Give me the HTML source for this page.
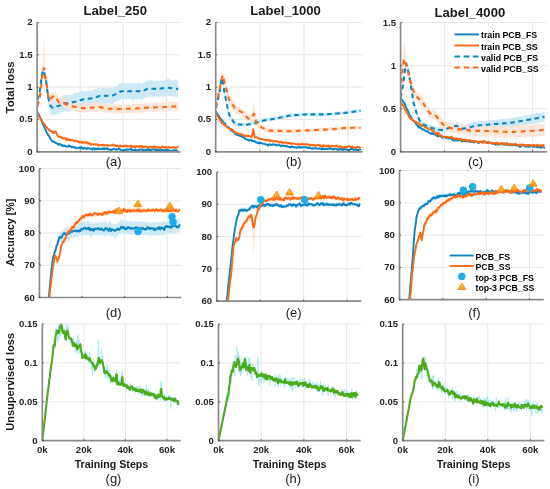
<!DOCTYPE html><html><head><meta charset="utf-8"><style>html,body{margin:0;padding:0;background:#fff;}svg{display:block;filter:blur(0.35px);}</style></head><body>
<svg width="550" height="489" viewBox="0 0 550 489">
<rect width="550" height="489" fill="#fff"/>
<defs>
<clipPath id="clipa"><rect x="37.20" y="21.90" width="143.30" height="129.90"/></clipPath>
<clipPath id="clipb"><rect x="215.70" y="21.90" width="147.00" height="129.90"/></clipPath>
<clipPath id="clipc"><rect x="400.60" y="22.10" width="146.50" height="129.70"/></clipPath>
<clipPath id="clipd"><rect x="39.40" y="168.10" width="142.00" height="129.40"/></clipPath>
<clipPath id="clipe"><rect x="216.80" y="171.50" width="144.60" height="129.60"/></clipPath>
<clipPath id="clipf"><rect x="399.50" y="170.10" width="144.30" height="129.60"/></clipPath>
<clipPath id="clipg"><rect x="42.30" y="323.40" width="138.40" height="117.30"/></clipPath>
<clipPath id="cliph"><rect x="218.50" y="323.60" width="142.20" height="117.10"/></clipPath>
<clipPath id="clipi"><rect x="402.70" y="323.60" width="141.70" height="117.10"/></clipPath>
<linearGradient id="tg" x1="0" y1="0" x2="0" y2="1"><stop offset="0" stop-color="#ffcc33"/><stop offset="1" stop-color="#ff9a10"/></linearGradient>
</defs>
<g stroke="#e6e6e6" stroke-width="1" fill="none"><line x1="37.20" y1="119.45" x2="180.50" y2="119.45"/><line x1="37.20" y1="87.10" x2="180.50" y2="87.10"/><line x1="37.20" y1="54.75" x2="180.50" y2="54.75"/><line x1="37.20" y1="22.40" x2="180.50" y2="22.40"/><line x1="80.23" y1="22.40" x2="80.23" y2="151.80"/><line x1="123.27" y1="22.40" x2="123.27" y2="151.80"/><line x1="166.30" y1="22.40" x2="166.30" y2="151.80"/></g>
<path d="M37.20,96.03 L37.70,95.00 L38.20,92.95 L38.70,91.82 L39.20,89.07 L39.70,87.74 L40.20,84.74 L40.70,80.27 L41.20,75.56 L41.70,70.38 L42.20,69.72 L42.70,67.97 L43.20,65.12 L43.70,65.22 L44.20,67.59 L44.70,69.70 L45.20,69.33 L45.70,71.99 L46.20,76.43 L46.70,79.42 L47.20,83.57 L47.70,87.43 L48.20,90.80 L48.70,93.09 L49.20,95.15 L49.70,96.46 L50.20,97.36 L50.70,97.99 L51.20,98.32 L51.70,99.48 L52.20,98.79 L52.70,99.47 L53.20,98.45 L53.70,98.93 L54.20,98.54 L54.70,99.01 L55.20,97.11 L55.70,97.89 L56.20,97.58 L56.70,98.74 L57.20,98.45 L57.70,98.31 L58.20,98.38 L58.70,98.01 L59.20,97.94 L59.70,97.49 L60.20,97.89 L60.70,97.16 L61.20,96.32 L61.70,96.85 L62.20,96.10 L62.70,96.06 L63.20,95.15 L63.70,95.72 L64.20,94.66 L64.70,95.19 L65.20,94.45 L65.70,94.54 L66.20,95.01 L66.70,95.86 L67.20,95.50 L67.70,95.43 L68.20,94.37 L68.70,95.23 L69.20,94.95 L69.70,94.78 L70.20,94.80 L70.70,94.82 L71.20,94.80 L71.70,95.04 L72.20,94.17 L72.70,94.09 L73.20,94.80 L73.70,93.59 L74.20,93.19 L74.70,92.86 L75.20,92.84 L75.70,92.86 L76.20,93.22 L76.70,92.88 L77.20,91.83 L77.70,92.80 L78.20,93.61 L78.70,91.93 L79.20,92.22 L79.70,91.76 L80.20,91.50 L80.70,92.87 L81.20,90.81 L81.70,90.03 L82.20,90.77 L82.70,90.70 L83.20,91.09 L83.70,91.96 L84.20,91.85 L84.70,91.71 L85.20,90.86 L85.70,90.66 L86.20,91.04 L86.70,90.22 L87.20,91.38 L87.70,90.83 L88.20,90.23 L88.70,90.96 L89.20,90.44 L89.70,90.10 L90.20,90.79 L90.70,91.32 L91.20,90.07 L91.70,91.16 L92.20,91.05 L92.70,90.44 L93.20,90.63 L93.70,88.90 L94.20,90.12 L94.70,88.83 L95.20,88.53 L95.70,89.82 L96.20,89.87 L96.70,89.78 L97.20,87.72 L97.70,87.90 L98.20,88.36 L98.70,87.44 L99.20,88.14 L99.70,86.96 L100.20,88.26 L100.70,88.91 L101.20,88.34 L101.70,87.43 L102.20,87.49 L102.70,87.79 L103.20,88.07 L103.70,87.80 L104.20,87.70 L104.70,87.70 L105.20,88.58 L105.70,88.37 L106.20,88.33 L106.70,88.40 L107.20,88.60 L107.70,88.61 L108.20,88.27 L108.70,87.71 L109.20,88.43 L109.70,88.48 L110.20,87.41 L110.70,87.93 L111.20,86.99 L111.70,87.71 L112.20,88.38 L112.70,87.50 L113.20,87.89 L113.70,87.97 L114.20,86.14 L114.70,86.36 L115.20,87.20 L115.70,85.18 L116.20,86.79 L116.70,86.40 L117.20,85.10 L117.70,85.47 L118.20,84.15 L118.70,83.70 L119.20,83.24 L119.70,83.28 L120.20,83.79 L120.70,83.15 L121.20,83.35 L121.70,82.44 L122.20,83.60 L122.70,82.13 L123.20,82.22 L123.70,83.95 L124.20,82.96 L124.70,83.92 L125.20,82.79 L125.70,84.02 L126.20,83.53 L126.70,83.71 L127.20,83.33 L127.70,83.09 L128.20,82.56 L128.70,82.64 L129.20,84.01 L129.70,83.50 L130.20,82.11 L130.70,82.98 L131.20,83.53 L131.70,83.66 L132.20,83.74 L132.70,82.84 L133.20,81.93 L133.70,83.34 L134.20,83.39 L134.70,83.00 L135.20,82.37 L135.70,82.85 L136.20,83.90 L136.70,83.87 L137.20,83.82 L137.70,82.99 L138.20,82.02 L138.70,81.60 L139.20,82.51 L139.70,83.16 L140.20,83.05 L140.70,83.19 L141.20,83.29 L141.70,83.01 L142.20,82.33 L142.70,83.53 L143.20,82.19 L143.70,83.11 L144.20,82.41 L144.70,82.25 L145.20,81.98 L145.70,81.18 L146.20,80.79 L146.70,80.99 L147.20,81.55 L147.70,80.85 L148.20,80.30 L148.70,80.34 L149.20,81.17 L149.70,80.52 L150.20,80.04 L150.70,80.75 L151.20,80.53 L151.70,78.99 L152.20,79.88 L152.70,80.97 L153.20,80.56 L153.70,81.12 L154.20,81.45 L154.70,80.69 L155.20,81.33 L155.70,80.77 L156.20,80.49 L156.70,80.82 L157.20,80.28 L157.70,80.93 L158.20,81.01 L158.70,81.07 L159.20,81.01 L159.70,81.26 L160.20,81.06 L160.70,80.07 L161.20,79.93 L161.70,80.43 L162.20,80.17 L162.70,80.35 L163.20,80.65 L163.70,80.57 L164.20,80.27 L164.70,80.25 L165.20,80.44 L165.70,80.21 L166.20,79.82 L166.70,79.31 L167.20,78.86 L167.70,78.61 L168.20,80.03 L168.70,78.33 L169.20,78.99 L169.70,79.14 L170.20,79.24 L170.70,79.90 L171.20,80.19 L171.70,80.37 L172.20,80.68 L172.70,80.40 L173.20,80.53 L173.70,80.44 L174.20,81.00 L174.70,80.15 L175.20,79.57 L175.70,79.37 L176.20,79.05 L176.70,80.85 L177.20,81.33 L177.70,81.23 L178.20,80.42 L178.20,98.52 L177.70,98.56 L177.20,97.36 L176.70,98.21 L176.20,96.27 L175.70,96.68 L175.20,96.98 L174.70,96.31 L174.20,97.63 L173.70,96.84 L173.20,96.18 L172.70,95.97 L172.20,96.03 L171.70,95.98 L171.20,96.21 L170.70,96.48 L170.20,96.63 L169.70,95.96 L169.20,95.34 L168.70,96.10 L168.20,95.89 L167.70,96.00 L167.20,95.34 L166.70,96.01 L166.20,95.42 L165.70,95.97 L165.20,96.89 L164.70,96.67 L164.20,96.87 L163.70,96.63 L163.20,96.65 L162.70,96.58 L162.20,97.15 L161.70,96.88 L161.20,95.94 L160.70,96.54 L160.20,96.80 L159.70,97.44 L159.20,96.52 L158.70,97.16 L158.20,96.51 L157.70,96.55 L157.20,98.14 L156.70,96.46 L156.20,96.56 L155.70,96.30 L155.20,96.75 L154.70,96.80 L154.20,96.36 L153.70,97.12 L153.20,97.70 L152.70,97.30 L152.20,96.47 L151.70,96.70 L151.20,97.40 L150.70,96.19 L150.20,96.22 L149.70,96.38 L149.20,96.96 L148.70,97.39 L148.20,97.11 L147.70,96.66 L147.20,96.45 L146.70,97.07 L146.20,98.33 L145.70,97.37 L145.20,98.27 L144.70,97.82 L144.20,98.23 L143.70,98.76 L143.20,98.33 L142.70,99.27 L142.20,99.13 L141.70,99.20 L141.20,99.72 L140.70,99.32 L140.20,100.11 L139.70,99.16 L139.20,98.92 L138.70,99.23 L138.20,99.28 L137.70,98.61 L137.20,99.26 L136.70,99.50 L136.20,100.26 L135.70,98.54 L135.20,98.66 L134.70,99.00 L134.20,100.09 L133.70,100.23 L133.20,100.10 L132.70,100.17 L132.20,100.36 L131.70,99.07 L131.20,98.71 L130.70,99.62 L130.20,98.50 L129.70,98.52 L129.20,98.77 L128.70,98.75 L128.20,99.19 L127.70,98.63 L127.20,98.82 L126.70,99.20 L126.20,100.30 L125.70,99.09 L125.20,98.73 L124.70,98.78 L124.20,98.82 L123.70,98.93 L123.20,99.04 L122.70,98.77 L122.20,98.58 L121.70,98.74 L121.20,100.12 L120.70,100.18 L120.20,99.25 L119.70,99.52 L119.20,100.57 L118.70,101.24 L118.20,100.37 L117.70,100.47 L117.20,101.22 L116.70,101.62 L116.20,101.77 L115.70,102.02 L115.20,101.72 L114.70,101.88 L114.20,102.04 L113.70,102.79 L113.20,103.60 L112.70,104.42 L112.20,103.65 L111.70,104.27 L111.20,103.17 L110.70,103.41 L110.20,104.56 L109.70,103.19 L109.20,103.07 L108.70,103.22 L108.20,102.78 L107.70,103.97 L107.20,103.15 L106.70,102.81 L106.20,102.93 L105.70,103.81 L105.20,103.81 L104.70,103.87 L104.20,104.61 L103.70,103.67 L103.20,104.06 L102.70,105.32 L102.20,106.40 L101.70,104.10 L101.20,103.94 L100.70,104.09 L100.20,103.65 L99.70,103.53 L99.20,104.90 L98.70,103.76 L98.20,104.02 L97.70,103.75 L97.20,104.54 L96.70,104.17 L96.20,104.79 L95.70,104.29 L95.20,105.52 L94.70,104.65 L94.20,104.97 L93.70,105.18 L93.20,105.08 L92.70,105.83 L92.20,105.50 L91.70,105.55 L91.20,106.60 L90.70,106.52 L90.20,107.22 L89.70,107.24 L89.20,107.22 L88.70,106.96 L88.20,106.10 L87.70,106.92 L87.20,106.53 L86.70,106.14 L86.20,106.73 L85.70,106.33 L85.20,106.19 L84.70,106.53 L84.20,106.72 L83.70,107.37 L83.20,107.56 L82.70,106.73 L82.20,107.38 L81.70,108.09 L81.20,107.84 L80.70,108.77 L80.20,108.77 L79.70,108.78 L79.20,108.72 L78.70,108.00 L78.20,108.37 L77.70,109.49 L77.20,109.36 L76.70,109.79 L76.20,109.40 L75.70,109.49 L75.20,109.80 L74.70,109.83 L74.20,109.42 L73.70,110.34 L73.20,109.60 L72.70,110.15 L72.20,110.15 L71.70,110.43 L71.20,110.75 L70.70,111.09 L70.20,110.39 L69.70,110.41 L69.20,111.38 L68.70,112.44 L68.20,112.22 L67.70,110.84 L67.20,111.46 L66.70,111.78 L66.20,110.86 L65.70,111.23 L65.20,111.14 L64.70,110.56 L64.20,110.87 L63.70,110.84 L63.20,112.37 L62.70,111.59 L62.20,112.67 L61.70,112.12 L61.20,112.30 L60.70,112.84 L60.20,112.89 L59.70,113.30 L59.20,113.95 L58.70,113.51 L58.20,114.00 L57.70,114.35 L57.20,114.40 L56.70,114.45 L56.20,114.55 L55.70,115.15 L55.20,114.83 L54.70,114.58 L54.20,115.05 L53.70,115.03 L53.20,115.49 L52.70,115.97 L52.20,115.78 L51.70,115.05 L51.20,114.48 L50.70,113.66 L50.20,112.24 L49.70,111.31 L49.20,109.00 L48.70,107.00 L48.20,103.94 L47.70,99.78 L47.20,96.66 L46.70,93.84 L46.20,87.80 L45.70,83.67 L45.20,82.86 L44.70,80.59 L44.20,78.48 L43.70,75.36 L43.20,74.86 L42.70,76.13 L42.20,77.44 L41.70,79.54 L41.20,83.66 L40.70,88.98 L40.20,91.98 L39.70,96.91 L39.20,98.41 L38.70,99.04 L38.20,100.67 L37.70,101.72 L37.20,103.52 Z" fill="#cde9f6" fill-opacity="1.00" clip-path="url(#clipa)"/>
<path d="M37.20,102.24 L37.70,101.47 L38.20,100.27 L38.70,98.48 L39.20,96.32 L39.70,93.99 L40.20,91.74 L40.70,87.07 L41.20,83.58 L41.70,79.08 L42.20,73.96 L42.70,67.64 L43.20,56.39 L43.70,44.28 L44.20,34.40 L44.70,46.86 L45.20,59.66 L45.70,72.37 L46.20,77.07 L46.70,80.31 L47.20,84.37 L47.70,87.80 L48.20,91.73 L48.70,93.93 L49.20,94.39 L49.70,95.01 L50.20,94.99 L50.70,94.53 L51.20,92.70 L51.70,92.92 L52.20,92.40 L52.70,91.99 L53.20,91.63 L53.70,91.22 L54.20,91.38 L54.70,91.87 L55.20,92.52 L55.70,93.09 L56.20,93.67 L56.70,93.79 L57.20,95.49 L57.70,96.09 L58.20,97.13 L58.70,97.72 L59.20,97.72 L59.70,97.86 L60.20,97.62 L60.70,96.27 L61.20,97.56 L61.70,97.41 L62.20,97.44 L62.70,98.09 L63.20,98.36 L63.70,98.06 L64.20,99.04 L64.70,99.50 L65.20,99.62 L65.70,99.92 L66.20,99.97 L66.70,100.18 L67.20,99.92 L67.70,100.22 L68.20,100.81 L68.70,101.02 L69.20,101.14 L69.70,100.83 L70.20,101.36 L70.70,101.41 L71.20,101.20 L71.70,101.28 L72.20,101.43 L72.70,101.21 L73.20,101.39 L73.70,101.84 L74.20,102.66 L74.70,102.14 L75.20,101.92 L75.70,102.19 L76.20,102.47 L76.70,102.37 L77.20,102.36 L77.70,102.99 L78.20,101.90 L78.70,102.75 L79.20,103.44 L79.70,102.55 L80.20,103.32 L80.70,103.34 L81.20,103.65 L81.70,103.07 L82.20,103.97 L82.70,104.15 L83.20,104.31 L83.70,103.92 L84.20,104.06 L84.70,104.19 L85.20,103.58 L85.70,103.61 L86.20,101.89 L86.70,102.93 L87.20,103.45 L87.70,103.63 L88.20,103.72 L88.70,103.16 L89.20,103.02 L89.70,103.59 L90.20,103.69 L90.70,103.04 L91.20,103.25 L91.70,103.45 L92.20,103.35 L92.70,102.30 L93.20,102.48 L93.70,103.00 L94.20,103.29 L94.70,102.28 L95.20,102.87 L95.70,101.72 L96.20,103.08 L96.70,103.08 L97.20,102.94 L97.70,102.59 L98.20,102.63 L98.70,102.74 L99.20,102.73 L99.70,102.18 L100.20,102.94 L100.70,102.33 L101.20,103.16 L101.70,103.17 L102.20,102.45 L102.70,103.60 L103.20,103.07 L103.70,103.21 L104.20,103.30 L104.70,103.96 L105.20,104.18 L105.70,103.78 L106.20,103.17 L106.70,103.21 L107.20,103.95 L107.70,103.56 L108.20,103.71 L108.70,104.51 L109.20,104.53 L109.70,103.92 L110.20,104.34 L110.70,104.41 L111.20,103.77 L111.70,104.71 L112.20,103.81 L112.70,104.66 L113.20,103.81 L113.70,104.02 L114.20,104.17 L114.70,104.62 L115.20,104.44 L115.70,104.75 L116.20,104.08 L116.70,104.74 L117.20,104.30 L117.70,104.37 L118.20,104.82 L118.70,104.42 L119.20,104.82 L119.70,104.58 L120.20,104.76 L120.70,104.58 L121.20,104.84 L121.70,104.30 L122.20,104.39 L122.70,104.41 L123.20,104.88 L123.70,104.13 L124.20,104.37 L124.70,104.37 L125.20,104.65 L125.70,104.71 L126.20,104.25 L126.70,104.34 L127.20,104.71 L127.70,104.66 L128.20,104.54 L128.70,104.18 L129.20,104.41 L129.70,104.38 L130.20,104.42 L130.70,104.52 L131.20,104.43 L131.70,104.40 L132.20,104.30 L132.70,103.86 L133.20,103.91 L133.70,102.99 L134.20,104.41 L134.70,104.45 L135.20,104.14 L135.70,103.74 L136.20,104.05 L136.70,103.53 L137.20,103.84 L137.70,104.04 L138.20,103.51 L138.70,103.93 L139.20,104.12 L139.70,103.60 L140.20,103.76 L140.70,103.83 L141.20,103.55 L141.70,103.04 L142.20,103.97 L142.70,103.90 L143.20,103.70 L143.70,103.32 L144.20,103.48 L144.70,103.14 L145.20,102.89 L145.70,103.23 L146.20,103.32 L146.70,103.71 L147.20,103.58 L147.70,102.94 L148.20,103.19 L148.70,103.17 L149.20,103.16 L149.70,103.35 L150.20,102.94 L150.70,103.42 L151.20,102.67 L151.70,103.23 L152.20,102.93 L152.70,103.39 L153.20,102.85 L153.70,102.51 L154.20,102.44 L154.70,103.29 L155.20,103.24 L155.70,102.83 L156.20,102.70 L156.70,102.64 L157.20,102.45 L157.70,103.04 L158.20,102.71 L158.70,103.17 L159.20,103.06 L159.70,102.96 L160.20,103.14 L160.70,102.77 L161.20,102.27 L161.70,102.71 L162.20,101.91 L162.70,102.04 L163.20,101.75 L163.70,102.96 L164.20,102.54 L164.70,102.64 L165.20,102.86 L165.70,102.61 L166.20,102.06 L166.70,102.67 L167.20,102.74 L167.70,101.71 L168.20,101.68 L168.70,102.04 L169.20,101.98 L169.70,102.23 L170.20,101.96 L170.70,101.51 L171.20,102.04 L171.70,101.92 L172.20,101.98 L172.70,101.77 L173.20,101.58 L173.70,102.47 L174.20,101.81 L174.70,101.56 L175.20,102.36 L175.70,102.21 L176.20,101.49 L176.70,101.67 L177.20,102.09 L177.70,101.54 L178.20,101.40 L178.20,110.52 L177.70,110.59 L177.20,110.49 L176.70,110.54 L176.20,110.90 L175.70,110.45 L175.20,110.79 L174.70,111.54 L174.20,110.56 L173.70,110.58 L173.20,110.55 L172.70,111.35 L172.20,111.02 L171.70,111.36 L171.20,110.91 L170.70,111.41 L170.20,111.37 L169.70,111.03 L169.20,110.84 L168.70,111.00 L168.20,110.87 L167.70,111.17 L167.20,111.55 L166.70,110.93 L166.20,111.71 L165.70,111.52 L165.20,111.08 L164.70,111.04 L164.20,111.36 L163.70,111.05 L163.20,111.60 L162.70,111.56 L162.20,112.51 L161.70,112.99 L161.20,111.70 L160.70,111.66 L160.20,111.31 L159.70,111.33 L159.20,111.61 L158.70,111.34 L158.20,111.85 L157.70,111.71 L157.20,111.45 L156.70,111.75 L156.20,112.17 L155.70,111.83 L155.20,112.23 L154.70,112.12 L154.20,112.66 L153.70,111.91 L153.20,112.30 L152.70,112.34 L152.20,111.74 L151.70,111.54 L151.20,111.99 L150.70,111.49 L150.20,111.62 L149.70,113.17 L149.20,112.76 L148.70,112.12 L148.20,111.78 L147.70,112.14 L147.20,111.93 L146.70,111.85 L146.20,111.91 L145.70,112.13 L145.20,111.91 L144.70,111.88 L144.20,112.12 L143.70,112.66 L143.20,113.10 L142.70,113.23 L142.20,113.60 L141.70,113.09 L141.20,113.03 L140.70,113.46 L140.20,112.87 L139.70,112.37 L139.20,112.36 L138.70,113.37 L138.20,114.31 L137.70,113.83 L137.20,112.93 L136.70,112.45 L136.20,112.62 L135.70,112.67 L135.20,113.01 L134.70,112.69 L134.20,113.32 L133.70,113.52 L133.20,113.14 L132.70,113.17 L132.20,112.63 L131.70,112.71 L131.20,113.91 L130.70,113.85 L130.20,112.92 L129.70,112.94 L129.20,112.82 L128.70,112.78 L128.20,113.62 L127.70,113.49 L127.20,113.42 L126.70,113.10 L126.20,113.13 L125.70,113.00 L125.20,112.93 L124.70,113.25 L124.20,113.19 L123.70,113.42 L123.20,113.72 L122.70,113.79 L122.20,112.94 L121.70,113.76 L121.20,113.05 L120.70,113.25 L120.20,113.06 L119.70,113.32 L119.20,113.41 L118.70,113.73 L118.20,112.99 L117.70,113.36 L117.20,114.02 L116.70,113.53 L116.20,113.48 L115.70,113.17 L115.20,114.09 L114.70,113.75 L114.20,113.14 L113.70,112.85 L113.20,113.05 L112.70,113.07 L112.20,112.83 L111.70,112.79 L111.20,112.91 L110.70,113.06 L110.20,113.00 L109.70,112.99 L109.20,112.70 L108.70,113.00 L108.20,112.79 L107.70,113.85 L107.20,112.87 L106.70,113.17 L106.20,112.74 L105.70,112.98 L105.20,113.20 L104.70,112.90 L104.20,113.10 L103.70,112.66 L103.20,112.39 L102.70,111.80 L102.20,111.90 L101.70,112.07 L101.20,112.42 L100.70,111.57 L100.20,111.33 L99.70,111.51 L99.20,110.99 L98.70,111.35 L98.20,111.08 L97.70,111.08 L97.20,111.90 L96.70,111.96 L96.20,111.73 L95.70,111.21 L95.20,112.05 L94.70,112.05 L94.20,112.54 L93.70,111.73 L93.20,112.35 L92.70,112.18 L92.20,112.24 L91.70,112.86 L91.20,112.45 L90.70,111.87 L90.20,112.05 L89.70,111.97 L89.20,111.96 L88.70,111.91 L88.20,112.19 L87.70,112.17 L87.20,112.55 L86.70,112.32 L86.20,112.36 L85.70,112.85 L85.20,112.66 L84.70,112.39 L84.20,113.05 L83.70,112.84 L83.20,112.86 L82.70,112.33 L82.20,112.39 L81.70,112.45 L81.20,112.27 L80.70,112.39 L80.20,111.86 L79.70,112.30 L79.20,112.32 L78.70,112.31 L78.20,112.00 L77.70,111.96 L77.20,111.28 L76.70,111.63 L76.20,112.23 L75.70,112.08 L75.20,111.61 L74.70,111.10 L74.20,111.24 L73.70,111.94 L73.20,111.34 L72.70,110.98 L72.20,110.40 L71.70,110.79 L71.20,110.15 L70.70,110.59 L70.20,110.53 L69.70,110.19 L69.20,109.72 L68.70,109.87 L68.20,109.59 L67.70,109.90 L67.20,108.71 L66.70,109.21 L66.20,109.04 L65.70,108.37 L65.20,108.35 L64.70,108.42 L64.20,107.34 L63.70,107.00 L63.20,107.07 L62.70,106.29 L62.20,106.83 L61.70,105.94 L61.20,105.77 L60.70,106.24 L60.20,105.96 L59.70,106.06 L59.20,107.51 L58.70,107.20 L58.20,105.40 L57.70,104.83 L57.20,104.22 L56.70,103.54 L56.20,102.43 L55.70,101.51 L55.20,100.92 L54.70,100.34 L54.20,100.95 L53.70,100.22 L53.20,100.48 L52.70,100.92 L52.20,101.40 L51.70,101.83 L51.20,103.30 L50.70,103.22 L50.20,104.48 L49.70,104.89 L49.20,103.68 L48.70,102.24 L48.20,99.85 L47.70,95.98 L47.20,92.00 L46.70,88.58 L46.20,85.87 L45.70,82.67 L45.20,80.07 L44.70,75.88 L44.20,71.28 L43.70,71.67 L43.20,73.93 L42.70,76.93 L42.20,81.38 L41.70,85.97 L41.20,90.03 L40.70,94.20 L40.20,98.35 L39.70,100.43 L39.20,102.83 L38.70,105.95 L38.20,107.38 L37.70,108.42 L37.20,109.45 Z" fill="#fde2d0" fill-opacity="0.85" clip-path="url(#clipa)"/>
<path d="M37.20,111.81 L37.70,113.13 L38.20,113.42 L38.70,114.09 L39.20,115.44 L39.70,117.10 L40.20,117.92 L40.70,118.41 L41.20,119.48 L41.70,120.91 L42.20,122.59 L42.70,123.59 L43.20,124.53 L43.70,125.65 L44.20,126.94 L44.70,127.79 L45.20,129.11 L45.70,130.23 L46.20,131.77 L46.70,132.30 L47.20,133.48 L47.70,133.74 L48.20,135.09 L48.70,135.79 L49.20,136.28 L49.70,137.15 L50.20,138.34 L50.70,138.81 L51.20,140.00 L51.70,140.89 L52.20,141.43 L52.70,141.86 L53.20,141.13 L53.70,141.68 L54.20,141.72 L54.70,142.58 L55.20,142.76 L55.70,143.02 L56.20,143.36 L56.70,143.24 L57.20,143.61 L57.70,143.59 L58.20,144.82 L58.70,144.47 L59.20,144.62 L59.70,144.03 L60.20,143.98 L60.70,144.28 L61.20,145.11 L61.70,145.51 L62.20,145.55 L62.70,145.28 L63.20,146.22 L63.70,145.55 L64.20,145.42 L64.70,145.96 L65.20,145.68 L65.70,146.13 L66.20,146.66 L66.70,146.54 L67.20,146.69 L67.70,146.64 L68.20,146.38 L68.70,145.34 L69.20,145.72 L69.70,146.38 L70.20,146.04 L70.70,146.37 L71.20,146.83 L71.70,147.49 L72.20,146.74 L72.70,146.80 L73.20,147.16 L73.70,147.45 L74.20,146.86 L74.70,147.93 L75.20,147.34 L75.70,147.89 L76.20,147.64 L76.70,147.82 L77.20,148.41 L77.70,148.31 L78.20,148.08 L78.70,147.59 L79.20,147.56 L79.70,147.28 L80.20,148.54 L80.70,147.65 L81.20,146.91 L81.70,148.28 L82.20,148.70 L82.70,148.25 L83.20,148.55 L83.70,148.03 L84.20,147.94 L84.70,148.34 L85.20,148.47 L85.70,148.20 L86.20,148.93 L86.70,148.88 L87.20,148.65 L87.70,148.05 L88.20,148.34 L88.70,148.30 L89.20,148.39 L89.70,148.78 L90.20,148.42 L90.70,148.62 L91.20,148.92 L91.70,148.88 L92.20,149.64 L92.70,148.38 L93.20,148.54 L93.70,148.19 L94.20,148.50 L94.70,149.65 L95.20,148.49 L95.70,148.58 L96.20,149.00 L96.70,148.96 L97.20,149.28 L97.70,148.45 L98.20,149.13 L98.70,148.66 L99.20,148.38 L99.70,148.99 L100.20,149.21 L100.70,148.82 L101.20,148.64 L101.70,148.82 L102.20,148.98 L102.70,148.98 L103.20,148.66 L103.70,148.03 L104.20,149.21 L104.70,149.24 L105.20,148.71 L105.70,148.37 L106.20,148.59 L106.70,148.79 L107.20,148.21 L107.70,149.37 L108.20,149.46 L108.70,149.21 L109.20,149.38 L109.70,149.41 L110.20,149.76 L110.70,149.55 L111.20,149.91 L111.70,150.17 L112.20,149.55 L112.70,149.26 L113.20,148.98 L113.70,149.13 L114.20,149.01 L114.70,149.25 L115.20,149.48 L115.70,149.67 L116.20,149.08 L116.70,149.74 L117.20,149.46 L117.70,149.43 L118.20,149.27 L118.70,148.63 L119.20,149.27 L119.70,148.74 L120.20,149.66 L120.70,149.62 L121.20,150.21 L121.70,150.10 L122.20,150.08 L122.70,150.36 L123.20,149.91 L123.70,150.36 L124.20,149.89 L124.70,149.86 L125.20,149.49 L125.70,149.83 L126.20,150.03 L126.70,149.65 L127.20,149.20 L127.70,149.52 L128.20,149.84 L128.70,149.74 L129.20,149.39 L129.70,149.36 L130.20,149.53 L130.70,148.67 L131.20,149.13 L131.70,150.12 L132.20,149.45 L132.70,149.60 L133.20,150.42 L133.70,150.36 L134.20,150.42 L134.70,150.03 L135.20,149.42 L135.70,150.83 L136.20,150.38 L136.70,150.18 L137.20,150.66 L137.70,150.53 L138.20,150.18 L138.70,149.59 L139.20,149.73 L139.70,149.79 L140.20,149.61 L140.70,149.47 L141.20,149.36 L141.70,149.67 L142.20,149.61 L142.70,149.99 L143.20,150.38 L143.70,150.26 L144.20,150.10 L144.70,150.65 L145.20,150.52 L145.70,149.63 L146.20,149.57 L146.70,149.92 L147.20,149.63 L147.70,150.17 L148.20,149.40 L148.70,149.03 L149.20,150.03 L149.70,150.27 L150.20,149.51 L150.70,149.87 L151.20,150.52 L151.70,149.81 L152.20,149.51 L152.70,149.38 L153.20,149.42 L153.70,149.14 L154.20,149.53 L154.70,149.31 L155.20,149.82 L155.70,150.88 L156.20,150.02 L156.70,150.45 L157.20,150.73 L157.70,149.47 L158.20,149.92 L158.70,150.06 L159.20,149.99 L159.70,150.42 L160.20,150.10 L160.70,150.29 L161.20,150.08 L161.70,150.10 L162.20,149.85 L162.70,150.96 L163.20,150.49 L163.70,149.89 L164.20,150.86 L164.70,151.11 L165.20,150.51 L165.70,150.09 L166.20,149.90 L166.70,150.60 L167.20,150.27 L167.70,149.99 L168.20,150.50 L168.70,150.26 L169.20,150.26 L169.70,151.05 L170.20,150.94 L170.70,151.05 L171.20,150.77 L171.70,151.01 L172.20,150.53 L172.70,150.79 L173.20,150.93 L173.70,150.42 L174.20,149.87 L174.70,150.38 L175.20,150.32 L175.70,150.59 L176.20,150.23 L176.70,150.53 L177.20,150.82 L177.70,151.50 L178.20,151.55" stroke="#0b84c3" stroke-width="1.90" fill="none" stroke-linejoin="round" clip-path="url(#clipa)"/>
<path d="M37.20,111.71 L37.70,112.69 L38.20,115.25 L38.70,115.77 L39.20,116.54 L39.70,117.65 L40.20,118.29 L40.70,118.93 L41.20,120.25 L41.70,120.91 L42.20,122.24 L42.70,122.78 L43.20,122.68 L43.70,123.22 L44.20,124.01 L44.70,124.25 L45.20,125.53 L45.70,126.23 L46.20,127.34 L46.70,127.35 L47.20,127.95 L47.70,128.84 L48.20,129.52 L48.70,129.24 L49.20,130.40 L49.70,130.20 L50.20,131.09 L50.70,131.05 L51.20,131.21 L51.70,131.04 L52.20,131.53 L52.70,132.88 L53.20,132.28 L53.70,133.06 L54.20,133.05 L54.70,131.73 L55.20,131.43 L55.70,131.82 L56.20,132.56 L56.70,133.56 L57.20,135.14 L57.70,135.62 L58.20,136.89 L58.70,137.04 L59.20,136.62 L59.70,136.89 L60.20,136.62 L60.70,137.41 L61.20,137.79 L61.70,137.57 L62.20,137.37 L62.70,138.13 L63.20,137.99 L63.70,138.69 L64.20,138.14 L64.70,138.30 L65.20,138.35 L65.70,138.25 L66.20,139.86 L66.70,140.16 L67.20,139.38 L67.70,139.73 L68.20,138.86 L68.70,139.85 L69.20,140.25 L69.70,139.89 L70.20,139.81 L70.70,140.09 L71.20,140.37 L71.70,140.20 L72.20,140.01 L72.70,140.24 L73.20,140.34 L73.70,140.95 L74.20,140.97 L74.70,141.12 L75.20,140.45 L75.70,140.79 L76.20,140.99 L76.70,141.09 L77.20,141.37 L77.70,141.47 L78.20,141.07 L78.70,142.01 L79.20,142.45 L79.70,142.09 L80.20,142.48 L80.70,142.02 L81.20,141.74 L81.70,142.11 L82.20,143.03 L82.70,142.75 L83.20,142.09 L83.70,142.60 L84.20,142.51 L84.70,142.46 L85.20,142.92 L85.70,142.28 L86.20,142.05 L86.70,142.13 L87.20,143.27 L87.70,143.36 L88.20,143.14 L88.70,143.06 L89.20,143.63 L89.70,144.15 L90.20,143.58 L90.70,143.80 L91.20,144.81 L91.70,144.52 L92.20,144.06 L92.70,144.20 L93.20,144.20 L93.70,144.48 L94.20,144.50 L94.70,144.20 L95.20,144.27 L95.70,144.55 L96.20,144.26 L96.70,144.51 L97.20,144.24 L97.70,145.06 L98.20,145.57 L98.70,144.81 L99.20,145.26 L99.70,145.20 L100.20,145.17 L100.70,145.01 L101.20,145.18 L101.70,145.57 L102.20,144.82 L102.70,145.46 L103.20,145.20 L103.70,144.77 L104.20,145.05 L104.70,145.46 L105.20,145.33 L105.70,145.46 L106.20,145.26 L106.70,145.12 L107.20,145.71 L107.70,145.16 L108.20,145.76 L108.70,145.74 L109.20,145.49 L109.70,145.43 L110.20,145.39 L110.70,145.49 L111.20,145.55 L111.70,145.54 L112.20,144.82 L112.70,144.47 L113.20,145.36 L113.70,145.33 L114.20,145.35 L114.70,145.55 L115.20,145.25 L115.70,146.24 L116.20,146.02 L116.70,145.87 L117.20,145.46 L117.70,146.11 L118.20,146.32 L118.70,146.74 L119.20,146.67 L119.70,145.96 L120.20,145.50 L120.70,146.42 L121.20,145.96 L121.70,146.02 L122.20,146.04 L122.70,146.34 L123.20,146.49 L123.70,145.92 L124.20,145.86 L124.70,145.41 L125.20,146.18 L125.70,146.21 L126.20,145.61 L126.70,146.51 L127.20,146.46 L127.70,146.03 L128.20,146.12 L128.70,146.10 L129.20,146.39 L129.70,146.57 L130.20,146.33 L130.70,146.64 L131.20,145.54 L131.70,146.03 L132.20,146.64 L132.70,147.01 L133.20,147.10 L133.70,146.39 L134.20,145.85 L134.70,146.19 L135.20,147.41 L135.70,147.08 L136.20,146.54 L136.70,145.95 L137.20,146.46 L137.70,146.43 L138.20,146.82 L138.70,146.85 L139.20,145.84 L139.70,146.34 L140.20,146.92 L140.70,146.60 L141.20,146.23 L141.70,146.10 L142.20,145.99 L142.70,147.39 L143.20,147.64 L143.70,146.92 L144.20,147.44 L144.70,146.67 L145.20,146.58 L145.70,146.46 L146.20,146.65 L146.70,147.08 L147.20,147.82 L147.70,147.59 L148.20,147.16 L148.70,147.11 L149.20,146.93 L149.70,147.12 L150.20,146.69 L150.70,146.98 L151.20,147.19 L151.70,147.48 L152.20,146.88 L152.70,147.15 L153.20,147.21 L153.70,146.80 L154.20,146.17 L154.70,146.50 L155.20,147.22 L155.70,147.04 L156.20,148.02 L156.70,147.72 L157.20,147.09 L157.70,147.09 L158.20,147.33 L158.70,147.44 L159.20,147.20 L159.70,147.39 L160.20,148.49 L160.70,148.10 L161.20,147.65 L161.70,147.22 L162.20,146.52 L162.70,147.05 L163.20,147.02 L163.70,147.17 L164.20,147.03 L164.70,147.52 L165.20,147.84 L165.70,147.26 L166.20,146.76 L166.70,147.25 L167.20,147.89 L167.70,147.75 L168.20,147.74 L168.70,146.97 L169.20,147.02 L169.70,147.50 L170.20,147.62 L170.70,147.52 L171.20,147.72 L171.70,147.92 L172.20,147.69 L172.70,147.29 L173.20,146.85 L173.70,147.34 L174.20,147.39 L174.70,147.41 L175.20,147.94 L175.70,147.45 L176.20,147.42 L176.70,147.78 L177.20,147.32 L177.70,146.63 L178.20,147.00" stroke="#ff6813" stroke-width="1.90" fill="none" stroke-linejoin="round" clip-path="url(#clipa)"/>
<path d="M37.20,100.00 L37.70,98.36 L38.20,96.72 L38.70,95.08 L39.20,93.44 L39.70,91.80 L40.20,88.22 L40.70,84.63 L41.20,79.60 L41.70,75.34 L42.20,73.68 L42.70,72.02 L43.20,70.36 L43.70,70.78 L44.20,72.57 L44.70,74.36 L45.20,76.15 L45.70,77.94 L46.20,81.57 L46.70,85.65 L47.20,89.62 L47.70,93.43 L48.20,97.24 L48.70,99.62 L49.20,101.65 L49.70,103.68 L50.20,105.40 L50.70,105.90 L51.20,106.40 L51.70,106.90 L52.20,107.40 L52.70,107.76 L53.20,107.58 L53.70,107.40 L54.20,107.22 L54.70,107.04 L55.20,106.86 L55.70,106.68 L56.20,106.50 L56.70,106.36 L57.20,106.22 L57.70,106.08 L58.20,105.94 L58.70,105.80 L59.20,105.66 L59.70,105.52 L60.20,105.38 L60.70,105.17 L61.20,104.85 L61.70,104.52 L62.20,104.20 L62.70,103.87 L63.20,103.55 L63.70,103.22 L64.20,102.90 L64.70,102.98 L65.20,103.06 L65.70,103.14 L66.20,103.22 L66.70,103.31 L67.20,103.39 L67.70,103.47 L68.20,103.42 L68.70,103.29 L69.20,103.16 L69.70,103.02 L70.20,102.89 L70.70,102.76 L71.20,102.62 L71.70,102.49 L72.20,102.36 L72.70,102.23 L73.20,102.12 L73.70,102.03 L74.20,101.94 L74.70,101.84 L75.20,101.75 L75.70,101.66 L76.20,101.54 L76.70,101.38 L77.20,101.22 L77.70,101.06 L78.20,100.91 L78.70,100.75 L79.20,100.59 L79.70,100.43 L80.20,100.27 L80.70,100.12 L81.20,99.96 L81.70,99.80 L82.20,99.64 L82.70,99.48 L83.20,99.33 L83.70,99.19 L84.20,99.14 L84.70,99.09 L85.20,99.03 L85.70,98.98 L86.20,98.93 L86.70,98.88 L87.20,98.83 L87.70,98.77 L88.20,98.72 L88.70,98.67 L89.20,98.62 L89.70,98.57 L90.20,98.51 L90.70,98.46 L91.20,98.41 L91.70,98.29 L92.20,98.15 L92.70,98.01 L93.20,97.88 L93.70,97.74 L94.20,97.60 L94.70,97.46 L95.20,97.32 L95.70,97.19 L96.20,97.05 L96.70,96.91 L97.20,96.77 L97.70,96.63 L98.20,96.50 L98.70,96.36 L99.20,96.22 L99.70,96.08 L100.20,95.99 L100.70,95.97 L101.20,95.95 L101.70,95.93 L102.20,95.92 L102.70,95.90 L103.20,95.88 L103.70,95.86 L104.20,95.84 L104.70,95.82 L105.20,95.80 L105.70,95.78 L106.20,95.76 L106.70,95.74 L107.20,95.72 L107.70,95.70 L108.20,95.68 L108.70,95.67 L109.20,95.65 L109.70,95.63 L110.20,95.61 L110.70,95.59 L111.20,95.57 L111.70,95.55 L112.20,95.53 L112.70,95.51 L113.20,95.40 L113.70,95.15 L114.20,94.90 L114.70,94.65 L115.20,94.40 L115.70,94.15 L116.20,93.90 L116.70,93.65 L117.20,93.40 L117.70,93.15 L118.20,92.89 L118.70,92.60 L119.20,92.32 L119.70,92.04 L120.20,91.75 L120.70,91.47 L121.20,91.30 L121.70,91.30 L122.20,91.30 L122.70,91.30 L123.20,91.30 L123.70,91.30 L124.20,91.30 L124.70,91.30 L125.20,91.30 L125.70,91.30 L126.20,91.30 L126.70,91.30 L127.20,91.30 L127.70,91.30 L128.20,91.30 L128.70,91.30 L129.20,91.30 L129.70,91.30 L130.20,91.30 L130.70,91.30 L131.20,91.30 L131.70,91.30 L132.20,91.30 L132.70,91.30 L133.20,91.30 L133.70,91.30 L134.20,91.30 L134.70,91.30 L135.20,91.30 L135.70,91.30 L136.20,91.29 L136.70,91.27 L137.20,91.25 L137.70,91.23 L138.20,91.21 L138.70,91.18 L139.20,91.16 L139.70,91.14 L140.20,91.12 L140.70,91.10 L141.20,91.08 L141.70,91.06 L142.20,91.03 L142.70,91.01 L143.20,90.90 L143.70,90.65 L144.20,90.40 L144.70,90.15 L145.20,89.90 L145.70,89.65 L146.20,89.40 L146.70,89.15 L147.20,88.90 L147.70,88.65 L148.20,88.51 L148.70,88.53 L149.20,88.56 L149.70,88.58 L150.20,88.61 L150.70,88.64 L151.20,88.66 L151.70,88.69 L152.20,88.71 L152.70,88.73 L153.20,88.76 L153.70,88.78 L154.20,88.81 L154.70,88.83 L155.20,88.86 L155.70,88.89 L156.20,88.91 L156.70,88.94 L157.20,88.96 L157.70,88.98 L158.20,88.97 L158.70,88.89 L159.20,88.81 L159.70,88.74 L160.20,88.66 L160.70,88.58 L161.20,88.50 L161.70,88.42 L162.20,88.35 L162.70,88.27 L163.20,88.19 L163.70,88.11 L164.20,88.04 L164.70,87.96 L165.20,87.88 L165.70,87.80 L166.20,87.72 L166.70,87.65 L167.20,87.62 L167.70,87.69 L168.20,87.75 L168.70,87.81 L169.20,87.87 L169.70,87.93 L170.20,87.99 L170.70,88.05 L171.20,88.11 L171.70,88.17 L172.20,88.23 L172.70,88.29 L173.20,88.35 L173.70,88.42 L174.20,88.48 L174.70,88.54 L175.20,88.60 L175.70,88.66 L176.20,88.72 L176.70,88.78 L177.20,88.84 L177.70,88.90 L178.20,88.96" stroke="#0b84c3" stroke-width="2.10" fill="none" stroke-linejoin="round" clip-path="url(#clipa)" stroke-dasharray="4.6 3.6"/>
<path d="M37.20,106.00 L37.70,104.81 L38.20,103.62 L38.70,101.94 L39.20,99.56 L39.70,97.17 L40.20,94.78 L40.70,91.00 L41.20,86.87 L41.70,82.57 L42.20,77.98 L42.70,73.40 L43.20,70.82 L43.70,68.25 L44.20,68.23 L44.70,72.07 L45.20,75.90 L45.70,78.96 L46.20,82.01 L46.70,85.07 L47.20,88.41 L47.70,92.18 L48.20,95.95 L48.70,97.93 L49.20,99.48 L49.70,100.13 L50.20,99.47 L50.70,98.80 L51.20,98.13 L51.70,97.68 L52.20,97.27 L52.70,96.87 L53.20,96.47 L53.70,96.06 L54.20,95.66 L54.70,95.92 L55.20,96.61 L55.70,97.31 L56.20,98.00 L56.70,98.84 L57.20,99.68 L57.70,100.52 L58.20,101.36 L58.70,102.20 L59.20,102.10 L59.70,102.01 L60.20,101.91 L60.70,101.81 L61.20,101.72 L61.70,101.62 L62.20,101.88 L62.70,102.22 L63.20,102.57 L63.70,102.92 L64.20,103.27 L64.70,103.61 L65.20,103.96 L65.70,104.20 L66.20,104.36 L66.70,104.52 L67.20,104.68 L67.70,104.85 L68.20,105.01 L68.70,105.17 L69.20,105.33 L69.70,105.49 L70.20,105.66 L70.70,105.82 L71.20,105.98 L71.70,106.14 L72.20,106.31 L72.70,106.47 L73.20,106.56 L73.70,106.64 L74.20,106.72 L74.70,106.80 L75.20,106.88 L75.70,106.95 L76.20,107.04 L76.70,107.13 L77.20,107.22 L77.70,107.31 L78.20,107.41 L78.70,107.50 L79.20,107.59 L79.70,107.68 L80.20,107.77 L80.70,107.87 L81.20,107.96 L81.70,108.05 L82.20,108.14 L82.70,108.23 L83.20,108.33 L83.70,108.39 L84.20,108.34 L84.70,108.29 L85.20,108.23 L85.70,108.18 L86.20,108.13 L86.70,108.08 L87.20,108.03 L87.70,107.97 L88.20,107.92 L88.70,107.87 L89.20,107.82 L89.70,107.77 L90.20,107.71 L90.70,107.66 L91.20,107.61 L91.70,107.56 L92.20,107.52 L92.70,107.47 L93.20,107.43 L93.70,107.38 L94.20,107.34 L94.70,107.29 L95.20,107.25 L95.70,107.20 L96.20,107.15 L96.70,107.11 L97.20,107.06 L97.70,107.02 L98.20,106.97 L98.70,106.93 L99.20,106.94 L99.70,107.05 L100.20,107.16 L100.70,107.28 L101.20,107.39 L101.70,107.50 L102.20,107.61 L102.70,107.72 L103.20,107.83 L103.70,107.94 L104.20,108.05 L104.70,108.16 L105.20,108.27 L105.70,108.38 L106.20,108.49 L106.70,108.60 L107.20,108.62 L107.70,108.63 L108.20,108.65 L108.70,108.66 L109.20,108.68 L109.70,108.69 L110.20,108.71 L110.70,108.72 L111.20,108.74 L111.70,108.75 L112.20,108.77 L112.70,108.78 L113.20,108.80 L113.70,108.81 L114.20,108.83 L114.70,108.84 L115.20,108.86 L115.70,108.87 L116.20,108.89 L116.70,108.90 L117.20,108.92 L117.70,108.93 L118.20,108.95 L118.70,108.96 L119.20,108.98 L119.70,108.99 L120.20,108.99 L120.70,108.98 L121.20,108.96 L121.70,108.94 L122.20,108.93 L122.70,108.91 L123.20,108.89 L123.70,108.88 L124.20,108.86 L124.70,108.84 L125.20,108.83 L125.70,108.81 L126.20,108.79 L126.70,108.78 L127.20,108.76 L127.70,108.74 L128.20,108.73 L128.70,108.71 L129.20,108.69 L129.70,108.68 L130.20,108.66 L130.70,108.64 L131.20,108.63 L131.70,108.61 L132.20,108.59 L132.70,108.58 L133.20,108.56 L133.70,108.54 L134.20,108.53 L134.70,108.51 L135.20,108.49 L135.70,108.45 L136.20,108.42 L136.70,108.39 L137.20,108.35 L137.70,108.32 L138.20,108.29 L138.70,108.25 L139.20,108.22 L139.70,108.19 L140.20,108.15 L140.70,108.12 L141.20,108.09 L141.70,108.05 L142.20,108.02 L142.70,107.99 L143.20,107.95 L143.70,107.92 L144.20,107.89 L144.70,107.85 L145.20,107.82 L145.70,107.79 L146.20,107.75 L146.70,107.72 L147.20,107.69 L147.70,107.65 L148.20,107.62 L148.70,107.59 L149.20,107.55 L149.70,107.52 L150.20,107.49 L150.70,107.48 L151.20,107.46 L151.70,107.44 L152.20,107.43 L152.70,107.41 L153.20,107.39 L153.70,107.38 L154.20,107.36 L154.70,107.34 L155.20,107.33 L155.70,107.31 L156.20,107.29 L156.70,107.28 L157.20,107.26 L157.70,107.24 L158.20,107.23 L158.70,107.21 L159.20,107.19 L159.70,107.18 L160.20,107.16 L160.70,107.14 L161.20,107.13 L161.70,107.11 L162.20,107.09 L162.70,107.08 L163.20,107.06 L163.70,107.04 L164.20,107.03 L164.70,107.01 L165.20,106.99 L165.70,106.96 L166.20,106.93 L166.70,106.90 L167.20,106.87 L167.70,106.84 L168.20,106.81 L168.70,106.78 L169.20,106.75 L169.70,106.72 L170.20,106.69 L170.70,106.66 L171.20,106.63 L171.70,106.60 L172.20,106.57 L172.70,106.54 L173.20,106.51 L173.70,106.48 L174.20,106.45 L174.70,106.43 L175.20,106.40 L175.70,106.37 L176.20,106.34 L176.70,106.31 L177.20,106.28 L177.70,106.25 L178.20,106.22" stroke="#ff6813" stroke-width="2.10" fill="none" stroke-linejoin="round" clip-path="url(#clipa)" stroke-dasharray="4.8 4.3"/>
<path d="M37.20,22.40 L37.20,151.80 L180.50,151.80" stroke="#8a8a8a" stroke-width="1.7" fill="none"/>
<path d="M37.20,151.80 h1.5 M37.20,119.45 h1.5 M37.20,87.10 h1.5 M37.20,54.75 h1.5 M37.20,22.40 h1.5 M37.20,151.80 v-1.5 M80.23,151.80 v-1.5 M123.27,151.80 v-1.5 M166.30,151.80 v-1.5" stroke="#555" stroke-width="1" fill="none"/>
<g font-family='"Liberation Sans", sans-serif' font-weight="bold" font-size="9.6" fill="#262626"><text x="32.60" y="154.80" text-anchor="end">0</text><text x="32.60" y="122.45" text-anchor="end">0.5</text><text x="32.60" y="90.10" text-anchor="end">1</text><text x="32.60" y="57.75" text-anchor="end">1.5</text><text x="32.60" y="25.40" text-anchor="end">2</text></g>
<g stroke="#e6e6e6" stroke-width="1" fill="none"><line x1="215.70" y1="119.45" x2="362.70" y2="119.45"/><line x1="215.70" y1="87.10" x2="362.70" y2="87.10"/><line x1="215.70" y1="54.75" x2="362.70" y2="54.75"/><line x1="215.70" y1="22.40" x2="362.70" y2="22.40"/><line x1="259.84" y1="22.40" x2="259.84" y2="151.80"/><line x1="303.99" y1="22.40" x2="303.99" y2="151.80"/><line x1="348.13" y1="22.40" x2="348.13" y2="151.80"/></g>
<path d="M215.70,105.85 L216.20,103.85 L216.70,101.60 L217.20,99.74 L217.70,97.64 L218.20,95.54 L218.70,93.52 L219.20,90.60 L219.70,87.44 L220.20,84.19 L220.70,81.49 L221.20,78.68 L221.70,75.40 L222.20,74.79 L222.70,77.08 L223.20,81.10 L223.70,84.24 L224.20,87.28 L224.70,90.08 L225.20,93.15 L225.70,95.55 L226.20,97.81 L226.70,100.31 L227.20,102.68 L227.70,105.25 L228.20,107.62 L228.70,110.36 L229.20,112.02 L229.70,112.71 L230.20,113.88 L230.70,114.71 L231.20,115.52 L231.70,115.93 L232.20,116.85 L232.70,117.94 L233.20,118.77 L233.70,119.39 L234.20,120.60 L234.70,121.44 L235.20,121.47 L235.70,121.81 L236.20,122.22 L236.70,122.17 L237.20,122.15 L237.70,122.37 L238.20,122.44 L238.70,122.60 L239.20,122.53 L239.70,122.63 L240.20,122.32 L240.70,122.51 L241.20,122.95 L241.70,122.49 L242.20,122.80 L242.70,123.05 L243.20,122.97 L243.70,123.16 L244.20,122.99 L244.70,123.11 L245.20,123.09 L245.70,123.20 L246.20,122.48 L246.70,123.04 L247.20,122.72 L247.70,122.78 L248.20,122.54 L248.70,122.16 L249.20,122.51 L249.70,122.24 L250.20,122.25 L250.70,121.84 L251.20,122.07 L251.70,121.51 L252.20,121.83 L252.70,121.65 L253.20,121.59 L253.70,121.10 L254.20,120.73 L254.70,120.83 L255.20,120.84 L255.70,121.14 L256.20,120.60 L256.70,120.42 L257.20,120.73 L257.70,120.06 L258.20,120.13 L258.70,120.04 L259.20,119.98 L259.70,119.73 L260.20,119.38 L260.70,119.55 L261.20,119.47 L261.70,119.05 L262.20,118.66 L262.70,119.10 L263.20,118.31 L263.70,118.56 L264.20,118.42 L264.70,118.62 L265.20,117.73 L265.70,118.03 L266.20,118.24 L266.70,118.12 L267.20,118.37 L267.70,118.34 L268.20,118.18 L268.70,117.70 L269.20,117.38 L269.70,117.19 L270.20,117.31 L270.70,117.43 L271.20,117.33 L271.70,117.33 L272.20,117.63 L272.70,117.42 L273.20,117.08 L273.70,117.29 L274.20,117.03 L274.70,117.21 L275.20,116.92 L275.70,116.42 L276.20,116.49 L276.70,116.09 L277.20,116.39 L277.70,116.26 L278.20,116.33 L278.70,116.13 L279.20,115.76 L279.70,115.89 L280.20,115.54 L280.70,115.50 L281.20,115.21 L281.70,115.68 L282.20,115.21 L282.70,115.05 L283.20,114.93 L283.70,114.84 L284.20,114.71 L284.70,114.93 L285.20,114.61 L285.70,114.77 L286.20,114.55 L286.70,114.58 L287.20,114.16 L287.70,114.29 L288.20,113.96 L288.70,114.15 L289.20,114.02 L289.70,113.79 L290.20,113.98 L290.70,113.79 L291.20,113.29 L291.70,113.72 L292.20,113.52 L292.70,113.50 L293.20,113.72 L293.70,113.74 L294.20,113.51 L294.70,113.55 L295.20,113.35 L295.70,113.45 L296.20,113.30 L296.70,113.16 L297.20,113.19 L297.70,113.42 L298.20,113.16 L298.70,112.52 L299.20,112.84 L299.70,112.98 L300.20,113.28 L300.70,112.93 L301.20,112.96 L301.70,113.13 L302.20,112.79 L302.70,112.90 L303.20,112.95 L303.70,112.76 L304.20,112.84 L304.70,112.88 L305.20,112.38 L305.70,112.89 L306.20,112.86 L306.70,112.94 L307.20,112.73 L307.70,112.36 L308.20,112.24 L308.70,112.27 L309.20,112.48 L309.70,112.94 L310.20,112.72 L310.70,112.71 L311.20,112.54 L311.70,112.53 L312.20,112.52 L312.70,112.53 L313.20,112.38 L313.70,112.79 L314.20,112.66 L314.70,112.44 L315.20,112.96 L315.70,112.77 L316.20,112.78 L316.70,112.38 L317.20,112.93 L317.70,112.98 L318.20,112.52 L318.70,111.98 L319.20,112.16 L319.70,112.60 L320.20,112.99 L320.70,112.46 L321.20,112.74 L321.70,112.63 L322.20,112.69 L322.70,112.10 L323.20,112.52 L323.70,112.78 L324.20,112.94 L324.70,112.94 L325.20,112.95 L325.70,112.66 L326.20,112.89 L326.70,112.75 L327.20,112.83 L327.70,112.28 L328.20,112.38 L328.70,112.66 L329.20,112.63 L329.70,112.25 L330.20,112.45 L330.70,112.24 L331.20,112.44 L331.70,112.41 L332.20,112.14 L332.70,112.31 L333.20,112.38 L333.70,112.29 L334.20,112.31 L334.70,111.68 L335.20,111.61 L335.70,111.70 L336.20,112.15 L336.70,111.49 L337.20,112.09 L337.70,111.83 L338.20,111.36 L338.70,111.95 L339.20,111.82 L339.70,111.74 L340.20,111.88 L340.70,111.68 L341.20,111.49 L341.70,111.58 L342.20,111.63 L342.70,111.53 L343.20,111.63 L343.70,111.11 L344.20,111.11 L344.70,111.11 L345.20,111.30 L345.70,110.79 L346.20,110.67 L346.70,111.01 L347.20,110.95 L347.70,110.85 L348.20,111.07 L348.70,110.60 L349.20,110.61 L349.70,110.92 L350.20,110.73 L350.70,110.76 L351.20,110.38 L351.70,110.59 L352.20,110.38 L352.70,110.48 L353.20,110.27 L353.70,110.32 L354.20,109.61 L354.70,109.58 L355.20,109.33 L355.70,109.18 L356.20,109.15 L356.70,109.49 L357.20,109.09 L357.70,109.46 L358.20,109.50 L358.70,109.08 L359.20,108.96 L359.70,109.51 L360.20,109.46 L360.70,109.13 L360.70,112.52 L360.20,112.23 L359.70,112.86 L359.20,112.30 L358.70,112.81 L358.20,112.78 L357.70,112.68 L357.20,113.14 L356.70,113.00 L356.20,113.21 L355.70,113.31 L355.20,113.06 L354.70,113.12 L354.20,113.08 L353.70,113.87 L353.20,113.27 L352.70,113.51 L352.20,113.39 L351.70,113.48 L351.20,113.73 L350.70,113.53 L350.20,113.76 L349.70,114.42 L349.20,114.04 L348.70,114.16 L348.20,113.91 L347.70,114.28 L347.20,114.26 L346.70,114.24 L346.20,114.18 L345.70,114.34 L345.20,114.62 L344.70,114.61 L344.20,114.48 L343.70,114.41 L343.20,114.47 L342.70,114.48 L342.20,114.69 L341.70,114.98 L341.20,114.74 L340.70,114.66 L340.20,114.91 L339.70,115.40 L339.20,115.82 L338.70,115.56 L338.20,115.11 L337.70,114.95 L337.20,115.14 L336.70,114.95 L336.20,115.15 L335.70,115.35 L335.20,115.04 L334.70,115.11 L334.20,115.70 L333.70,115.36 L333.20,115.42 L332.70,115.22 L332.20,115.68 L331.70,115.71 L331.20,115.74 L330.70,115.65 L330.20,115.60 L329.70,115.58 L329.20,115.68 L328.70,115.85 L328.20,116.01 L327.70,116.18 L327.20,116.14 L326.70,116.34 L326.20,116.20 L325.70,115.75 L325.20,116.08 L324.70,115.87 L324.20,116.10 L323.70,116.33 L323.20,116.45 L322.70,116.58 L322.20,115.98 L321.70,116.30 L321.20,115.90 L320.70,116.29 L320.20,116.49 L319.70,116.00 L319.20,115.82 L318.70,115.97 L318.20,116.10 L317.70,116.39 L317.20,116.51 L316.70,115.95 L316.20,116.68 L315.70,115.82 L315.20,115.92 L314.70,116.28 L314.20,116.59 L313.70,116.41 L313.20,116.20 L312.70,115.83 L312.20,116.21 L311.70,116.26 L311.20,116.18 L310.70,116.08 L310.20,116.15 L309.70,116.20 L309.20,116.00 L308.70,116.02 L308.20,116.03 L307.70,115.90 L307.20,115.83 L306.70,115.94 L306.20,116.16 L305.70,116.35 L305.20,115.89 L304.70,115.97 L304.20,116.24 L303.70,116.32 L303.20,116.10 L302.70,116.09 L302.20,116.12 L301.70,116.20 L301.20,116.14 L300.70,116.37 L300.20,116.24 L299.70,116.57 L299.20,116.80 L298.70,116.51 L298.20,116.55 L297.70,117.00 L297.20,116.65 L296.70,116.49 L296.20,116.71 L295.70,116.76 L295.20,116.74 L294.70,116.87 L294.20,116.74 L293.70,117.30 L293.20,117.08 L292.70,117.08 L292.20,116.97 L291.70,117.36 L291.20,117.47 L290.70,117.14 L290.20,117.07 L289.70,117.19 L289.20,117.45 L288.70,118.28 L288.20,117.88 L287.70,117.82 L287.20,117.86 L286.70,117.74 L286.20,117.97 L285.70,117.91 L285.20,118.07 L284.70,118.42 L284.20,118.59 L283.70,119.33 L283.20,118.80 L282.70,118.60 L282.20,118.80 L281.70,119.38 L281.20,119.62 L280.70,119.40 L280.20,119.22 L279.70,119.50 L279.20,119.41 L278.70,119.90 L278.20,120.01 L277.70,119.83 L277.20,120.25 L276.70,120.15 L276.20,120.25 L275.70,120.07 L275.20,120.33 L274.70,121.08 L274.20,121.12 L273.70,120.46 L273.20,120.83 L272.70,120.75 L272.20,121.11 L271.70,120.83 L271.20,121.34 L270.70,121.37 L270.20,121.15 L269.70,121.29 L269.20,121.23 L268.70,121.60 L268.20,121.43 L267.70,121.56 L267.20,121.76 L266.70,121.59 L266.20,122.07 L265.70,121.78 L265.20,122.09 L264.70,122.50 L264.20,122.34 L263.70,122.19 L263.20,122.67 L262.70,122.51 L262.20,122.72 L261.70,122.46 L261.20,122.91 L260.70,123.48 L260.20,123.08 L259.70,123.14 L259.20,123.75 L258.70,123.92 L258.20,123.72 L257.70,124.34 L257.20,123.89 L256.70,124.06 L256.20,124.51 L255.70,124.52 L255.20,125.41 L254.70,125.63 L254.20,125.31 L253.70,124.94 L253.20,125.07 L252.70,125.08 L252.20,125.24 L251.70,125.71 L251.20,125.93 L250.70,125.94 L250.20,125.59 L249.70,125.82 L249.20,125.89 L248.70,126.14 L248.20,126.20 L247.70,126.08 L247.20,126.48 L246.70,126.62 L246.20,126.64 L245.70,126.57 L245.20,126.55 L244.70,126.67 L244.20,126.64 L243.70,126.96 L243.20,126.76 L242.70,126.76 L242.20,126.35 L241.70,126.77 L241.20,126.80 L240.70,126.75 L240.20,126.28 L239.70,126.14 L239.20,126.24 L238.70,126.15 L238.20,126.19 L237.70,126.37 L237.20,126.58 L236.70,126.17 L236.20,126.19 L235.70,126.08 L235.20,126.57 L234.70,125.65 L234.20,124.92 L233.70,124.11 L233.20,123.49 L232.70,122.62 L232.20,122.04 L231.70,121.18 L231.20,120.35 L230.70,119.88 L230.20,119.20 L229.70,117.98 L229.20,117.37 L228.70,115.65 L228.20,113.22 L227.70,110.74 L227.20,108.62 L226.70,106.45 L226.20,103.63 L225.70,101.74 L225.20,99.41 L224.70,96.58 L224.20,93.75 L223.70,90.40 L223.20,87.29 L222.70,84.53 L222.20,81.68 L221.70,82.06 L221.20,84.57 L220.70,88.04 L220.20,90.69 L219.70,93.63 L219.20,96.49 L218.70,98.94 L218.20,100.62 L217.70,102.70 L217.20,104.49 L216.70,106.30 L216.20,108.23 L215.70,110.38 Z" fill="#cde9f6" fill-opacity="1.00" clip-path="url(#clipb)"/>
<path d="M215.70,104.08 L216.20,101.62 L216.70,99.42 L217.20,96.17 L217.70,94.48 L218.20,92.19 L218.70,89.47 L219.20,86.80 L219.70,84.13 L220.20,82.21 L220.70,78.78 L221.20,76.97 L221.70,74.51 L222.20,72.05 L222.70,70.57 L223.20,72.37 L223.70,73.89 L224.20,76.10 L224.70,77.73 L225.20,80.21 L225.70,82.39 L226.20,84.47 L226.70,86.20 L227.20,88.08 L227.70,89.86 L228.20,91.99 L228.70,93.95 L229.20,95.39 L229.70,96.10 L230.20,96.93 L230.70,97.82 L231.20,98.45 L231.70,99.11 L232.20,99.25 L232.70,99.92 L233.20,100.26 L233.70,101.66 L234.20,103.07 L234.70,103.11 L235.20,103.83 L235.70,104.46 L236.20,104.90 L236.70,105.28 L237.20,106.16 L237.70,105.19 L238.20,106.61 L238.70,106.93 L239.20,107.27 L239.70,106.65 L240.20,107.44 L240.70,107.12 L241.20,108.09 L241.70,108.67 L242.20,109.07 L242.70,109.65 L243.20,110.06 L243.70,110.50 L244.20,110.98 L244.70,111.60 L245.20,112.11 L245.70,111.46 L246.20,112.53 L246.70,113.94 L247.20,113.39 L247.70,113.08 L248.20,114.50 L248.70,115.48 L249.20,114.95 L249.70,114.54 L250.20,114.79 L250.70,115.09 L251.20,114.67 L251.70,112.74 L252.20,110.02 L252.70,106.82 L253.20,103.38 L253.70,102.77 L254.20,104.78 L254.70,109.37 L255.20,113.77 L255.70,117.54 L256.20,119.98 L256.70,120.58 L257.20,121.16 L257.70,121.79 L258.20,121.63 L258.70,122.52 L259.20,122.66 L259.70,123.13 L260.20,123.99 L260.70,124.38 L261.20,124.82 L261.70,125.02 L262.20,125.26 L262.70,125.73 L263.20,125.88 L263.70,126.06 L264.20,125.01 L264.70,126.15 L265.20,126.70 L265.70,127.19 L266.20,127.26 L266.70,127.84 L267.20,128.09 L267.70,128.46 L268.20,128.38 L268.70,128.34 L269.20,128.54 L269.70,127.50 L270.20,127.96 L270.70,128.42 L271.20,128.12 L271.70,128.44 L272.20,128.09 L272.70,128.75 L273.20,128.59 L273.70,127.30 L274.20,128.39 L274.70,128.56 L275.20,128.18 L275.70,128.40 L276.20,129.02 L276.70,128.09 L277.20,128.48 L277.70,128.77 L278.20,128.28 L278.70,128.51 L279.20,128.66 L279.70,128.45 L280.20,129.22 L280.70,128.24 L281.20,128.89 L281.70,129.10 L282.20,129.37 L282.70,128.03 L283.20,127.75 L283.70,128.28 L284.20,128.80 L284.70,129.39 L285.20,128.05 L285.70,128.31 L286.20,128.93 L286.70,129.60 L287.20,128.91 L287.70,129.60 L288.20,129.71 L288.70,129.04 L289.20,129.46 L289.70,129.72 L290.20,129.71 L290.70,129.09 L291.20,129.32 L291.70,129.60 L292.20,129.71 L292.70,129.61 L293.20,128.47 L293.70,128.52 L294.20,129.39 L294.70,129.06 L295.20,128.79 L295.70,129.39 L296.20,129.40 L296.70,129.35 L297.20,129.07 L297.70,128.78 L298.20,128.76 L298.70,128.83 L299.20,128.04 L299.70,129.16 L300.20,128.01 L300.70,128.37 L301.20,129.12 L301.70,128.79 L302.20,128.40 L302.70,129.12 L303.20,129.18 L303.70,128.70 L304.20,128.42 L304.70,128.66 L305.20,128.83 L305.70,128.88 L306.20,128.00 L306.70,128.90 L307.20,127.28 L307.70,127.97 L308.20,128.40 L308.70,128.90 L309.20,128.80 L309.70,128.71 L310.20,128.49 L310.70,128.01 L311.20,127.67 L311.70,127.90 L312.20,128.69 L312.70,128.53 L313.20,128.53 L313.70,128.45 L314.20,128.60 L314.70,128.18 L315.20,128.28 L315.70,128.32 L316.20,128.45 L316.70,128.25 L317.20,128.44 L317.70,127.66 L318.20,128.46 L318.70,127.94 L319.20,128.23 L319.70,128.26 L320.20,128.35 L320.70,128.14 L321.20,127.95 L321.70,127.95 L322.20,127.56 L322.70,127.80 L323.20,127.26 L323.70,127.05 L324.20,127.07 L324.70,127.46 L325.20,127.73 L325.70,127.51 L326.20,127.66 L326.70,127.88 L327.20,127.67 L327.70,127.62 L328.20,128.09 L328.70,127.73 L329.20,127.21 L329.70,127.10 L330.20,126.48 L330.70,126.98 L331.20,127.13 L331.70,127.04 L332.20,127.00 L332.70,126.60 L333.20,127.42 L333.70,127.54 L334.20,126.89 L334.70,126.95 L335.20,127.24 L335.70,126.82 L336.20,127.19 L336.70,126.50 L337.20,127.32 L337.70,127.04 L338.20,126.94 L338.70,126.28 L339.20,126.61 L339.70,126.64 L340.20,126.53 L340.70,126.69 L341.20,126.92 L341.70,126.55 L342.20,126.66 L342.70,126.54 L343.20,126.17 L343.70,125.18 L344.20,125.30 L344.70,126.53 L345.20,125.94 L345.70,126.24 L346.20,126.35 L346.70,126.05 L347.20,125.65 L347.70,125.71 L348.20,126.43 L348.70,126.03 L349.20,125.72 L349.70,126.27 L350.20,126.23 L350.70,126.13 L351.20,126.41 L351.70,126.33 L352.20,126.10 L352.70,126.24 L353.20,126.37 L353.70,126.36 L354.20,125.85 L354.70,126.00 L355.20,125.80 L355.70,126.09 L356.20,126.29 L356.70,126.14 L357.20,126.18 L357.70,125.46 L358.20,125.76 L358.70,125.70 L359.20,126.09 L359.70,126.19 L360.20,126.20 L360.70,126.33 L360.70,129.28 L360.20,129.95 L359.70,129.99 L359.20,129.18 L358.70,129.05 L358.20,130.10 L357.70,129.90 L357.20,129.71 L356.70,129.27 L356.20,129.77 L355.70,129.75 L355.20,129.12 L354.70,130.35 L354.20,129.28 L353.70,129.14 L353.20,129.59 L352.70,129.65 L352.20,129.63 L351.70,129.85 L351.20,130.04 L350.70,129.49 L350.20,129.28 L349.70,129.96 L349.20,129.61 L348.70,129.21 L348.20,129.79 L347.70,130.00 L347.20,129.38 L346.70,129.20 L346.20,129.74 L345.70,129.80 L345.20,130.13 L344.70,129.93 L344.20,130.03 L343.70,129.96 L343.20,130.17 L342.70,129.79 L342.20,129.93 L341.70,130.54 L341.20,130.85 L340.70,129.76 L340.20,130.14 L339.70,130.64 L339.20,129.87 L338.70,130.13 L338.20,130.16 L337.70,130.09 L337.20,130.33 L336.70,130.43 L336.20,130.71 L335.70,131.01 L335.20,131.14 L334.70,131.22 L334.20,130.67 L333.70,130.40 L333.20,130.59 L332.70,131.58 L332.20,130.93 L331.70,130.68 L331.20,131.20 L330.70,130.70 L330.20,130.88 L329.70,131.55 L329.20,130.79 L328.70,130.80 L328.20,130.87 L327.70,132.21 L327.20,131.75 L326.70,132.93 L326.20,131.73 L325.70,132.45 L325.20,132.39 L324.70,131.67 L324.20,131.50 L323.70,131.15 L323.20,131.36 L322.70,131.27 L322.20,132.29 L321.70,131.22 L321.20,131.45 L320.70,131.77 L320.20,131.99 L319.70,131.64 L319.20,131.48 L318.70,131.82 L318.20,131.68 L317.70,131.86 L317.20,131.40 L316.70,131.52 L316.20,131.42 L315.70,131.55 L315.20,132.34 L314.70,131.80 L314.20,131.48 L313.70,131.97 L313.20,131.81 L312.70,131.93 L312.20,131.89 L311.70,132.32 L311.20,131.71 L310.70,132.02 L310.20,132.73 L309.70,132.45 L309.20,132.60 L308.70,132.95 L308.20,131.88 L307.70,132.25 L307.20,132.18 L306.70,132.35 L306.20,133.00 L305.70,132.87 L305.20,132.18 L304.70,132.34 L304.20,132.18 L303.70,132.02 L303.20,133.62 L302.70,133.59 L302.20,132.34 L301.70,132.19 L301.20,132.62 L300.70,132.86 L300.20,132.40 L299.70,132.94 L299.20,132.23 L298.70,132.31 L298.20,132.37 L297.70,132.32 L297.20,132.72 L296.70,132.84 L296.20,132.37 L295.70,132.82 L295.20,133.12 L294.70,132.50 L294.20,133.12 L293.70,132.53 L293.20,132.73 L292.70,132.91 L292.20,133.00 L291.70,133.06 L291.20,132.96 L290.70,132.67 L290.20,133.37 L289.70,133.09 L289.20,133.28 L288.70,132.92 L288.20,133.62 L287.70,132.81 L287.20,133.33 L286.70,132.69 L286.20,132.91 L285.70,133.16 L285.20,132.68 L284.70,133.00 L284.20,133.13 L283.70,133.84 L283.20,133.19 L282.70,132.80 L282.20,132.88 L281.70,133.45 L281.20,132.67 L280.70,134.14 L280.20,133.41 L279.70,133.41 L279.20,133.21 L278.70,133.57 L278.20,132.69 L277.70,133.54 L277.20,132.77 L276.70,132.59 L276.20,132.63 L275.70,133.20 L275.20,133.00 L274.70,133.07 L274.20,132.98 L273.70,132.76 L273.20,133.26 L272.70,133.34 L272.20,133.30 L271.70,132.75 L271.20,133.70 L270.70,133.29 L270.20,133.32 L269.70,132.82 L269.20,132.71 L268.70,132.99 L268.20,132.64 L267.70,132.54 L267.20,132.35 L266.70,132.35 L266.20,132.10 L265.70,131.73 L265.20,131.91 L264.70,131.53 L264.20,130.97 L263.70,130.99 L263.20,130.87 L262.70,131.08 L262.20,130.97 L261.70,130.10 L261.20,130.34 L260.70,129.72 L260.20,129.34 L259.70,128.61 L259.20,128.35 L258.70,127.96 L258.20,127.79 L257.70,127.68 L257.20,126.91 L256.70,126.82 L256.20,125.90 L255.70,123.20 L255.20,121.32 L254.70,119.54 L254.20,117.23 L253.70,116.65 L253.20,118.44 L252.70,120.04 L252.20,121.45 L251.70,121.85 L251.20,122.55 L250.70,121.83 L250.20,121.27 L249.70,122.06 L249.20,122.10 L248.70,122.80 L248.20,122.27 L247.70,121.71 L247.20,120.80 L246.70,120.48 L246.20,120.06 L245.70,119.65 L245.20,119.22 L244.70,119.24 L244.20,118.13 L243.70,117.48 L243.20,117.51 L242.70,116.97 L242.20,116.03 L241.70,115.53 L241.20,115.66 L240.70,115.13 L240.20,115.40 L239.70,114.99 L239.20,115.06 L238.70,114.21 L238.20,114.14 L237.70,114.08 L237.20,113.55 L236.70,113.92 L236.20,113.53 L235.70,113.39 L235.20,112.97 L234.70,112.23 L234.20,111.62 L233.70,110.76 L233.20,110.21 L232.70,109.46 L232.20,109.17 L231.70,107.89 L231.20,107.29 L230.70,106.24 L230.20,105.48 L229.70,104.89 L229.20,104.51 L228.70,103.06 L228.20,101.45 L227.70,99.73 L227.20,96.88 L226.70,95.18 L226.20,93.37 L225.70,91.46 L225.20,89.45 L224.70,87.59 L224.20,85.98 L223.70,83.70 L223.20,81.54 L222.70,79.87 L222.20,82.15 L221.70,83.77 L221.20,86.69 L220.70,88.18 L220.20,91.33 L219.70,92.48 L219.20,95.29 L218.70,97.32 L218.20,100.14 L217.70,101.74 L217.20,103.82 L216.70,105.21 L216.20,107.78 L215.70,109.53 Z" fill="#fde2d0" fill-opacity="0.85" clip-path="url(#clipb)"/>
<path d="M215.70,111.02 L216.20,112.09 L216.70,113.20 L217.20,114.39 L217.70,114.26 L218.20,114.90 L218.70,115.56 L219.20,116.51 L219.70,117.42 L220.20,117.89 L220.70,118.94 L221.20,119.11 L221.70,120.18 L222.20,120.47 L222.70,121.34 L223.20,122.08 L223.70,122.53 L224.20,122.90 L224.70,123.33 L225.20,123.73 L225.70,125.15 L226.20,125.74 L226.70,126.76 L227.20,126.91 L227.70,127.20 L228.20,127.26 L228.70,127.66 L229.20,127.63 L229.70,128.76 L230.20,129.47 L230.70,130.19 L231.20,130.73 L231.70,130.35 L232.20,129.95 L232.70,131.18 L233.20,131.76 L233.70,131.83 L234.20,132.14 L234.70,133.12 L235.20,134.11 L235.70,134.23 L236.20,133.99 L236.70,134.57 L237.20,135.04 L237.70,134.58 L238.20,135.22 L238.70,135.03 L239.20,135.44 L239.70,135.92 L240.20,136.11 L240.70,135.79 L241.20,136.47 L241.70,136.26 L242.20,137.06 L242.70,136.62 L243.20,137.09 L243.70,137.43 L244.20,137.64 L244.70,138.19 L245.20,138.57 L245.70,139.42 L246.20,139.43 L246.70,139.71 L247.20,139.14 L247.70,139.77 L248.20,140.05 L248.70,140.42 L249.20,140.68 L249.70,140.08 L250.20,139.78 L250.70,139.94 L251.20,140.15 L251.70,141.03 L252.20,140.30 L252.70,140.80 L253.20,141.43 L253.70,141.37 L254.20,140.99 L254.70,141.13 L255.20,141.77 L255.70,142.19 L256.20,142.13 L256.70,142.38 L257.20,142.90 L257.70,142.56 L258.20,143.29 L258.70,142.60 L259.20,143.40 L259.70,142.61 L260.20,143.32 L260.70,143.20 L261.20,142.67 L261.70,143.10 L262.20,143.47 L262.70,143.70 L263.20,143.68 L263.70,143.63 L264.20,143.63 L264.70,143.82 L265.20,144.35 L265.70,144.36 L266.20,144.50 L266.70,144.44 L267.20,144.90 L267.70,145.48 L268.20,145.66 L268.70,144.57 L269.20,144.28 L269.70,144.13 L270.20,144.34 L270.70,145.26 L271.20,144.85 L271.70,144.88 L272.20,144.81 L272.70,144.22 L273.20,144.26 L273.70,144.47 L274.20,144.53 L274.70,144.77 L275.20,144.85 L275.70,145.00 L276.20,144.59 L276.70,145.39 L277.20,145.55 L277.70,145.22 L278.20,145.20 L278.70,145.08 L279.20,144.70 L279.70,145.49 L280.20,145.44 L280.70,145.98 L281.20,146.38 L281.70,145.57 L282.20,145.35 L282.70,145.87 L283.20,145.73 L283.70,145.66 L284.20,145.76 L284.70,146.12 L285.20,145.66 L285.70,146.02 L286.20,146.55 L286.70,146.21 L287.20,146.16 L287.70,146.46 L288.20,146.80 L288.70,146.97 L289.20,146.89 L289.70,147.29 L290.20,146.68 L290.70,147.25 L291.20,147.13 L291.70,146.79 L292.20,146.28 L292.70,147.15 L293.20,147.06 L293.70,147.15 L294.20,147.57 L294.70,147.06 L295.20,147.30 L295.70,147.44 L296.20,147.80 L296.70,147.49 L297.20,147.93 L297.70,147.28 L298.20,147.22 L298.70,147.00 L299.20,146.82 L299.70,147.72 L300.20,147.59 L300.70,147.45 L301.20,147.50 L301.70,147.52 L302.20,146.96 L302.70,147.13 L303.20,147.52 L303.70,147.13 L304.20,147.35 L304.70,147.39 L305.20,147.21 L305.70,147.04 L306.20,147.25 L306.70,147.65 L307.20,147.95 L307.70,147.35 L308.20,147.73 L308.70,148.06 L309.20,147.39 L309.70,147.28 L310.20,147.93 L310.70,148.27 L311.20,148.38 L311.70,148.81 L312.20,148.68 L312.70,148.89 L313.20,148.50 L313.70,148.38 L314.20,148.02 L314.70,148.26 L315.20,148.20 L315.70,148.12 L316.20,148.55 L316.70,148.65 L317.20,148.42 L317.70,148.58 L318.20,148.71 L318.70,148.82 L319.20,148.49 L319.70,148.85 L320.20,148.61 L320.70,148.79 L321.20,148.58 L321.70,149.41 L322.20,148.51 L322.70,149.04 L323.20,148.54 L323.70,149.28 L324.20,148.56 L324.70,148.98 L325.20,148.84 L325.70,149.19 L326.20,148.54 L326.70,148.63 L327.20,148.96 L327.70,149.23 L328.20,148.83 L328.70,148.22 L329.20,148.53 L329.70,148.54 L330.20,148.83 L330.70,148.77 L331.20,148.54 L331.70,148.76 L332.20,149.43 L332.70,149.40 L333.20,149.06 L333.70,149.28 L334.20,148.66 L334.70,148.71 L335.20,148.92 L335.70,148.91 L336.20,148.82 L336.70,149.02 L337.20,149.76 L337.70,149.39 L338.20,149.42 L338.70,149.90 L339.20,148.61 L339.70,148.87 L340.20,149.42 L340.70,148.79 L341.20,148.93 L341.70,149.62 L342.20,149.47 L342.70,149.46 L343.20,150.14 L343.70,148.98 L344.20,149.61 L344.70,149.01 L345.20,149.38 L345.70,149.61 L346.20,149.54 L346.70,149.38 L347.20,149.72 L347.70,149.72 L348.20,149.87 L348.70,150.00 L349.20,149.92 L349.70,150.30 L350.20,149.68 L350.70,148.92 L351.20,148.65 L351.70,149.13 L352.20,148.93 L352.70,149.19 L353.20,149.47 L353.70,150.11 L354.20,149.38 L354.70,149.71 L355.20,149.20 L355.70,149.80 L356.20,148.96 L356.70,149.96 L357.20,149.71 L357.70,150.51 L358.20,150.13 L358.70,149.57 L359.20,149.53 L359.70,149.44 L360.20,149.76 L360.70,150.23" stroke="#0b84c3" stroke-width="1.90" fill="none" stroke-linejoin="round" clip-path="url(#clipb)"/>
<path d="M215.70,113.25 L216.20,113.99 L216.70,114.77 L217.20,115.81 L217.70,116.42 L218.20,116.67 L218.70,117.84 L219.20,118.57 L219.70,119.34 L220.20,120.22 L220.70,121.07 L221.20,122.18 L221.70,122.92 L222.20,123.34 L222.70,123.36 L223.20,123.51 L223.70,124.21 L224.20,125.07 L224.70,125.22 L225.20,125.46 L225.70,125.99 L226.20,125.78 L226.70,126.29 L227.20,126.99 L227.70,127.63 L228.20,127.74 L228.70,128.22 L229.20,128.57 L229.70,129.08 L230.20,128.85 L230.70,129.52 L231.20,129.29 L231.70,129.04 L232.20,129.80 L232.70,130.20 L233.20,131.15 L233.70,131.66 L234.20,131.44 L234.70,132.23 L235.20,132.13 L235.70,132.52 L236.20,132.66 L236.70,132.94 L237.20,133.37 L237.70,133.57 L238.20,133.65 L238.70,133.87 L239.20,133.99 L239.70,133.76 L240.20,133.73 L240.70,133.89 L241.20,134.36 L241.70,134.40 L242.20,135.35 L242.70,134.78 L243.20,134.55 L243.70,135.17 L244.20,135.72 L244.70,135.72 L245.20,135.93 L245.70,136.29 L246.20,136.03 L246.70,135.48 L247.20,135.59 L247.70,136.16 L248.20,135.64 L248.70,135.95 L249.20,136.19 L249.70,136.13 L250.20,136.48 L250.70,136.62 L251.20,137.28 L251.70,137.02 L252.20,135.37 L252.70,132.28 L253.20,129.23 L253.70,131.64 L254.20,134.42 L254.70,136.97 L255.20,137.48 L255.70,137.33 L256.20,137.54 L256.70,137.24 L257.20,137.44 L257.70,137.73 L258.20,138.23 L258.70,138.75 L259.20,138.62 L259.70,138.72 L260.20,138.79 L260.70,139.18 L261.20,139.34 L261.70,139.26 L262.20,138.87 L262.70,139.40 L263.20,139.50 L263.70,139.89 L264.20,139.69 L264.70,140.32 L265.20,139.88 L265.70,140.40 L266.20,140.19 L266.70,139.95 L267.20,139.72 L267.70,140.01 L268.20,140.67 L268.70,140.78 L269.20,140.82 L269.70,139.87 L270.20,140.54 L270.70,140.81 L271.20,140.59 L271.70,140.52 L272.20,140.74 L272.70,141.43 L273.20,140.84 L273.70,140.85 L274.20,141.48 L274.70,141.18 L275.20,141.13 L275.70,141.31 L276.20,140.97 L276.70,141.37 L277.20,141.09 L277.70,141.72 L278.20,141.71 L278.70,142.51 L279.20,142.21 L279.70,142.49 L280.20,141.76 L280.70,141.90 L281.20,142.14 L281.70,142.75 L282.20,141.91 L282.70,142.49 L283.20,142.63 L283.70,143.04 L284.20,142.98 L284.70,142.78 L285.20,142.55 L285.70,142.26 L286.20,142.66 L286.70,142.73 L287.20,143.54 L287.70,143.03 L288.20,143.18 L288.70,142.65 L289.20,142.87 L289.70,143.22 L290.20,143.57 L290.70,143.93 L291.20,143.61 L291.70,143.14 L292.20,143.50 L292.70,143.68 L293.20,143.77 L293.70,143.43 L294.20,143.93 L294.70,143.80 L295.20,143.97 L295.70,144.26 L296.20,144.17 L296.70,144.05 L297.20,144.64 L297.70,144.27 L298.20,143.97 L298.70,144.00 L299.20,144.49 L299.70,144.26 L300.20,144.32 L300.70,144.59 L301.20,144.15 L301.70,143.60 L302.20,144.07 L302.70,144.26 L303.20,144.08 L303.70,144.52 L304.20,144.63 L304.70,144.16 L305.20,144.50 L305.70,144.42 L306.20,143.99 L306.70,144.47 L307.20,144.53 L307.70,144.34 L308.20,144.70 L308.70,144.86 L309.20,144.59 L309.70,144.83 L310.20,145.15 L310.70,144.73 L311.20,144.95 L311.70,144.93 L312.20,145.69 L312.70,144.66 L313.20,145.11 L313.70,144.98 L314.20,145.02 L314.70,145.72 L315.20,145.39 L315.70,146.02 L316.20,145.41 L316.70,145.45 L317.20,145.21 L317.70,145.07 L318.20,145.28 L318.70,145.28 L319.20,145.46 L319.70,144.79 L320.20,145.90 L320.70,145.63 L321.20,146.18 L321.70,145.50 L322.20,145.67 L322.70,146.71 L323.20,145.80 L323.70,145.25 L324.20,145.36 L324.70,145.75 L325.20,146.00 L325.70,146.31 L326.20,145.94 L326.70,145.36 L327.20,145.53 L327.70,146.17 L328.20,146.18 L328.70,145.41 L329.20,145.74 L329.70,146.37 L330.20,146.87 L330.70,146.57 L331.20,146.39 L331.70,145.81 L332.20,145.73 L332.70,146.01 L333.20,146.29 L333.70,146.44 L334.20,146.16 L334.70,145.85 L335.20,145.86 L335.70,145.75 L336.20,146.32 L336.70,145.59 L337.20,145.96 L337.70,146.39 L338.20,146.93 L338.70,146.68 L339.20,146.90 L339.70,146.54 L340.20,146.30 L340.70,146.25 L341.20,146.96 L341.70,147.09 L342.20,146.99 L342.70,147.90 L343.20,147.17 L343.70,147.11 L344.20,147.00 L344.70,146.80 L345.20,147.57 L345.70,147.62 L346.20,146.70 L346.70,146.68 L347.20,146.96 L347.70,147.20 L348.20,146.61 L348.70,146.09 L349.20,146.02 L349.70,146.61 L350.20,146.85 L350.70,147.11 L351.20,146.86 L351.70,146.62 L352.20,146.28 L352.70,146.94 L353.20,147.23 L353.70,147.56 L354.20,147.65 L354.70,147.37 L355.20,147.79 L355.70,147.48 L356.20,147.20 L356.70,147.14 L357.20,147.12 L357.70,146.60 L358.20,147.18 L358.70,147.45 L359.20,147.38 L359.70,147.25 L360.20,147.57 L360.70,148.15" stroke="#ff6813" stroke-width="1.90" fill="none" stroke-linejoin="round" clip-path="url(#clipb)"/>
<path d="M215.70,108.00 L216.20,106.03 L216.70,104.06 L217.20,102.09 L217.70,100.12 L218.20,98.15 L218.70,96.18 L219.20,93.79 L219.70,90.75 L220.20,87.72 L220.70,84.69 L221.20,81.65 L221.70,78.62 L222.20,78.01 L222.70,81.05 L223.20,84.08 L223.70,87.11 L224.20,90.15 L224.70,93.18 L225.20,95.97 L225.70,98.39 L226.20,100.82 L226.70,103.24 L227.20,105.67 L227.70,108.09 L228.20,110.52 L228.70,112.94 L229.20,114.72 L229.70,115.52 L230.20,116.32 L230.70,117.12 L231.20,117.92 L231.70,118.72 L232.20,119.52 L232.70,120.32 L233.20,121.12 L233.70,121.92 L234.20,122.72 L234.70,123.52 L235.20,124.02 L235.70,124.07 L236.20,124.12 L236.70,124.17 L237.20,124.22 L237.70,124.27 L238.20,124.32 L238.70,124.37 L239.20,124.42 L239.70,124.47 L240.20,124.52 L240.70,124.57 L241.20,124.62 L241.70,124.67 L242.20,124.72 L242.70,124.77 L243.20,124.82 L243.70,124.87 L244.20,124.92 L244.70,124.97 L245.20,124.96 L245.70,124.86 L246.20,124.76 L246.70,124.66 L247.20,124.56 L247.70,124.46 L248.20,124.36 L248.70,124.26 L249.20,124.16 L249.70,124.06 L250.20,123.96 L250.70,123.86 L251.20,123.76 L251.70,123.66 L252.20,123.56 L252.70,123.46 L253.20,123.36 L253.70,123.26 L254.20,123.16 L254.70,123.06 L255.20,122.94 L255.70,122.78 L256.20,122.62 L256.70,122.47 L257.20,122.31 L257.70,122.15 L258.20,121.99 L258.70,121.84 L259.20,121.68 L259.70,121.52 L260.20,121.37 L260.70,121.21 L261.20,121.05 L261.70,120.89 L262.20,120.77 L262.70,120.69 L263.20,120.61 L263.70,120.53 L264.20,120.44 L264.70,120.36 L265.20,120.28 L265.70,120.20 L266.20,120.12 L266.70,120.04 L267.20,119.96 L267.70,119.88 L268.20,119.80 L268.70,119.72 L269.20,119.64 L269.70,119.56 L270.20,119.48 L270.70,119.39 L271.20,119.31 L271.70,119.23 L272.20,119.15 L272.70,119.07 L273.20,118.99 L273.70,118.91 L274.20,118.83 L274.70,118.75 L275.20,118.66 L275.70,118.55 L276.20,118.44 L276.70,118.34 L277.20,118.23 L277.70,118.12 L278.20,118.02 L278.70,117.91 L279.20,117.80 L279.70,117.70 L280.20,117.59 L280.70,117.48 L281.20,117.38 L281.70,117.27 L282.20,117.16 L282.70,117.06 L283.20,116.95 L283.70,116.84 L284.20,116.74 L284.70,116.63 L285.20,116.52 L285.70,116.42 L286.20,116.31 L286.70,116.20 L287.20,116.10 L287.70,115.99 L288.20,115.88 L288.70,115.78 L289.20,115.67 L289.70,115.56 L290.20,115.49 L290.70,115.45 L291.20,115.41 L291.70,115.38 L292.20,115.34 L292.70,115.30 L293.20,115.27 L293.70,115.23 L294.20,115.19 L294.70,115.16 L295.20,115.12 L295.70,115.08 L296.20,115.05 L296.70,115.01 L297.20,114.97 L297.70,114.94 L298.20,114.90 L298.70,114.86 L299.20,114.83 L299.70,114.79 L300.20,114.75 L300.70,114.72 L301.20,114.68 L301.70,114.64 L302.20,114.61 L302.70,114.57 L303.20,114.53 L303.70,114.50 L304.20,114.46 L304.70,114.42 L305.20,114.40 L305.70,114.40 L306.20,114.40 L306.70,114.40 L307.20,114.40 L307.70,114.40 L308.20,114.40 L308.70,114.40 L309.20,114.40 L309.70,114.40 L310.20,114.40 L310.70,114.40 L311.20,114.40 L311.70,114.40 L312.20,114.40 L312.70,114.40 L313.20,114.40 L313.70,114.40 L314.20,114.40 L314.70,114.40 L315.20,114.40 L315.70,114.40 L316.20,114.40 L316.70,114.40 L317.20,114.40 L317.70,114.40 L318.20,114.40 L318.70,114.40 L319.20,114.40 L319.70,114.40 L320.20,114.40 L320.70,114.40 L321.20,114.40 L321.70,114.40 L322.20,114.40 L322.70,114.40 L323.20,114.40 L323.70,114.40 L324.20,114.40 L324.70,114.40 L325.20,114.39 L325.70,114.35 L326.20,114.31 L326.70,114.27 L327.20,114.24 L327.70,114.20 L328.20,114.16 L328.70,114.12 L329.20,114.09 L329.70,114.05 L330.20,114.01 L330.70,113.97 L331.20,113.94 L331.70,113.90 L332.20,113.86 L332.70,113.82 L333.20,113.79 L333.70,113.75 L334.20,113.71 L334.70,113.67 L335.20,113.64 L335.70,113.60 L336.20,113.56 L336.70,113.52 L337.20,113.49 L337.70,113.45 L338.20,113.41 L338.70,113.37 L339.20,113.34 L339.70,113.30 L340.20,113.26 L340.70,113.22 L341.20,113.19 L341.70,113.15 L342.20,113.11 L342.70,113.07 L343.20,113.04 L343.70,113.00 L344.20,112.96 L344.70,112.92 L345.20,112.87 L345.70,112.80 L346.20,112.74 L346.70,112.67 L347.20,112.60 L347.70,112.53 L348.20,112.46 L348.70,112.39 L349.20,112.32 L349.70,112.25 L350.20,112.19 L350.70,112.12 L351.20,112.05 L351.70,111.98 L352.20,111.91 L352.70,111.84 L353.20,111.77 L353.70,111.70 L354.20,111.64 L354.70,111.57 L355.20,111.50 L355.70,111.43 L356.20,111.36 L356.70,111.29 L357.20,111.22 L357.70,111.15 L358.20,111.09 L358.70,111.02 L359.20,110.95 L359.70,110.88 L360.20,110.81 L360.70,110.74" stroke="#0b84c3" stroke-width="2.10" fill="none" stroke-linejoin="round" clip-path="url(#clipb)" stroke-dasharray="4.6 3.6"/>
<path d="M215.70,106.90 L216.20,104.64 L216.70,102.38 L217.20,100.13 L217.70,97.87 L218.20,95.61 L218.70,93.35 L219.20,91.04 L219.70,88.64 L220.20,86.23 L220.70,83.83 L221.20,81.43 L221.70,79.03 L222.20,76.62 L222.70,75.09 L223.20,77.05 L223.70,79.00 L224.20,80.96 L224.70,82.91 L225.20,84.87 L225.70,86.83 L226.20,88.76 L226.70,90.66 L227.20,92.56 L227.70,94.46 L228.20,96.36 L228.70,98.26 L229.20,99.70 L229.70,100.43 L230.20,101.17 L230.70,101.91 L231.20,102.65 L231.70,103.39 L232.20,104.13 L232.70,104.86 L233.20,105.60 L233.70,106.34 L234.20,107.08 L234.70,107.82 L235.20,108.56 L235.70,109.10 L236.20,109.35 L236.70,109.60 L237.20,109.85 L237.70,110.10 L238.20,110.35 L238.70,110.60 L239.20,110.85 L239.70,111.10 L240.20,111.35 L240.70,111.60 L241.20,111.85 L241.70,112.10 L242.20,112.50 L242.70,113.01 L243.20,113.52 L243.70,114.03 L244.20,114.54 L244.70,115.04 L245.20,115.55 L245.70,116.06 L246.20,116.57 L246.70,117.07 L247.20,117.58 L247.70,118.09 L248.20,118.60 L248.70,118.62 L249.20,118.53 L249.70,118.44 L250.20,118.34 L250.70,118.25 L251.20,118.15 L251.70,118.06 L252.20,117.50 L252.70,116.25 L253.20,115.00 L253.70,113.75 L254.20,113.88 L254.70,116.08 L255.20,118.28 L255.70,120.48 L256.20,122.68 L256.70,124.13 L257.20,124.45 L257.70,124.76 L258.20,125.08 L258.70,125.40 L259.20,125.72 L259.70,126.04 L260.20,126.35 L260.70,126.67 L261.20,126.99 L261.70,127.31 L262.20,127.61 L262.70,127.87 L263.20,128.14 L263.70,128.41 L264.20,128.68 L264.70,128.95 L265.20,129.21 L265.70,129.48 L266.20,129.75 L266.70,130.02 L267.20,130.29 L267.70,130.50 L268.20,130.52 L268.70,130.54 L269.20,130.56 L269.70,130.57 L270.20,130.59 L270.70,130.61 L271.20,130.63 L271.70,130.65 L272.20,130.66 L272.70,130.68 L273.20,130.70 L273.70,130.72 L274.20,130.74 L274.70,130.75 L275.20,130.77 L275.70,130.79 L276.20,130.81 L276.70,130.83 L277.20,130.84 L277.70,130.86 L278.20,130.88 L278.70,130.90 L279.20,130.91 L279.70,130.93 L280.20,130.95 L280.70,130.97 L281.20,130.99 L281.70,131.00 L282.20,131.02 L282.70,131.04 L283.20,131.06 L283.70,131.08 L284.20,131.09 L284.70,131.11 L285.20,131.13 L285.70,131.15 L286.20,131.16 L286.70,131.18 L287.20,131.20 L287.70,131.22 L288.20,131.24 L288.70,131.25 L289.20,131.27 L289.70,131.29 L290.20,131.29 L290.70,131.26 L291.20,131.24 L291.70,131.21 L292.20,131.18 L292.70,131.16 L293.20,131.13 L293.70,131.10 L294.20,131.08 L294.70,131.05 L295.20,131.02 L295.70,131.00 L296.20,130.97 L296.70,130.94 L297.20,130.92 L297.70,130.89 L298.20,130.86 L298.70,130.84 L299.20,130.81 L299.70,130.78 L300.20,130.76 L300.70,130.73 L301.20,130.70 L301.70,130.68 L302.20,130.65 L302.70,130.62 L303.20,130.60 L303.70,130.57 L304.20,130.54 L304.70,130.52 L305.20,130.49 L305.70,130.47 L306.20,130.45 L306.70,130.43 L307.20,130.40 L307.70,130.38 L308.20,130.36 L308.70,130.34 L309.20,130.32 L309.70,130.29 L310.20,130.27 L310.70,130.25 L311.20,130.23 L311.70,130.21 L312.20,130.18 L312.70,130.16 L313.20,130.14 L313.70,130.12 L314.20,130.10 L314.70,130.07 L315.20,130.05 L315.70,130.03 L316.20,130.01 L316.70,129.99 L317.20,129.96 L317.70,129.94 L318.20,129.92 L318.70,129.90 L319.20,129.88 L319.70,129.85 L320.20,129.83 L320.70,129.81 L321.20,129.79 L321.70,129.77 L322.20,129.74 L322.70,129.72 L323.20,129.70 L323.70,129.68 L324.20,129.66 L324.70,129.63 L325.20,129.61 L325.70,129.59 L326.20,129.57 L326.70,129.55 L327.20,129.52 L327.70,129.50 L328.20,129.48 L328.70,129.46 L329.20,129.44 L329.70,129.41 L330.20,129.38 L330.70,129.33 L331.20,129.28 L331.70,129.23 L332.20,129.18 L332.70,129.13 L333.20,129.08 L333.70,129.03 L334.20,128.98 L334.70,128.93 L335.20,128.88 L335.70,128.83 L336.20,128.78 L336.70,128.73 L337.20,128.68 L337.70,128.63 L338.20,128.58 L338.70,128.53 L339.20,128.48 L339.70,128.43 L340.20,128.38 L340.70,128.33 L341.20,128.28 L341.70,128.23 L342.20,128.18 L342.70,128.13 L343.20,128.08 L343.70,128.03 L344.20,127.98 L344.70,127.93 L345.20,127.90 L345.70,127.89 L346.20,127.89 L346.70,127.88 L347.20,127.87 L347.70,127.87 L348.20,127.86 L348.70,127.85 L349.20,127.85 L349.70,127.84 L350.20,127.84 L350.70,127.83 L351.20,127.82 L351.70,127.82 L352.20,127.81 L352.70,127.80 L353.20,127.80 L353.70,127.79 L354.20,127.79 L354.70,127.78 L355.20,127.77 L355.70,127.77 L356.20,127.76 L356.70,127.75 L357.20,127.75 L357.70,127.74 L358.20,127.73 L358.70,127.73 L359.20,127.72 L359.70,127.72 L360.20,127.71 L360.70,127.70" stroke="#ff6813" stroke-width="2.10" fill="none" stroke-linejoin="round" clip-path="url(#clipb)" stroke-dasharray="4.8 4.3"/>
<path d="M215.70,22.40 L215.70,151.80 L362.70,151.80" stroke="#8a8a8a" stroke-width="1.7" fill="none"/>
<path d="M215.70,151.80 h1.5 M215.70,119.45 h1.5 M215.70,87.10 h1.5 M215.70,54.75 h1.5 M215.70,22.40 h1.5 M215.70,151.80 v-1.5 M259.84,151.80 v-1.5 M303.99,151.80 v-1.5 M348.13,151.80 v-1.5" stroke="#555" stroke-width="1" fill="none"/>
<g font-family='"Liberation Sans", sans-serif' font-weight="bold" font-size="9.6" fill="#262626"><text x="211.10" y="154.80" text-anchor="end">0</text><text x="211.10" y="122.45" text-anchor="end">0.5</text><text x="211.10" y="90.10" text-anchor="end">1</text><text x="211.10" y="57.75" text-anchor="end">1.5</text><text x="211.10" y="25.40" text-anchor="end">2</text></g>
<g stroke="#e6e6e6" stroke-width="1" fill="none"><line x1="400.60" y1="108.73" x2="547.10" y2="108.73"/><line x1="400.60" y1="65.67" x2="547.10" y2="65.67"/><line x1="400.60" y1="22.60" x2="547.10" y2="22.60"/><line x1="444.59" y1="22.60" x2="444.59" y2="151.80"/><line x1="488.59" y1="22.60" x2="488.59" y2="151.80"/><line x1="532.58" y1="22.60" x2="532.58" y2="151.80"/></g>
<path d="M400.60,95.17 L401.10,91.83 L401.60,88.85 L402.10,85.65 L402.60,83.39 L403.10,80.13 L403.60,76.25 L404.10,73.08 L404.60,68.55 L405.10,65.29 L405.60,61.50 L406.10,58.72 L406.60,60.39 L407.10,62.32 L407.60,64.79 L408.10,66.76 L408.60,67.86 L409.10,71.26 L409.60,73.94 L410.10,77.03 L410.60,79.74 L411.10,83.44 L411.60,86.93 L412.10,89.75 L412.60,93.53 L413.10,96.26 L413.60,98.83 L414.10,101.49 L414.60,103.09 L415.10,104.24 L415.60,106.91 L416.10,108.73 L416.60,109.68 L417.10,111.65 L417.60,112.63 L418.10,114.38 L418.60,115.43 L419.10,116.99 L419.60,117.79 L420.10,118.39 L420.60,119.10 L421.10,119.76 L421.60,119.73 L422.10,120.41 L422.60,121.29 L423.10,121.67 L423.60,121.97 L424.10,122.40 L424.60,122.14 L425.10,123.01 L425.60,123.03 L426.10,122.90 L426.60,123.61 L427.10,123.80 L427.60,124.03 L428.10,123.73 L428.60,124.06 L429.10,124.64 L429.60,124.51 L430.10,123.77 L430.60,125.17 L431.10,125.06 L431.60,124.74 L432.10,125.07 L432.60,125.83 L433.10,124.96 L433.60,126.02 L434.10,125.34 L434.60,126.41 L435.10,126.53 L435.60,126.10 L436.10,126.13 L436.60,126.86 L437.10,126.66 L437.60,127.13 L438.10,126.91 L438.60,127.00 L439.10,126.49 L439.60,127.24 L440.10,126.17 L440.60,126.20 L441.10,126.51 L441.60,127.33 L442.10,127.11 L442.60,126.68 L443.10,126.88 L443.60,126.54 L444.10,126.93 L444.60,126.53 L445.10,126.59 L445.60,126.08 L446.10,125.62 L446.60,125.74 L447.10,125.43 L447.60,124.10 L448.10,124.82 L448.60,124.88 L449.10,124.77 L449.60,124.64 L450.10,123.75 L450.60,123.31 L451.10,123.37 L451.60,124.00 L452.10,123.80 L452.60,123.51 L453.10,122.75 L453.60,122.91 L454.10,122.43 L454.60,122.97 L455.10,122.86 L455.60,123.00 L456.10,121.95 L456.60,121.34 L457.10,122.23 L457.60,122.89 L458.10,123.12 L458.60,123.60 L459.10,123.73 L459.60,123.64 L460.10,123.76 L460.60,124.00 L461.10,123.88 L461.60,123.79 L462.10,125.03 L462.60,124.89 L463.10,125.00 L463.60,124.78 L464.10,124.88 L464.60,124.67 L465.10,125.00 L465.60,124.78 L466.10,124.86 L466.60,124.74 L467.10,124.26 L467.60,124.49 L468.10,124.32 L468.60,123.43 L469.10,124.00 L469.60,122.59 L470.10,122.96 L470.60,122.60 L471.10,122.60 L471.60,122.99 L472.10,122.77 L472.60,122.65 L473.10,121.87 L473.60,122.23 L474.10,121.40 L474.60,121.05 L475.10,121.75 L475.60,121.10 L476.10,121.47 L476.60,121.67 L477.10,121.91 L477.60,121.84 L478.10,121.73 L478.60,121.05 L479.10,121.00 L479.60,121.57 L480.10,121.47 L480.60,120.83 L481.10,120.50 L481.60,121.44 L482.10,120.65 L482.60,121.27 L483.10,120.91 L483.60,121.23 L484.10,120.68 L484.60,121.16 L485.10,120.93 L485.60,120.02 L486.10,120.77 L486.60,120.96 L487.10,120.91 L487.60,120.61 L488.10,120.69 L488.60,120.19 L489.10,120.34 L489.60,120.43 L490.10,120.16 L490.60,119.80 L491.10,119.68 L491.60,120.03 L492.10,120.31 L492.60,119.91 L493.10,119.92 L493.60,119.47 L494.10,119.96 L494.60,119.87 L495.10,119.87 L495.60,119.60 L496.10,119.84 L496.60,119.78 L497.10,119.84 L497.60,119.91 L498.10,119.64 L498.60,119.61 L499.10,119.77 L499.60,118.81 L500.10,119.32 L500.60,119.38 L501.10,119.45 L501.60,118.74 L502.10,118.94 L502.60,119.21 L503.10,119.08 L503.60,118.75 L504.10,118.83 L504.60,118.92 L505.10,119.29 L505.60,119.01 L506.10,118.51 L506.60,118.71 L507.10,119.06 L507.60,118.99 L508.10,118.29 L508.60,118.06 L509.10,118.20 L509.60,118.73 L510.10,118.62 L510.60,118.22 L511.10,118.57 L511.60,118.22 L512.10,118.15 L512.60,117.59 L513.10,117.74 L513.60,117.27 L514.10,117.31 L514.60,117.98 L515.10,117.72 L515.60,117.28 L516.10,116.31 L516.60,117.03 L517.10,117.16 L517.60,116.92 L518.10,116.63 L518.60,115.73 L519.10,116.35 L519.60,117.02 L520.10,116.28 L520.60,116.83 L521.10,116.69 L521.60,116.50 L522.10,116.49 L522.60,115.67 L523.10,115.94 L523.60,116.07 L524.10,115.21 L524.60,115.54 L525.10,115.26 L525.60,115.03 L526.10,114.93 L526.60,115.24 L527.10,115.12 L527.60,115.63 L528.10,114.79 L528.60,115.07 L529.10,115.22 L529.60,115.25 L530.10,114.28 L530.60,114.19 L531.10,113.98 L531.60,114.65 L532.10,114.78 L532.60,114.59 L533.10,113.45 L533.60,113.89 L534.10,114.16 L534.60,113.43 L535.10,113.72 L535.60,113.56 L536.10,112.49 L536.60,112.79 L537.10,113.52 L537.60,113.12 L538.10,113.32 L538.60,113.16 L539.10,112.68 L539.60,113.17 L540.10,112.88 L540.60,112.85 L541.10,112.55 L541.60,112.29 L542.10,112.39 L542.60,112.42 L543.10,112.15 L543.60,112.26 L544.10,111.58 L544.60,112.34 L544.60,121.71 L544.10,121.49 L543.60,121.87 L543.10,122.09 L542.60,122.22 L542.10,122.04 L541.60,122.27 L541.10,122.06 L540.60,122.75 L540.10,122.33 L539.60,122.25 L539.10,122.47 L538.60,123.00 L538.10,122.64 L537.60,123.11 L537.10,122.66 L536.60,122.94 L536.10,124.99 L535.60,123.86 L535.10,123.45 L534.60,123.57 L534.10,123.47 L533.60,123.35 L533.10,123.75 L532.60,123.88 L532.10,124.06 L531.60,123.92 L531.10,123.85 L530.60,123.84 L530.10,124.16 L529.60,124.47 L529.10,124.00 L528.60,124.48 L528.10,124.96 L527.60,124.48 L527.10,124.55 L526.60,124.67 L526.10,124.65 L525.60,125.11 L525.10,124.99 L524.60,124.77 L524.10,125.98 L523.60,125.64 L523.10,124.96 L522.60,125.24 L522.10,125.25 L521.60,125.25 L521.10,125.38 L520.60,125.50 L520.10,125.99 L519.60,125.68 L519.10,125.68 L518.60,126.28 L518.10,125.93 L517.60,126.02 L517.10,126.38 L516.60,126.47 L516.10,126.33 L515.60,127.23 L515.10,126.53 L514.60,126.51 L514.10,126.65 L513.60,126.71 L513.10,127.24 L512.60,127.45 L512.10,127.30 L511.60,127.18 L511.10,126.83 L510.60,127.64 L510.10,127.57 L509.60,127.81 L509.10,127.93 L508.60,128.01 L508.10,127.23 L507.60,127.22 L507.10,127.11 L506.60,127.52 L506.10,127.20 L505.60,128.07 L505.10,127.92 L504.60,127.52 L504.10,127.91 L503.60,128.23 L503.10,127.60 L502.60,127.45 L502.10,128.21 L501.60,128.18 L501.10,127.98 L500.60,127.65 L500.10,127.87 L499.60,127.84 L499.10,127.78 L498.60,128.12 L498.10,128.00 L497.60,128.48 L497.10,128.04 L496.60,128.41 L496.10,128.36 L495.60,128.39 L495.10,128.48 L494.60,129.24 L494.10,129.18 L493.60,128.88 L493.10,128.22 L492.60,129.01 L492.10,129.23 L491.60,129.13 L491.10,129.10 L490.60,128.60 L490.10,128.58 L489.60,128.97 L489.10,129.17 L488.60,129.01 L488.10,128.92 L487.60,128.50 L487.10,128.55 L486.60,128.79 L486.10,128.65 L485.60,128.63 L485.10,128.62 L484.60,128.69 L484.10,128.76 L483.60,128.83 L483.10,128.83 L482.60,128.98 L482.10,129.72 L481.60,129.04 L481.10,129.33 L480.60,129.74 L480.10,129.23 L479.60,129.00 L479.10,129.71 L478.60,129.11 L478.10,129.79 L477.60,130.29 L477.10,129.44 L476.60,129.75 L476.10,130.95 L475.60,130.78 L475.10,129.79 L474.60,129.78 L474.10,129.95 L473.60,130.39 L473.10,130.12 L472.60,130.94 L472.10,131.07 L471.60,131.13 L471.10,130.75 L470.60,131.00 L470.10,131.10 L469.60,131.03 L469.10,131.28 L468.60,131.33 L468.10,131.47 L467.60,132.32 L467.10,133.21 L466.60,131.89 L466.10,132.23 L465.60,132.03 L465.10,132.03 L464.60,132.14 L464.10,131.82 L463.60,131.84 L463.10,132.38 L462.60,132.13 L462.10,132.03 L461.60,132.45 L461.10,132.21 L460.60,131.05 L460.10,130.90 L459.60,130.66 L459.10,130.43 L458.60,130.52 L458.10,130.61 L457.60,129.65 L457.10,129.21 L456.60,129.26 L456.10,129.16 L455.60,129.51 L455.10,130.40 L454.60,129.42 L454.10,129.52 L453.60,129.59 L453.10,129.71 L452.60,129.85 L452.10,130.27 L451.60,130.59 L451.10,130.21 L450.60,130.36 L450.10,131.22 L449.60,131.21 L449.10,131.69 L448.60,131.94 L448.10,131.21 L447.60,131.41 L447.10,131.95 L446.60,131.77 L446.10,132.31 L445.60,132.44 L445.10,132.53 L444.60,132.68 L444.10,132.47 L443.60,132.70 L443.10,132.33 L442.60,132.63 L442.10,132.94 L441.60,133.28 L441.10,133.61 L440.60,132.60 L440.10,132.88 L439.60,133.50 L439.10,133.83 L438.60,133.06 L438.10,132.46 L437.60,132.58 L437.10,132.25 L436.60,131.88 L436.10,132.30 L435.60,132.17 L435.10,131.75 L434.60,131.75 L434.10,131.76 L433.60,131.05 L433.10,130.75 L432.60,131.01 L432.10,130.38 L431.60,130.98 L431.10,130.30 L430.60,130.27 L430.10,129.82 L429.60,129.74 L429.10,129.68 L428.60,129.45 L428.10,129.85 L427.60,129.56 L427.10,128.52 L426.60,128.76 L426.10,129.19 L425.60,129.20 L425.10,127.51 L424.60,127.13 L424.10,127.00 L423.60,126.82 L423.10,126.36 L422.60,125.71 L422.10,125.41 L421.60,124.97 L421.10,124.81 L420.60,124.23 L420.10,123.78 L419.60,122.69 L419.10,121.80 L418.60,120.99 L418.10,119.49 L417.60,118.29 L417.10,117.18 L416.60,116.16 L416.10,114.41 L415.60,112.69 L415.10,111.09 L414.60,109.70 L414.10,107.57 L413.60,105.83 L413.10,103.55 L412.60,100.52 L412.10,96.95 L411.60,93.54 L411.10,90.63 L410.60,87.40 L410.10,84.76 L409.60,82.32 L409.10,79.18 L408.60,76.48 L408.10,75.18 L407.60,72.66 L407.10,70.83 L406.60,70.24 L406.10,67.86 L405.60,70.59 L405.10,73.47 L404.60,77.07 L404.10,80.34 L403.60,83.84 L403.10,88.35 L402.60,90.85 L402.10,92.86 L401.60,94.87 L401.10,97.44 L400.60,99.54 Z" fill="#cde9f6" fill-opacity="1.00" clip-path="url(#clipc)"/>
<path d="M400.60,88.50 L401.10,82.49 L401.60,75.75 L402.10,65.93 L402.60,58.86 L403.10,51.23 L403.60,43.48 L404.10,38.56 L404.60,42.95 L405.10,48.18 L405.60,53.05 L406.10,57.68 L406.60,62.39 L407.10,64.30 L407.60,66.39 L408.10,68.35 L408.60,70.03 L409.10,72.02 L409.60,74.11 L410.10,75.66 L410.60,77.41 L411.10,79.19 L411.60,80.48 L412.10,82.06 L412.60,83.51 L413.10,85.46 L413.60,86.42 L414.10,87.17 L414.60,88.91 L415.10,89.17 L415.60,90.35 L416.10,90.56 L416.60,91.95 L417.10,92.65 L417.60,93.16 L418.10,93.68 L418.60,94.35 L419.10,93.76 L419.60,94.28 L420.10,94.57 L420.60,95.52 L421.10,96.20 L421.60,96.35 L422.10,96.40 L422.60,97.19 L423.10,98.50 L423.60,99.80 L424.10,100.37 L424.60,100.73 L425.10,101.25 L425.60,102.76 L426.10,103.00 L426.60,104.60 L427.10,105.16 L427.60,105.97 L428.10,105.75 L428.60,107.11 L429.10,106.65 L429.60,107.22 L430.10,109.43 L430.60,108.69 L431.10,110.06 L431.60,110.55 L432.10,110.30 L432.60,110.16 L433.10,109.49 L433.60,110.28 L434.10,109.46 L434.60,109.44 L435.10,110.22 L435.60,111.72 L436.10,111.75 L436.60,111.91 L437.10,112.06 L437.60,112.69 L438.10,114.13 L438.60,114.73 L439.10,115.41 L439.60,116.18 L440.10,116.80 L440.60,117.39 L441.10,117.20 L441.60,117.24 L442.10,118.43 L442.60,119.78 L443.10,120.03 L443.60,120.07 L444.10,120.50 L444.60,120.98 L445.10,121.80 L445.60,121.32 L446.10,120.03 L446.60,120.98 L447.10,122.22 L447.60,122.66 L448.10,122.27 L448.60,121.85 L449.10,122.07 L449.60,122.84 L450.10,122.25 L450.60,122.08 L451.10,123.71 L451.60,123.69 L452.10,123.28 L452.60,124.32 L453.10,123.34 L453.60,124.06 L454.10,124.02 L454.60,124.59 L455.10,124.59 L455.60,124.60 L456.10,123.85 L456.60,124.55 L457.10,124.47 L457.60,124.35 L458.10,124.93 L458.60,124.85 L459.10,124.74 L459.60,124.19 L460.10,124.36 L460.60,123.73 L461.10,123.80 L461.60,124.24 L462.10,124.21 L462.60,124.23 L463.10,124.04 L463.60,124.80 L464.10,124.83 L464.60,123.45 L465.10,124.63 L465.60,124.79 L466.10,124.71 L466.60,124.42 L467.10,125.48 L467.60,124.66 L468.10,124.83 L468.60,125.41 L469.10,125.00 L469.60,125.32 L470.10,126.26 L470.60,126.37 L471.10,126.11 L471.60,126.38 L472.10,126.15 L472.60,126.16 L473.10,125.15 L473.60,126.34 L474.10,126.12 L474.60,125.93 L475.10,125.56 L475.60,125.79 L476.10,125.89 L476.60,126.26 L477.10,125.59 L477.60,125.36 L478.10,125.72 L478.60,125.62 L479.10,125.93 L479.60,125.24 L480.10,125.50 L480.60,126.20 L481.10,125.98 L481.60,126.10 L482.10,125.15 L482.60,125.52 L483.10,125.87 L483.60,125.27 L484.10,124.92 L484.60,125.71 L485.10,125.70 L485.60,125.33 L486.10,125.80 L486.60,125.34 L487.10,125.33 L487.60,125.76 L488.10,125.73 L488.60,125.82 L489.10,125.90 L489.60,124.63 L490.10,125.41 L490.60,124.39 L491.10,125.18 L491.60,125.70 L492.10,125.67 L492.60,125.69 L493.10,125.64 L493.60,125.95 L494.10,126.11 L494.60,126.00 L495.10,125.67 L495.60,125.56 L496.10,125.63 L496.60,124.57 L497.10,124.94 L497.60,125.72 L498.10,125.13 L498.60,125.51 L499.10,126.08 L499.60,125.60 L500.10,125.96 L500.60,126.01 L501.10,125.71 L501.60,126.14 L502.10,126.41 L502.60,126.01 L503.10,126.53 L503.60,126.15 L504.10,126.56 L504.60,125.78 L505.10,126.50 L505.60,125.99 L506.10,126.63 L506.60,126.15 L507.10,126.28 L507.60,126.18 L508.10,125.56 L508.60,126.22 L509.10,126.43 L509.60,126.57 L510.10,126.20 L510.60,126.37 L511.10,126.78 L511.60,126.12 L512.10,125.26 L512.60,126.32 L513.10,125.12 L513.60,125.46 L514.10,125.90 L514.60,126.02 L515.10,125.64 L515.60,126.52 L516.10,126.42 L516.60,125.12 L517.10,125.97 L517.60,125.09 L518.10,124.85 L518.60,126.21 L519.10,125.15 L519.60,125.34 L520.10,125.54 L520.60,125.62 L521.10,125.76 L521.60,124.23 L522.10,126.05 L522.60,125.32 L523.10,125.98 L523.60,125.07 L524.10,125.72 L524.60,125.61 L525.10,125.68 L525.60,124.98 L526.10,124.57 L526.60,125.39 L527.10,125.66 L527.60,124.59 L528.10,125.54 L528.60,125.45 L529.10,125.39 L529.60,125.08 L530.10,124.50 L530.60,124.07 L531.10,124.40 L531.60,125.37 L532.10,125.33 L532.60,125.25 L533.10,125.19 L533.60,124.75 L534.10,124.84 L534.60,124.36 L535.10,124.80 L535.60,124.86 L536.10,125.01 L536.60,124.25 L537.10,124.07 L537.60,123.63 L538.10,124.52 L538.60,124.56 L539.10,124.16 L539.60,124.19 L540.10,124.50 L540.60,123.91 L541.10,124.03 L541.60,124.40 L542.10,123.95 L542.60,123.79 L543.10,124.09 L543.60,124.29 L544.10,124.30 L544.60,123.91 L544.60,135.48 L544.10,136.11 L543.60,135.60 L543.10,136.17 L542.60,136.15 L542.10,135.92 L541.60,135.82 L541.10,135.76 L540.60,135.97 L540.10,135.75 L539.60,135.97 L539.10,136.44 L538.60,136.20 L538.10,136.23 L537.60,135.86 L537.10,136.56 L536.60,137.00 L536.10,136.86 L535.60,136.81 L535.10,136.58 L534.60,137.25 L534.10,136.72 L533.60,136.96 L533.10,136.54 L532.60,136.99 L532.10,137.02 L531.60,136.31 L531.10,137.41 L530.60,136.83 L530.10,137.10 L529.60,137.15 L529.10,136.84 L528.60,137.08 L528.10,136.63 L527.60,137.07 L527.10,137.16 L526.60,137.08 L526.10,138.66 L525.60,137.14 L525.10,137.01 L524.60,136.92 L524.10,136.67 L523.60,137.08 L523.10,136.74 L522.60,136.88 L522.10,137.77 L521.60,137.83 L521.10,137.19 L520.60,136.80 L520.10,136.96 L519.60,137.72 L519.10,137.13 L518.60,137.20 L518.10,137.79 L517.60,137.13 L517.10,138.75 L516.60,138.51 L516.10,137.70 L515.60,137.96 L515.10,137.08 L514.60,137.14 L514.10,137.34 L513.60,137.94 L513.10,137.79 L512.60,137.34 L512.10,137.77 L511.60,137.75 L511.10,137.63 L510.60,137.40 L510.10,138.61 L509.60,137.63 L509.10,137.62 L508.60,137.38 L508.10,137.48 L507.60,137.63 L507.10,137.73 L506.60,137.38 L506.10,137.46 L505.60,137.11 L505.10,137.61 L504.60,137.18 L504.10,136.94 L503.60,137.59 L503.10,136.91 L502.60,137.15 L502.10,137.54 L501.60,137.54 L501.10,136.81 L500.60,137.66 L500.10,136.98 L499.60,137.68 L499.10,137.81 L498.60,137.32 L498.10,137.33 L497.60,136.96 L497.10,137.14 L496.60,136.82 L496.10,136.41 L495.60,136.38 L495.10,138.00 L494.60,137.78 L494.10,137.78 L493.60,137.33 L493.10,136.54 L492.60,136.22 L492.10,136.26 L491.60,137.16 L491.10,137.29 L490.60,136.05 L490.10,136.29 L489.60,136.07 L489.10,136.99 L488.60,136.34 L488.10,136.04 L487.60,136.03 L487.10,136.34 L486.60,136.92 L486.10,137.72 L485.60,136.85 L485.10,136.93 L484.60,135.88 L484.10,135.91 L483.60,136.24 L483.10,136.11 L482.60,136.41 L482.10,136.56 L481.60,136.97 L481.10,136.47 L480.60,135.89 L480.10,136.49 L479.60,136.55 L479.10,136.30 L478.60,136.09 L478.10,136.04 L477.60,136.36 L477.10,135.46 L476.60,135.62 L476.10,136.57 L475.60,135.91 L475.10,136.76 L474.60,136.66 L474.10,136.83 L473.60,135.56 L473.10,135.26 L472.60,135.53 L472.10,135.55 L471.60,135.58 L471.10,135.32 L470.60,135.85 L470.10,135.48 L469.60,135.78 L469.10,135.49 L468.60,134.68 L468.10,134.85 L467.60,135.07 L467.10,134.23 L466.60,134.92 L466.10,134.81 L465.60,134.61 L465.10,134.43 L464.60,134.00 L464.10,133.98 L463.60,133.95 L463.10,133.66 L462.60,133.72 L462.10,134.29 L461.60,134.41 L461.10,134.02 L460.60,133.48 L460.10,134.33 L459.60,135.11 L459.10,134.81 L458.60,133.94 L458.10,134.10 L457.60,133.46 L457.10,133.12 L456.60,133.39 L456.10,133.19 L455.60,133.71 L455.10,133.11 L454.60,133.16 L454.10,133.04 L453.60,132.71 L453.10,132.63 L452.60,132.82 L452.10,132.72 L451.60,132.19 L451.10,132.07 L450.60,132.05 L450.10,132.98 L449.60,132.44 L449.10,131.53 L448.60,132.40 L448.10,131.73 L447.60,131.52 L447.10,131.35 L446.60,131.32 L446.10,130.57 L445.60,130.15 L445.10,130.31 L444.60,129.81 L444.10,130.09 L443.60,129.28 L443.10,128.99 L442.60,128.74 L442.10,127.75 L441.60,128.12 L441.10,127.57 L440.60,125.68 L440.10,125.55 L439.60,125.37 L439.10,125.63 L438.60,123.87 L438.10,123.87 L437.60,122.97 L437.10,121.44 L436.60,121.19 L436.10,120.72 L435.60,120.00 L435.10,119.69 L434.60,119.97 L434.10,120.70 L433.60,119.56 L433.10,119.64 L432.60,119.27 L432.10,119.32 L431.60,119.77 L431.10,119.40 L430.60,118.82 L430.10,117.80 L429.60,117.32 L429.10,117.33 L428.60,117.28 L428.10,115.46 L427.60,115.02 L427.10,113.92 L426.60,112.91 L426.10,112.31 L425.60,112.54 L425.10,110.82 L424.60,110.07 L424.10,109.17 L423.60,108.40 L423.10,107.27 L422.60,106.97 L422.10,106.39 L421.60,106.04 L421.10,105.30 L420.60,105.88 L420.10,104.71 L419.60,103.49 L419.10,103.97 L418.60,104.23 L418.10,103.70 L417.60,102.05 L417.10,101.29 L416.60,101.42 L416.10,99.53 L415.60,98.81 L415.10,97.79 L414.60,97.01 L414.10,97.02 L413.60,96.25 L413.10,94.65 L412.60,92.97 L412.10,90.74 L411.60,89.29 L411.10,88.26 L410.60,87.06 L410.10,85.17 L409.60,82.60 L409.10,80.68 L408.60,78.45 L408.10,76.52 L407.60,74.77 L407.10,72.80 L406.60,71.53 L406.10,70.47 L405.60,68.06 L405.10,66.99 L404.60,64.58 L404.10,63.51 L403.60,66.29 L403.10,69.81 L402.60,74.11 L402.10,78.47 L401.60,83.73 L401.10,89.43 L400.60,94.80 Z" fill="#fde2d0" fill-opacity="0.85" clip-path="url(#clipc)"/>
<path d="M400.60,98.01 L401.10,99.03 L401.60,99.96 L402.10,100.19 L402.60,100.74 L403.10,102.30 L403.60,102.24 L404.10,103.07 L404.60,103.41 L405.10,104.62 L405.60,106.07 L406.10,107.59 L406.60,108.90 L407.10,109.13 L407.60,110.09 L408.10,111.14 L408.60,112.34 L409.10,113.87 L409.60,114.82 L410.10,115.31 L410.60,116.04 L411.10,118.43 L411.60,117.93 L412.10,120.00 L412.60,119.66 L413.10,120.07 L413.60,121.06 L414.10,121.61 L414.60,122.26 L415.10,122.56 L415.60,123.12 L416.10,123.98 L416.60,124.91 L417.10,125.32 L417.60,126.08 L418.10,126.27 L418.60,127.59 L419.10,126.09 L419.60,126.82 L420.10,127.56 L420.60,127.83 L421.10,128.36 L421.60,128.74 L422.10,129.57 L422.60,129.36 L423.10,129.47 L423.60,129.28 L424.10,129.91 L424.60,130.10 L425.10,130.71 L425.60,130.81 L426.10,131.33 L426.60,131.31 L427.10,131.04 L427.60,131.34 L428.10,131.57 L428.60,132.55 L429.10,132.52 L429.60,132.88 L430.10,133.44 L430.60,133.59 L431.10,133.41 L431.60,133.69 L432.10,132.74 L432.60,133.88 L433.10,133.74 L433.60,133.33 L434.10,134.40 L434.60,134.43 L435.10,133.92 L435.60,134.89 L436.10,135.66 L436.60,135.46 L437.10,135.15 L437.60,135.69 L438.10,136.61 L438.60,135.78 L439.10,135.77 L439.60,135.70 L440.10,136.14 L440.60,136.37 L441.10,136.77 L441.60,136.59 L442.10,136.96 L442.60,137.97 L443.10,136.84 L443.60,137.01 L444.10,137.20 L444.60,137.23 L445.10,137.39 L445.60,137.51 L446.10,137.97 L446.60,137.87 L447.10,138.09 L447.60,138.19 L448.10,138.69 L448.60,137.59 L449.10,138.49 L449.60,137.99 L450.10,138.19 L450.60,138.64 L451.10,138.42 L451.60,139.11 L452.10,139.38 L452.60,139.87 L453.10,140.18 L453.60,139.39 L454.10,140.62 L454.60,140.36 L455.10,140.49 L455.60,139.89 L456.10,139.58 L456.60,140.37 L457.10,140.45 L457.60,139.55 L458.10,140.31 L458.60,140.52 L459.10,139.53 L459.60,139.01 L460.10,139.65 L460.60,139.79 L461.10,140.31 L461.60,141.03 L462.10,141.45 L462.60,140.59 L463.10,140.13 L463.60,141.13 L464.10,140.81 L464.60,140.54 L465.10,141.37 L465.60,141.33 L466.10,140.95 L466.60,141.40 L467.10,140.99 L467.60,141.43 L468.10,141.57 L468.60,141.40 L469.10,140.72 L469.60,140.91 L470.10,141.89 L470.60,142.07 L471.10,142.03 L471.60,141.21 L472.10,141.81 L472.60,141.21 L473.10,141.35 L473.60,141.69 L474.10,142.43 L474.60,141.56 L475.10,141.71 L475.60,141.04 L476.10,141.02 L476.60,141.92 L477.10,142.14 L477.60,142.44 L478.10,142.78 L478.60,143.14 L479.10,142.72 L479.60,141.81 L480.10,141.79 L480.60,141.66 L481.10,141.91 L481.60,141.85 L482.10,142.21 L482.60,141.92 L483.10,142.70 L483.60,142.24 L484.10,142.14 L484.60,141.78 L485.10,141.73 L485.60,142.29 L486.10,142.50 L486.60,142.36 L487.10,142.62 L487.60,143.01 L488.10,142.38 L488.60,142.12 L489.10,142.87 L489.60,142.65 L490.10,142.89 L490.60,143.17 L491.10,143.09 L491.60,143.55 L492.10,143.47 L492.60,143.66 L493.10,143.83 L493.60,143.24 L494.10,143.07 L494.60,143.74 L495.10,143.56 L495.60,144.79 L496.10,143.63 L496.60,142.88 L497.10,143.15 L497.60,144.50 L498.10,144.60 L498.60,143.79 L499.10,144.03 L499.60,144.42 L500.10,143.97 L500.60,144.12 L501.10,144.17 L501.60,144.24 L502.10,143.93 L502.60,143.97 L503.10,144.00 L503.60,144.66 L504.10,143.34 L504.60,143.40 L505.10,144.61 L505.60,144.78 L506.10,144.40 L506.60,142.86 L507.10,144.15 L507.60,144.98 L508.10,144.60 L508.60,144.55 L509.10,144.62 L509.60,145.23 L510.10,143.98 L510.60,144.18 L511.10,144.45 L511.60,145.18 L512.10,145.50 L512.60,144.97 L513.10,144.41 L513.60,144.86 L514.10,144.89 L514.60,145.24 L515.10,145.20 L515.60,145.14 L516.10,145.33 L516.60,145.31 L517.10,145.62 L517.60,145.67 L518.10,144.98 L518.60,145.41 L519.10,145.96 L519.60,146.45 L520.10,147.04 L520.60,146.44 L521.10,146.13 L521.60,144.96 L522.10,144.96 L522.60,145.28 L523.10,145.36 L523.60,145.04 L524.10,145.04 L524.60,146.14 L525.10,145.73 L525.60,145.86 L526.10,146.81 L526.60,146.03 L527.10,145.13 L527.60,145.98 L528.10,146.91 L528.60,146.15 L529.10,146.23 L529.60,146.24 L530.10,146.48 L530.60,146.60 L531.10,146.31 L531.60,146.13 L532.10,146.06 L532.60,146.31 L533.10,146.87 L533.60,146.78 L534.10,146.53 L534.60,146.28 L535.10,146.78 L535.60,146.09 L536.10,146.55 L536.60,147.13 L537.10,146.45 L537.60,147.27 L538.10,146.29 L538.60,146.72 L539.10,146.78 L539.60,147.44 L540.10,147.43 L540.60,147.37 L541.10,147.64 L541.60,146.80 L542.10,146.94 L542.60,147.20 L543.10,146.46 L543.60,147.10 L544.10,147.84 L544.60,147.08" stroke="#0b84c3" stroke-width="1.90" fill="none" stroke-linejoin="round" clip-path="url(#clipc)"/>
<path d="M400.60,103.06 L401.10,103.44 L401.60,104.44 L402.10,104.85 L402.60,104.50 L403.10,105.94 L403.60,106.35 L404.10,107.69 L404.60,108.80 L405.10,110.09 L405.60,110.60 L406.10,111.09 L406.60,112.29 L407.10,113.36 L407.60,113.23 L408.10,114.48 L408.60,115.33 L409.10,117.13 L409.60,117.75 L410.10,118.26 L410.60,118.96 L411.10,119.25 L411.60,118.75 L412.10,119.15 L412.60,120.17 L413.10,120.31 L413.60,120.49 L414.10,121.36 L414.60,121.80 L415.10,121.63 L415.60,121.72 L416.10,122.51 L416.60,122.36 L417.10,122.25 L417.60,123.05 L418.10,123.84 L418.60,123.10 L419.10,123.23 L419.60,124.08 L420.10,124.29 L420.60,124.87 L421.10,125.20 L421.60,126.39 L422.10,125.12 L422.60,125.82 L423.10,125.67 L423.60,125.25 L424.10,125.76 L424.60,126.29 L425.10,127.32 L425.60,127.43 L426.10,127.34 L426.60,127.45 L427.10,128.13 L427.60,128.72 L428.10,128.36 L428.60,128.93 L429.10,129.29 L429.60,129.39 L430.10,129.54 L430.60,129.77 L431.10,129.88 L431.60,129.94 L432.10,130.45 L432.60,130.74 L433.10,130.94 L433.60,130.81 L434.10,131.84 L434.60,131.95 L435.10,133.65 L435.60,134.27 L436.10,133.39 L436.60,134.26 L437.10,133.29 L437.60,132.72 L438.10,133.06 L438.60,133.58 L439.10,134.18 L439.60,135.40 L440.10,134.64 L440.60,134.93 L441.10,135.67 L441.60,135.74 L442.10,136.57 L442.60,136.74 L443.10,137.29 L443.60,137.37 L444.10,137.05 L444.60,136.98 L445.10,136.38 L445.60,136.79 L446.10,137.03 L446.60,137.02 L447.10,136.98 L447.60,137.07 L448.10,137.90 L448.60,137.62 L449.10,137.74 L449.60,137.93 L450.10,137.14 L450.60,137.44 L451.10,137.64 L451.60,136.72 L452.10,137.72 L452.60,137.71 L453.10,138.09 L453.60,138.71 L454.10,138.46 L454.60,138.31 L455.10,138.54 L455.60,139.16 L456.10,138.46 L456.60,138.23 L457.10,138.60 L457.60,138.63 L458.10,139.38 L458.60,139.20 L459.10,139.26 L459.60,139.15 L460.10,138.58 L460.60,139.39 L461.10,139.55 L461.60,139.52 L462.10,139.23 L462.60,140.02 L463.10,140.48 L463.60,140.58 L464.10,140.19 L464.60,139.63 L465.10,139.62 L465.60,139.40 L466.10,139.73 L466.60,140.91 L467.10,140.16 L467.60,140.92 L468.10,140.27 L468.60,140.57 L469.10,139.91 L469.60,140.43 L470.10,140.01 L470.60,140.60 L471.10,140.72 L471.60,141.29 L472.10,141.83 L472.60,141.21 L473.10,141.46 L473.60,141.26 L474.10,141.16 L474.60,141.44 L475.10,141.16 L475.60,141.82 L476.10,141.55 L476.60,142.08 L477.10,141.82 L477.60,141.88 L478.10,141.63 L478.60,141.37 L479.10,141.71 L479.60,142.35 L480.10,141.61 L480.60,141.68 L481.10,141.84 L481.60,141.69 L482.10,141.94 L482.60,142.70 L483.10,142.87 L483.60,140.83 L484.10,141.24 L484.60,142.01 L485.10,142.15 L485.60,142.88 L486.10,142.46 L486.60,142.91 L487.10,142.70 L487.60,141.96 L488.10,142.53 L488.60,142.63 L489.10,143.17 L489.60,142.73 L490.10,143.15 L490.60,142.46 L491.10,142.59 L491.60,143.07 L492.10,142.79 L492.60,142.96 L493.10,143.41 L493.60,143.65 L494.10,143.36 L494.60,143.14 L495.10,143.37 L495.60,143.11 L496.10,143.21 L496.60,143.60 L497.10,142.42 L497.60,142.79 L498.10,143.01 L498.60,143.41 L499.10,143.63 L499.60,143.97 L500.10,144.59 L500.60,144.12 L501.10,142.94 L501.60,143.01 L502.10,143.89 L502.60,143.67 L503.10,143.09 L503.60,143.47 L504.10,143.62 L504.60,144.39 L505.10,144.10 L505.60,143.93 L506.10,144.37 L506.60,144.23 L507.10,143.07 L507.60,143.99 L508.10,144.13 L508.60,144.77 L509.10,144.61 L509.60,143.85 L510.10,143.69 L510.60,144.20 L511.10,144.70 L511.60,144.77 L512.10,144.23 L512.60,144.42 L513.10,144.71 L513.60,144.65 L514.10,144.22 L514.60,144.22 L515.10,143.79 L515.60,144.32 L516.10,144.33 L516.60,144.14 L517.10,145.55 L517.60,144.83 L518.10,144.76 L518.60,144.97 L519.10,145.04 L519.60,144.68 L520.10,144.42 L520.60,144.97 L521.10,145.11 L521.60,145.20 L522.10,144.32 L522.60,144.33 L523.10,144.75 L523.60,145.07 L524.10,145.15 L524.60,145.54 L525.10,144.81 L525.60,145.77 L526.10,145.41 L526.60,145.66 L527.10,145.18 L527.60,145.48 L528.10,145.04 L528.60,144.86 L529.10,145.46 L529.60,144.88 L530.10,145.07 L530.60,145.21 L531.10,145.46 L531.60,145.21 L532.10,145.86 L532.60,146.04 L533.10,145.11 L533.60,144.82 L534.10,145.16 L534.60,145.72 L535.10,146.17 L535.60,145.89 L536.10,145.26 L536.60,145.43 L537.10,144.63 L537.60,145.17 L538.10,145.48 L538.60,145.85 L539.10,145.26 L539.60,146.07 L540.10,146.13 L540.60,145.44 L541.10,145.16 L541.60,145.18 L542.10,145.08 L542.60,146.46 L543.10,146.34 L543.60,145.55 L544.10,144.97 L544.60,144.83" stroke="#ff6813" stroke-width="1.90" fill="none" stroke-linejoin="round" clip-path="url(#clipc)"/>
<path d="M400.60,97.20 L401.10,94.66 L401.60,92.12 L402.10,89.57 L402.60,87.03 L403.10,84.26 L403.60,80.56 L404.10,76.86 L404.60,73.16 L405.10,69.46 L405.60,65.76 L406.10,63.17 L406.60,65.01 L407.10,66.85 L407.60,68.69 L408.10,70.53 L408.60,72.56 L409.10,75.35 L409.60,78.15 L410.10,80.95 L410.60,83.74 L411.10,86.97 L411.60,90.30 L412.10,93.63 L412.60,96.76 L413.10,99.83 L413.60,102.90 L414.10,104.62 L414.60,106.35 L415.10,108.07 L415.60,109.80 L416.10,111.52 L416.60,113.16 L417.10,114.44 L417.60,115.73 L418.10,117.01 L418.60,118.30 L419.10,119.59 L419.60,120.40 L420.10,120.90 L420.60,121.40 L421.10,121.90 L421.60,122.40 L422.10,122.90 L422.60,123.40 L423.10,123.90 L423.60,124.40 L424.10,124.65 L424.60,124.89 L425.10,125.14 L425.60,125.38 L426.10,125.63 L426.60,125.87 L427.10,126.12 L427.60,126.36 L428.10,126.61 L428.60,126.86 L429.10,127.10 L429.60,127.29 L430.10,127.44 L430.60,127.60 L431.10,127.75 L431.60,127.90 L432.10,128.06 L432.60,128.21 L433.10,128.36 L433.60,128.51 L434.10,128.67 L434.60,128.82 L435.10,128.97 L435.60,129.12 L436.10,129.28 L436.60,129.42 L437.10,129.50 L437.60,129.58 L438.10,129.66 L438.60,129.74 L439.10,129.82 L439.60,129.90 L440.10,129.99 L440.60,130.07 L441.10,130.05 L441.60,129.97 L442.10,129.89 L442.60,129.81 L443.10,129.73 L443.60,129.64 L444.10,129.56 L444.60,129.48 L445.10,129.40 L445.60,129.21 L446.10,129.01 L446.60,128.82 L447.10,128.63 L447.60,128.44 L448.10,128.24 L448.60,128.05 L449.10,127.86 L449.60,127.66 L450.10,127.47 L450.60,127.28 L451.10,127.13 L451.60,127.00 L452.10,126.88 L452.60,126.76 L453.10,126.64 L453.60,126.51 L454.10,126.39 L454.60,126.27 L455.10,126.14 L455.60,126.02 L456.10,125.90 L456.60,125.85 L457.10,126.10 L457.60,126.35 L458.10,126.60 L458.60,126.85 L459.10,127.10 L459.60,127.35 L460.10,127.60 L460.60,127.85 L461.10,128.10 L461.60,128.35 L462.10,128.60 L462.60,128.66 L463.10,128.60 L463.60,128.54 L464.10,128.48 L464.60,128.42 L465.10,128.36 L465.60,128.29 L466.10,128.23 L466.60,128.17 L467.10,128.11 L467.60,128.05 L468.10,127.97 L468.60,127.81 L469.10,127.65 L469.60,127.50 L470.10,127.34 L470.60,127.18 L471.10,127.03 L471.60,126.87 L472.10,126.71 L472.60,126.55 L473.10,126.40 L473.60,126.24 L474.10,126.08 L474.60,125.93 L475.10,125.79 L475.60,125.74 L476.10,125.70 L476.60,125.65 L477.10,125.60 L477.60,125.56 L478.10,125.51 L478.60,125.46 L479.10,125.42 L479.60,125.37 L480.10,125.32 L480.60,125.28 L481.10,125.23 L481.60,125.18 L482.10,125.14 L482.60,125.09 L483.10,125.04 L483.60,125.00 L484.10,124.95 L484.60,124.90 L485.10,124.86 L485.60,124.81 L486.10,124.76 L486.60,124.72 L487.10,124.67 L487.60,124.62 L488.10,124.58 L488.60,124.53 L489.10,124.48 L489.60,124.44 L490.10,124.39 L490.60,124.36 L491.10,124.32 L491.60,124.28 L492.10,124.24 L492.60,124.20 L493.10,124.17 L493.60,124.13 L494.10,124.09 L494.60,124.06 L495.10,124.02 L495.60,123.98 L496.10,123.94 L496.60,123.91 L497.10,123.87 L497.60,123.83 L498.10,123.79 L498.60,123.76 L499.10,123.72 L499.60,123.68 L500.10,123.64 L500.60,123.61 L501.10,123.57 L501.60,123.53 L502.10,123.49 L502.60,123.45 L503.10,123.42 L503.60,123.38 L504.10,123.34 L504.60,123.31 L505.10,123.27 L505.60,123.23 L506.10,123.19 L506.60,123.16 L507.10,123.12 L507.60,123.08 L508.10,123.04 L508.60,123.01 L509.10,122.97 L509.60,122.93 L510.10,122.88 L510.60,122.80 L511.10,122.71 L511.60,122.63 L512.10,122.54 L512.60,122.46 L513.10,122.37 L513.60,122.29 L514.10,122.20 L514.60,122.12 L515.10,122.03 L515.60,121.95 L516.10,121.86 L516.60,121.78 L517.10,121.69 L517.60,121.61 L518.10,121.52 L518.60,121.44 L519.10,121.35 L519.60,121.27 L520.10,121.18 L520.60,121.10 L521.10,121.01 L521.60,120.93 L522.10,120.84 L522.60,120.76 L523.10,120.67 L523.60,120.59 L524.10,120.50 L524.60,120.42 L525.10,120.33 L525.60,120.25 L526.10,120.16 L526.60,120.08 L527.10,119.99 L527.60,119.91 L528.10,119.82 L528.60,119.74 L529.10,119.65 L529.60,119.57 L530.10,119.48 L530.60,119.39 L531.10,119.30 L531.60,119.21 L532.10,119.12 L532.60,119.03 L533.10,118.94 L533.60,118.85 L534.10,118.76 L534.60,118.67 L535.10,118.58 L535.60,118.49 L536.10,118.40 L536.60,118.31 L537.10,118.22 L537.60,118.13 L538.10,118.04 L538.60,117.95 L539.10,117.86 L539.60,117.77 L540.10,117.68 L540.60,117.59 L541.10,117.50 L541.60,117.41 L542.10,117.32 L542.60,117.23 L543.10,117.14 L543.60,117.05 L544.10,116.96 L544.60,116.87" stroke="#0b84c3" stroke-width="2.10" fill="none" stroke-linejoin="round" clip-path="url(#clipc)" stroke-dasharray="4.6 3.6"/>
<path d="M400.60,91.70 L401.10,85.74 L401.60,79.77 L402.10,74.18 L402.60,70.08 L403.10,65.98 L403.60,61.88 L404.10,58.91 L404.60,60.48 L405.10,62.05 L405.60,63.61 L406.10,65.18 L406.60,66.75 L407.10,68.40 L407.60,70.40 L408.10,72.40 L408.60,74.40 L409.10,76.40 L409.60,78.40 L410.10,80.32 L410.60,81.92 L411.10,83.51 L411.60,85.11 L412.10,86.71 L412.60,88.31 L413.10,89.90 L413.60,91.50 L414.10,92.24 L414.60,92.99 L415.10,93.73 L415.60,94.48 L416.10,95.22 L416.60,95.97 L417.10,96.71 L417.60,97.45 L418.10,98.07 L418.60,98.49 L419.10,98.90 L419.60,99.32 L420.10,99.74 L420.60,100.16 L421.10,100.58 L421.60,101.00 L422.10,101.42 L422.60,102.16 L423.10,102.99 L423.60,103.81 L424.10,104.64 L424.60,105.46 L425.10,106.29 L425.60,107.11 L426.10,107.94 L426.60,108.73 L427.10,109.41 L427.60,110.08 L428.10,110.76 L428.60,111.43 L429.10,112.11 L429.60,112.78 L430.10,113.46 L430.60,114.13 L431.10,114.48 L431.60,114.62 L432.10,114.76 L432.60,114.90 L433.10,115.04 L433.60,115.18 L434.10,115.32 L434.60,115.46 L435.10,115.60 L435.60,115.74 L436.10,116.16 L436.60,116.76 L437.10,117.35 L437.60,117.95 L438.10,118.55 L438.60,119.14 L439.10,119.74 L439.60,120.34 L440.10,120.93 L440.60,121.53 L441.10,122.12 L441.60,122.72 L442.10,123.31 L442.60,123.91 L443.10,124.50 L443.60,125.10 L444.10,125.34 L444.60,125.58 L445.10,125.82 L445.60,126.05 L446.10,126.29 L446.60,126.53 L447.10,126.77 L447.60,127.01 L448.10,127.23 L448.60,127.36 L449.10,127.49 L449.60,127.62 L450.10,127.75 L450.60,127.88 L451.10,128.02 L451.60,128.15 L452.10,128.28 L452.60,128.41 L453.10,128.54 L453.60,128.67 L454.10,128.75 L454.60,128.81 L455.10,128.87 L455.60,128.93 L456.10,128.99 L456.60,129.06 L457.10,129.12 L457.60,129.18 L458.10,129.24 L458.60,129.30 L459.10,129.36 L459.60,129.40 L460.10,129.40 L460.60,129.40 L461.10,129.40 L461.60,129.40 L462.10,129.40 L462.60,129.40 L463.10,129.40 L463.60,129.40 L464.10,129.40 L464.60,129.40 L465.10,129.40 L465.60,129.52 L466.10,129.65 L466.60,129.77 L467.10,129.89 L467.60,130.01 L468.10,130.14 L468.60,130.26 L469.10,130.38 L469.60,130.51 L470.10,130.63 L470.60,130.75 L471.10,130.80 L471.60,130.81 L472.10,130.81 L472.60,130.82 L473.10,130.82 L473.60,130.83 L474.10,130.83 L474.60,130.84 L475.10,130.84 L475.60,130.85 L476.10,130.86 L476.60,130.86 L477.10,130.87 L477.60,130.87 L478.10,130.88 L478.60,130.88 L479.10,130.89 L479.60,130.89 L480.10,130.90 L480.60,130.90 L481.10,130.91 L481.60,130.91 L482.10,130.92 L482.60,130.92 L483.10,130.93 L483.60,130.93 L484.10,130.94 L484.60,130.94 L485.10,130.95 L485.60,130.95 L486.10,130.96 L486.60,130.96 L487.10,130.97 L487.60,130.97 L488.10,130.98 L488.60,130.99 L489.10,130.99 L489.60,131.00 L490.10,131.01 L490.60,131.03 L491.10,131.06 L491.60,131.09 L492.10,131.12 L492.60,131.14 L493.10,131.17 L493.60,131.20 L494.10,131.23 L494.60,131.25 L495.10,131.28 L495.60,131.31 L496.10,131.34 L496.60,131.36 L497.10,131.39 L497.60,131.42 L498.10,131.45 L498.60,131.47 L499.10,131.50 L499.60,131.53 L500.10,131.56 L500.60,131.58 L501.10,131.61 L501.60,131.64 L502.10,131.67 L502.60,131.69 L503.10,131.72 L503.60,131.75 L504.10,131.78 L504.60,131.80 L505.10,131.83 L505.60,131.86 L506.10,131.89 L506.60,131.91 L507.10,131.94 L507.60,131.97 L508.10,132.00 L508.60,132.02 L509.10,132.05 L509.60,132.08 L510.10,132.09 L510.60,132.07 L511.10,132.04 L511.60,132.01 L512.10,131.98 L512.60,131.96 L513.10,131.93 L513.60,131.90 L514.10,131.87 L514.60,131.85 L515.10,131.82 L515.60,131.79 L516.10,131.76 L516.60,131.74 L517.10,131.71 L517.60,131.68 L518.10,131.65 L518.60,131.63 L519.10,131.60 L519.60,131.57 L520.10,131.54 L520.60,131.52 L521.10,131.49 L521.60,131.46 L522.10,131.43 L522.60,131.41 L523.10,131.38 L523.60,131.35 L524.10,131.32 L524.60,131.30 L525.10,131.27 L525.60,131.24 L526.10,131.21 L526.60,131.19 L527.10,131.16 L527.60,131.13 L528.10,131.10 L528.60,131.08 L529.10,131.05 L529.60,131.02 L530.10,130.99 L530.60,130.95 L531.10,130.91 L531.60,130.87 L532.10,130.83 L532.60,130.79 L533.10,130.75 L533.60,130.71 L534.10,130.67 L534.60,130.63 L535.10,130.59 L535.60,130.55 L536.10,130.51 L536.60,130.47 L537.10,130.43 L537.60,130.39 L538.10,130.35 L538.60,130.31 L539.10,130.27 L539.60,130.23 L540.10,130.19 L540.60,130.15 L541.10,130.11 L541.60,130.07 L542.10,130.03 L542.60,129.99 L543.10,129.95 L543.60,129.91 L544.10,129.87 L544.60,129.83" stroke="#ff6813" stroke-width="2.10" fill="none" stroke-linejoin="round" clip-path="url(#clipc)" stroke-dasharray="4.8 4.3"/>
<path d="M400.60,22.60 L400.60,151.80 L547.10,151.80" stroke="#8a8a8a" stroke-width="1.7" fill="none"/>
<path d="M400.60,151.80 h1.5 M400.60,108.73 h1.5 M400.60,65.67 h1.5 M400.60,22.60 h1.5 M400.60,151.80 v-1.5 M444.59,151.80 v-1.5 M488.59,151.80 v-1.5 M532.58,151.80 v-1.5" stroke="#555" stroke-width="1" fill="none"/>
<g font-family='"Liberation Sans", sans-serif' font-weight="bold" font-size="9.6" fill="#262626"><text x="396.00" y="154.80" text-anchor="end">0</text><text x="396.00" y="111.73" text-anchor="end">0.5</text><text x="396.00" y="68.67" text-anchor="end">1</text><text x="396.00" y="25.60" text-anchor="end">1.5</text></g>
<g stroke="#e6e6e6" stroke-width="1" fill="none"><line x1="39.40" y1="265.27" x2="181.40" y2="265.27"/><line x1="39.40" y1="233.05" x2="181.40" y2="233.05"/><line x1="39.40" y1="200.82" x2="181.40" y2="200.82"/><line x1="39.40" y1="168.60" x2="181.40" y2="168.60"/><line x1="82.04" y1="168.60" x2="82.04" y2="297.50"/><line x1="124.69" y1="168.60" x2="124.69" y2="297.50"/><line x1="167.33" y1="168.60" x2="167.33" y2="297.50"/></g>
<path d="M48.50,298.34 L49.00,294.52 L49.50,286.57 L50.00,282.35 L50.50,276.06 L51.00,272.00 L51.50,267.92 L52.00,264.77 L52.50,259.99 L53.00,256.59 L53.50,252.88 L54.00,251.06 L54.50,250.04 L55.00,247.45 L55.50,245.98 L56.00,244.17 L56.50,242.42 L57.00,239.57 L57.50,236.37 L58.00,235.30 L58.50,234.78 L59.00,233.77 L59.50,232.49 L60.00,232.95 L60.50,229.78 L61.00,231.46 L61.50,231.70 L62.00,230.63 L62.50,230.72 L63.00,229.64 L63.50,229.58 L64.00,228.51 L64.50,228.58 L65.00,228.75 L65.50,228.05 L66.00,228.27 L66.50,227.54 L67.00,227.39 L67.50,227.82 L68.00,226.62 L68.50,226.92 L69.00,226.99 L69.50,226.76 L70.00,226.31 L70.50,226.16 L71.00,225.59 L71.50,225.42 L72.00,224.27 L72.50,225.82 L73.00,225.66 L73.50,224.21 L74.00,223.77 L74.50,225.51 L75.00,224.57 L75.50,224.26 L76.00,222.66 L76.50,224.32 L77.00,224.76 L77.50,223.22 L78.00,224.17 L78.50,223.01 L79.00,223.43 L79.50,223.34 L80.00,223.84 L80.50,221.55 L81.00,222.73 L81.50,221.62 L82.00,222.04 L82.50,222.41 L83.00,221.59 L83.50,221.80 L84.00,220.87 L84.50,221.98 L85.00,221.29 L85.50,221.46 L86.00,222.88 L86.50,222.56 L87.00,222.70 L87.50,220.89 L88.00,222.14 L88.50,219.99 L89.00,221.58 L89.50,221.45 L90.00,223.01 L90.50,222.57 L91.00,222.11 L91.50,222.42 L92.00,222.28 L92.50,223.72 L93.00,223.63 L93.50,222.91 L94.00,222.88 L94.50,222.82 L95.00,222.17 L95.50,223.07 L96.00,222.94 L96.50,222.20 L97.00,222.32 L97.50,221.84 L98.00,222.52 L98.50,222.67 L99.00,222.07 L99.50,223.09 L100.00,222.47 L100.50,222.66 L101.00,221.57 L101.50,221.47 L102.00,222.28 L102.50,221.83 L103.00,222.28 L103.50,223.12 L104.00,221.91 L104.50,222.52 L105.00,219.84 L105.50,220.33 L106.00,220.84 L106.50,223.15 L107.00,223.18 L107.50,223.30 L108.00,222.73 L108.50,223.09 L109.00,221.81 L109.50,220.46 L110.00,220.65 L110.50,221.08 L111.00,223.03 L111.50,223.03 L112.00,223.66 L112.50,224.29 L113.00,224.24 L113.50,223.12 L114.00,222.95 L114.50,224.58 L115.00,224.89 L115.50,224.21 L116.00,224.61 L116.50,224.18 L117.00,223.88 L117.50,222.76 L118.00,221.71 L118.50,222.03 L119.00,222.17 L119.50,221.87 L120.00,220.01 L120.50,219.38 L121.00,217.88 L121.50,219.31 L122.00,220.31 L122.50,220.58 L123.00,220.36 L123.50,220.33 L124.00,220.46 L124.50,221.83 L125.00,220.51 L125.50,221.19 L126.00,220.23 L126.50,219.97 L127.00,221.49 L127.50,221.02 L128.00,221.47 L128.50,221.17 L129.00,221.75 L129.50,221.28 L130.00,222.00 L130.50,221.19 L131.00,220.60 L131.50,219.43 L132.00,221.28 L132.50,222.39 L133.00,222.10 L133.50,222.01 L134.00,221.02 L134.50,220.57 L135.00,220.07 L135.50,220.63 L136.00,222.15 L136.50,220.85 L137.00,220.66 L137.50,221.47 L138.00,222.14 L138.50,222.28 L139.00,221.85 L139.50,222.23 L140.00,221.29 L140.50,221.09 L141.00,220.77 L141.50,221.66 L142.00,221.79 L142.50,222.14 L143.00,221.35 L143.50,221.38 L144.00,222.48 L144.50,220.91 L145.00,222.45 L145.50,221.38 L146.00,222.45 L146.50,222.62 L147.00,222.63 L147.50,221.61 L148.00,221.91 L148.50,222.67 L149.00,220.98 L149.50,222.66 L150.00,222.56 L150.50,222.68 L151.00,222.67 L151.50,222.69 L152.00,222.46 L152.50,220.72 L153.00,221.76 L153.50,223.14 L154.00,223.28 L154.50,221.73 L155.00,223.18 L155.50,221.40 L156.00,220.87 L156.50,222.52 L157.00,222.57 L157.50,223.06 L158.00,221.72 L158.50,222.21 L159.00,222.18 L159.50,221.96 L160.00,223.01 L160.50,222.92 L161.00,221.81 L161.50,221.22 L162.00,221.40 L162.50,222.66 L163.00,220.94 L163.50,220.51 L164.00,222.13 L164.50,221.83 L165.00,220.39 L165.50,222.04 L166.00,221.93 L166.50,221.82 L167.00,221.64 L167.50,220.81 L168.00,220.97 L168.50,221.67 L169.00,221.22 L169.50,220.87 L170.00,219.27 L170.50,219.28 L171.00,220.71 L171.50,221.17 L172.00,219.96 L172.50,220.93 L173.00,220.84 L173.50,220.22 L174.00,220.28 L174.50,220.84 L175.00,220.64 L175.50,220.15 L176.00,220.09 L176.50,219.40 L177.00,219.05 L177.50,218.98 L178.00,218.49 L178.50,217.56 L179.00,218.14 L179.50,219.62 L180.00,217.22 L180.00,231.16 L179.50,231.62 L179.00,231.63 L178.50,231.63 L178.00,231.44 L177.50,231.79 L177.00,231.59 L176.50,231.53 L176.00,233.06 L175.50,231.70 L175.00,233.14 L174.50,234.10 L174.00,234.41 L173.50,234.47 L173.00,234.88 L172.50,232.29 L172.00,232.80 L171.50,234.24 L171.00,233.26 L170.50,232.62 L170.00,233.88 L169.50,232.69 L169.00,232.78 L168.50,233.69 L168.00,233.37 L167.50,234.83 L167.00,234.04 L166.50,234.03 L166.00,234.49 L165.50,233.88 L165.00,234.16 L164.50,233.42 L164.00,234.54 L163.50,234.52 L163.00,235.14 L162.50,235.95 L162.00,235.83 L161.50,235.16 L161.00,235.09 L160.50,234.80 L160.00,234.14 L159.50,235.65 L159.00,235.03 L158.50,235.50 L158.00,236.30 L157.50,235.80 L157.00,234.52 L156.50,234.85 L156.00,235.13 L155.50,235.42 L155.00,235.73 L154.50,235.76 L154.00,234.55 L153.50,235.59 L153.00,235.78 L152.50,235.06 L152.00,236.38 L151.50,235.40 L151.00,235.76 L150.50,234.75 L150.00,234.90 L149.50,235.99 L149.00,235.59 L148.50,234.74 L148.00,235.08 L147.50,235.94 L147.00,234.81 L146.50,235.25 L146.00,235.60 L145.50,234.79 L145.00,234.48 L144.50,234.89 L144.00,235.34 L143.50,235.27 L143.00,236.29 L142.50,235.40 L142.00,234.16 L141.50,234.24 L141.00,234.22 L140.50,234.25 L140.00,235.53 L139.50,235.15 L139.00,234.94 L138.50,234.18 L138.00,233.83 L137.50,234.04 L137.00,234.04 L136.50,234.99 L136.00,234.81 L135.50,234.05 L135.00,234.34 L134.50,234.46 L134.00,234.20 L133.50,233.54 L133.00,234.65 L132.50,234.46 L132.00,235.02 L131.50,235.11 L131.00,234.85 L130.50,236.57 L130.00,234.16 L129.50,234.33 L129.00,233.98 L128.50,234.08 L128.00,233.94 L127.50,233.82 L127.00,234.47 L126.50,234.00 L126.00,234.00 L125.50,234.20 L125.00,233.30 L124.50,234.32 L124.00,234.20 L123.50,233.09 L123.00,232.87 L122.50,233.14 L122.00,233.54 L121.50,233.94 L121.00,233.14 L120.50,234.61 L120.00,234.33 L119.50,233.17 L119.00,233.34 L118.50,234.75 L118.00,236.59 L117.50,236.65 L117.00,236.20 L116.50,235.48 L116.00,238.93 L115.50,238.39 L115.00,239.96 L114.50,239.03 L114.00,236.36 L113.50,235.94 L113.00,236.34 L112.50,236.57 L112.00,236.08 L111.50,236.90 L111.00,235.62 L110.50,236.65 L110.00,235.27 L109.50,234.83 L109.00,234.59 L108.50,235.49 L108.00,235.65 L107.50,236.19 L107.00,236.10 L106.50,234.70 L106.00,234.63 L105.50,236.52 L105.00,235.09 L104.50,236.56 L104.00,237.58 L103.50,234.97 L103.00,234.40 L102.50,235.73 L102.00,234.32 L101.50,236.53 L101.00,234.94 L100.50,235.62 L100.00,235.98 L99.50,234.62 L99.00,234.71 L98.50,234.83 L98.00,235.04 L97.50,235.38 L97.00,234.64 L96.50,235.94 L96.00,234.92 L95.50,234.76 L95.00,235.37 L94.50,234.92 L94.00,234.97 L93.50,235.45 L93.00,236.14 L92.50,234.97 L92.00,237.04 L91.50,237.24 L91.00,238.05 L90.50,237.10 L90.00,235.00 L89.50,236.12 L89.00,235.27 L88.50,234.55 L88.00,235.04 L87.50,234.96 L87.00,234.73 L86.50,234.31 L86.00,234.91 L85.50,234.66 L85.00,235.27 L84.50,235.24 L84.00,235.20 L83.50,234.83 L83.00,234.11 L82.50,236.00 L82.00,237.19 L81.50,235.89 L81.00,234.98 L80.50,234.86 L80.00,235.72 L79.50,235.36 L79.00,236.39 L78.50,236.54 L78.00,237.39 L77.50,237.61 L77.00,237.27 L76.50,237.74 L76.00,238.10 L75.50,237.48 L75.00,237.71 L74.50,237.65 L74.00,237.38 L73.50,237.25 L73.00,239.32 L72.50,238.17 L72.00,237.26 L71.50,237.69 L71.00,238.84 L70.50,238.38 L70.00,238.41 L69.50,242.29 L69.00,241.99 L68.50,241.00 L68.00,239.51 L67.50,239.34 L67.00,239.75 L66.50,241.13 L66.00,241.89 L65.50,241.06 L65.00,241.29 L64.50,242.02 L64.00,240.56 L63.50,240.59 L63.00,240.43 L62.50,240.53 L62.00,241.63 L61.50,241.89 L61.00,241.97 L60.50,241.52 L60.00,242.14 L59.50,243.86 L59.00,243.95 L58.50,243.77 L58.00,244.48 L57.50,247.01 L57.00,248.15 L56.50,249.88 L56.00,251.15 L55.50,252.70 L55.00,255.56 L54.50,257.03 L54.00,258.23 L53.50,260.46 L53.00,261.98 L52.50,265.18 L52.00,268.40 L51.50,272.90 L51.00,277.19 L50.50,283.75 L50.00,287.79 L49.50,292.15 L49.00,297.44 L48.50,301.25 Z" fill="#cde9f6" fill-opacity="1.00" clip-path="url(#clipd)"/>
<path d="M48.90,298.31 L49.40,294.91 L49.90,290.27 L50.40,286.23 L50.90,282.12 L51.40,277.88 L51.90,274.15 L52.40,269.65 L52.90,265.07 L53.40,261.21 L53.90,258.39 L54.40,255.01 L54.90,253.44 L55.40,252.95 L55.90,254.05 L56.40,254.95 L56.90,257.20 L57.40,258.54 L57.90,257.70 L58.40,256.49 L58.90,255.00 L59.40,253.46 L59.90,250.61 L60.40,247.97 L60.90,244.79 L61.40,243.08 L61.90,241.74 L62.40,241.04 L62.90,239.82 L63.40,239.20 L63.90,237.76 L64.40,235.84 L64.90,234.87 L65.40,234.84 L65.90,233.17 L66.40,231.31 L66.90,230.75 L67.40,229.79 L67.90,229.36 L68.40,228.64 L68.90,228.08 L69.40,227.90 L69.90,226.94 L70.40,226.51 L70.90,225.64 L71.40,225.55 L71.90,225.49 L72.40,225.48 L72.90,225.22 L73.40,225.07 L73.90,224.42 L74.40,223.39 L74.90,223.19 L75.40,222.54 L75.90,220.55 L76.40,220.93 L76.90,220.70 L77.40,219.97 L77.90,219.53 L78.40,218.62 L78.90,217.97 L79.40,217.74 L79.90,217.20 L80.40,216.97 L80.90,216.47 L81.40,215.97 L81.90,214.44 L82.40,213.49 L82.90,213.09 L83.40,213.47 L83.90,213.47 L84.40,212.90 L84.90,213.43 L85.40,212.68 L85.90,213.19 L86.40,212.41 L86.90,212.56 L87.40,211.91 L87.90,212.15 L88.40,211.63 L88.90,211.67 L89.40,212.31 L89.90,211.76 L90.40,211.90 L90.90,212.16 L91.40,211.33 L91.90,212.22 L92.40,211.73 L92.90,211.84 L93.40,212.17 L93.90,212.13 L94.40,211.74 L94.90,211.72 L95.40,211.53 L95.90,211.29 L96.40,212.09 L96.90,211.88 L97.40,211.41 L97.90,211.73 L98.40,211.80 L98.90,211.66 L99.40,211.88 L99.90,211.85 L100.40,211.67 L100.90,211.56 L101.40,211.38 L101.90,211.02 L102.40,210.98 L102.90,211.43 L103.40,211.03 L103.90,210.95 L104.40,210.87 L104.90,211.04 L105.40,210.84 L105.90,210.77 L106.40,210.60 L106.90,209.84 L107.40,209.91 L107.90,210.22 L108.40,209.71 L108.90,209.64 L109.40,210.01 L109.90,209.00 L110.40,209.23 L110.90,209.74 L111.40,209.69 L111.90,209.29 L112.40,209.04 L112.90,209.07 L113.40,208.95 L113.90,208.17 L114.40,208.07 L114.90,208.35 L115.40,208.28 L115.90,208.75 L116.40,208.85 L116.90,208.20 L117.40,208.55 L117.90,208.77 L118.40,208.34 L118.90,208.50 L119.40,208.42 L119.90,208.32 L120.40,208.44 L120.90,207.75 L121.40,206.72 L121.90,207.59 L122.40,208.77 L122.90,208.03 L123.40,207.71 L123.90,208.80 L124.40,208.65 L124.90,208.14 L125.40,208.07 L125.90,207.96 L126.40,207.65 L126.90,207.81 L127.40,208.29 L127.90,207.85 L128.40,207.58 L128.90,208.24 L129.40,208.31 L129.90,208.57 L130.40,208.01 L130.90,207.78 L131.40,207.58 L131.90,207.21 L132.40,208.03 L132.90,208.35 L133.40,208.23 L133.90,207.49 L134.40,208.00 L134.90,208.05 L135.40,207.67 L135.90,208.02 L136.40,207.48 L136.90,208.18 L137.40,208.46 L137.90,208.14 L138.40,208.50 L138.90,208.36 L139.40,207.86 L139.90,207.78 L140.40,207.31 L140.90,208.42 L141.40,208.27 L141.90,208.22 L142.40,207.24 L142.90,208.19 L143.40,207.56 L143.90,207.92 L144.40,207.63 L144.90,208.32 L145.40,207.50 L145.90,207.88 L146.40,208.46 L146.90,207.62 L147.40,207.95 L147.90,208.17 L148.40,207.69 L148.90,208.00 L149.40,207.70 L149.90,207.60 L150.40,208.12 L150.90,207.99 L151.40,207.27 L151.90,208.40 L152.40,208.49 L152.90,208.39 L153.40,208.04 L153.90,208.25 L154.40,207.93 L154.90,208.18 L155.40,208.00 L155.90,208.36 L156.40,208.43 L156.90,208.08 L157.40,208.54 L157.90,207.71 L158.40,208.42 L158.90,208.27 L159.40,207.80 L159.90,208.39 L160.40,207.60 L160.90,207.42 L161.40,207.09 L161.90,206.61 L162.40,207.59 L162.90,207.35 L163.40,208.52 L163.90,207.69 L164.40,208.11 L164.90,208.10 L165.40,207.56 L165.90,207.23 L166.40,207.86 L166.90,208.17 L167.40,208.08 L167.90,207.55 L168.40,207.03 L168.90,208.01 L169.40,207.29 L169.90,207.38 L170.40,208.25 L170.90,208.30 L171.40,208.15 L171.90,208.35 L172.40,208.26 L172.90,208.19 L173.40,208.41 L173.90,208.28 L174.40,208.50 L174.90,207.69 L175.40,207.12 L175.90,207.45 L176.40,207.65 L176.90,208.56 L177.40,208.49 L177.90,208.00 L178.40,208.05 L178.90,208.16 L179.40,208.57 L179.90,207.55 L179.90,212.80 L179.40,212.24 L178.90,212.88 L178.40,212.26 L177.90,212.61 L177.40,212.47 L176.90,212.44 L176.40,212.26 L175.90,212.95 L175.40,212.54 L174.90,213.11 L174.40,212.69 L173.90,212.47 L173.40,213.22 L172.90,213.31 L172.40,214.15 L171.90,213.17 L171.40,213.18 L170.90,212.55 L170.40,212.48 L169.90,212.44 L169.40,212.76 L168.90,212.53 L168.40,213.16 L167.90,213.20 L167.40,212.64 L166.90,212.31 L166.40,212.68 L165.90,212.89 L165.40,212.38 L164.90,213.28 L164.40,213.35 L163.90,213.25 L163.40,212.69 L162.90,212.27 L162.40,213.10 L161.90,212.55 L161.40,213.59 L160.90,213.26 L160.40,212.96 L159.90,212.70 L159.40,212.66 L158.90,212.39 L158.40,212.37 L157.90,212.54 L157.40,212.65 L156.90,212.47 L156.40,212.56 L155.90,212.92 L155.40,212.35 L154.90,212.65 L154.40,213.65 L153.90,212.35 L153.40,212.59 L152.90,212.28 L152.40,213.50 L151.90,212.55 L151.40,212.35 L150.90,212.31 L150.40,212.75 L149.90,212.92 L149.40,212.27 L148.90,212.29 L148.40,212.97 L147.90,212.29 L147.40,212.47 L146.90,212.75 L146.40,212.50 L145.90,212.34 L145.40,212.86 L144.90,213.49 L144.40,213.09 L143.90,213.50 L143.40,212.74 L142.90,213.31 L142.40,213.09 L141.90,212.70 L141.40,213.56 L140.90,213.42 L140.40,213.09 L139.90,213.05 L139.40,212.74 L138.90,213.06 L138.40,212.43 L137.90,213.04 L137.40,213.00 L136.90,213.31 L136.40,213.54 L135.90,212.77 L135.40,213.03 L134.90,212.93 L134.40,212.55 L133.90,213.46 L133.40,212.69 L132.90,212.55 L132.40,213.04 L131.90,212.85 L131.40,212.50 L130.90,212.64 L130.40,212.74 L129.90,213.20 L129.40,213.41 L128.90,213.89 L128.40,213.51 L127.90,212.66 L127.40,212.97 L126.90,214.22 L126.40,213.56 L125.90,213.32 L125.40,213.54 L124.90,213.01 L124.40,213.14 L123.90,213.34 L123.40,213.33 L122.90,213.16 L122.40,213.23 L121.90,213.25 L121.40,213.61 L120.90,213.61 L120.40,213.10 L119.90,213.43 L119.40,213.06 L118.90,213.12 L118.40,213.01 L117.90,212.98 L117.40,213.12 L116.90,213.84 L116.40,213.89 L115.90,213.09 L115.40,213.59 L114.90,213.37 L114.40,213.38 L113.90,213.92 L113.40,213.83 L112.90,213.37 L112.40,213.38 L111.90,213.52 L111.40,214.33 L110.90,213.98 L110.40,214.11 L109.90,214.77 L109.40,214.26 L108.90,214.31 L108.40,214.97 L107.90,214.71 L107.40,214.73 L106.90,215.06 L106.40,214.70 L105.90,215.18 L105.40,215.20 L104.90,215.30 L104.40,215.06 L103.90,215.51 L103.40,215.62 L102.90,215.51 L102.40,215.53 L101.90,215.88 L101.40,216.36 L100.90,216.45 L100.40,216.25 L99.90,217.01 L99.40,217.28 L98.90,217.27 L98.40,216.25 L97.90,216.65 L97.40,217.16 L96.90,216.18 L96.40,216.73 L95.90,216.99 L95.40,217.65 L94.90,216.29 L94.40,216.41 L93.90,216.68 L93.40,216.60 L92.90,216.36 L92.40,216.47 L91.90,216.43 L91.40,216.44 L90.90,216.83 L90.40,216.90 L89.90,216.84 L89.40,217.26 L88.90,217.72 L88.40,216.92 L87.90,216.97 L87.40,216.92 L86.90,216.99 L86.40,217.40 L85.90,217.37 L85.40,218.02 L84.90,218.70 L84.40,219.05 L83.90,218.91 L83.40,219.04 L82.90,218.96 L82.40,219.44 L81.90,219.94 L81.40,220.18 L80.90,221.84 L80.40,222.88 L79.90,223.52 L79.40,224.07 L78.90,224.46 L78.40,223.43 L77.90,224.18 L77.40,224.48 L76.90,225.11 L76.40,226.01 L75.90,226.52 L75.40,226.95 L74.90,227.77 L74.40,228.54 L73.90,230.02 L73.40,230.01 L72.90,229.94 L72.40,230.47 L71.90,230.51 L71.40,230.85 L70.90,231.31 L70.40,231.63 L69.90,232.06 L69.40,232.75 L68.90,233.16 L68.40,233.79 L67.90,234.12 L67.40,235.79 L66.90,236.71 L66.40,238.19 L65.90,239.14 L65.40,240.21 L64.90,241.38 L64.40,242.22 L63.90,243.38 L63.40,244.85 L62.90,245.34 L62.40,247.09 L61.90,247.63 L61.40,248.70 L60.90,250.08 L60.40,253.08 L59.90,256.53 L59.40,259.32 L58.90,260.36 L58.40,261.55 L57.90,263.12 L57.40,263.47 L56.90,261.75 L56.40,259.61 L55.90,259.05 L55.40,257.28 L54.90,258.67 L54.40,260.21 L53.90,263.53 L53.40,267.13 L52.90,270.47 L52.40,273.93 L51.90,278.05 L51.40,281.54 L50.90,285.09 L50.40,290.03 L49.90,294.63 L49.40,297.89 L48.90,301.34 Z" fill="#fde2d0" fill-opacity="0.85" clip-path="url(#clipd)"/>
<path d="M48.50,299.28 L49.00,295.98 L49.50,290.24 L50.00,285.04 L50.50,280.21 L51.00,274.64 L51.50,269.24 L52.00,266.13 L52.50,261.19 L53.00,257.58 L53.50,255.91 L54.00,254.77 L54.50,252.81 L55.00,251.55 L55.50,250.45 L56.00,248.54 L56.50,246.00 L57.00,244.79 L57.50,244.53 L58.00,241.47 L58.50,240.37 L59.00,238.72 L59.50,236.94 L60.00,237.56 L60.50,237.24 L61.00,238.02 L61.50,237.14 L62.00,237.18 L62.50,234.78 L63.00,234.19 L63.50,234.17 L64.00,233.07 L64.50,233.25 L65.00,234.14 L65.50,234.71 L66.00,233.76 L66.50,233.70 L67.00,233.33 L67.50,233.92 L68.00,233.79 L68.50,233.18 L69.00,233.37 L69.50,233.51 L70.00,231.53 L70.50,231.66 L71.00,231.89 L71.50,231.85 L72.00,232.07 L72.50,231.68 L73.00,230.87 L73.50,231.12 L74.00,231.09 L74.50,230.71 L75.00,230.71 L75.50,231.13 L76.00,230.44 L76.50,230.57 L77.00,231.43 L77.50,231.12 L78.00,230.74 L78.50,230.57 L79.00,231.62 L79.50,230.47 L80.00,230.09 L80.50,231.07 L81.00,229.44 L81.50,228.64 L82.00,228.65 L82.50,229.44 L83.00,229.22 L83.50,229.08 L84.00,227.80 L84.50,227.91 L85.00,227.64 L85.50,227.88 L86.00,229.08 L86.50,229.19 L87.00,228.36 L87.50,227.95 L88.00,228.32 L88.50,229.35 L89.00,227.78 L89.50,228.09 L90.00,230.21 L90.50,230.11 L91.00,229.20 L91.50,229.27 L92.00,230.36 L92.50,229.07 L93.00,228.90 L93.50,230.87 L94.00,230.10 L94.50,229.46 L95.00,228.52 L95.50,228.83 L96.00,229.10 L96.50,229.22 L97.00,228.61 L97.50,228.44 L98.00,228.04 L98.50,228.52 L99.00,229.54 L99.50,229.27 L100.00,229.20 L100.50,229.64 L101.00,229.24 L101.50,228.27 L102.00,229.34 L102.50,229.38 L103.00,230.27 L103.50,229.78 L104.00,230.44 L104.50,229.79 L105.00,229.09 L105.50,228.05 L106.00,229.23 L106.50,228.39 L107.00,228.64 L107.50,229.11 L108.00,229.20 L108.50,230.98 L109.00,229.53 L109.50,228.36 L110.00,228.50 L110.50,229.97 L111.00,231.04 L111.50,229.85 L112.00,229.18 L112.50,229.93 L113.00,229.78 L113.50,229.91 L114.00,229.60 L114.50,230.07 L115.00,230.94 L115.50,230.48 L116.00,229.71 L116.50,229.83 L117.00,229.98 L117.50,228.70 L118.00,228.73 L118.50,228.58 L119.00,229.80 L119.50,229.56 L120.00,228.98 L120.50,228.26 L121.00,227.09 L121.50,226.74 L122.00,228.16 L122.50,227.82 L123.00,227.14 L123.50,227.93 L124.00,227.10 L124.50,228.04 L125.00,229.32 L125.50,228.39 L126.00,228.39 L126.50,229.19 L127.00,228.33 L127.50,227.31 L128.00,227.72 L128.50,227.02 L129.00,227.37 L129.50,228.45 L130.00,228.78 L130.50,228.21 L131.00,228.44 L131.50,227.83 L132.00,228.40 L132.50,228.73 L133.00,228.60 L133.50,228.21 L134.00,228.46 L134.50,228.06 L135.00,228.11 L135.50,227.44 L136.00,227.67 L136.50,227.52 L137.00,228.61 L137.50,228.12 L138.00,227.78 L138.50,228.54 L139.00,228.94 L139.50,228.26 L140.00,228.40 L140.50,228.17 L141.00,228.66 L141.50,228.46 L142.00,228.53 L142.50,227.68 L143.00,229.05 L143.50,228.92 L144.00,228.72 L144.50,229.10 L145.00,229.55 L145.50,228.68 L146.00,229.59 L146.50,229.12 L147.00,228.02 L147.50,227.03 L148.00,227.92 L148.50,228.66 L149.00,228.76 L149.50,227.83 L150.00,229.17 L150.50,228.69 L151.00,228.24 L151.50,228.41 L152.00,228.08 L152.50,228.56 L153.00,228.46 L153.50,229.52 L154.00,229.95 L154.50,228.46 L155.00,229.11 L155.50,229.91 L156.00,228.86 L156.50,228.47 L157.00,228.14 L157.50,227.86 L158.00,228.15 L158.50,229.26 L159.00,227.16 L159.50,228.53 L160.00,228.73 L160.50,229.41 L161.00,227.48 L161.50,227.22 L162.00,228.04 L162.50,227.99 L163.00,228.21 L163.50,228.51 L164.00,229.96 L164.50,229.41 L165.00,226.74 L165.50,226.96 L166.00,227.10 L166.50,226.03 L167.00,227.21 L167.50,226.06 L168.00,226.22 L168.50,227.19 L169.00,227.21 L169.50,226.49 L170.00,227.00 L170.50,226.84 L171.00,227.90 L171.50,227.72 L172.00,226.07 L172.50,226.03 L173.00,226.37 L173.50,225.18 L174.00,225.28 L174.50,225.57 L175.00,226.03 L175.50,225.77 L176.00,226.28 L176.50,227.05 L177.00,226.52 L177.50,227.34 L178.00,226.74 L178.50,227.27 L179.00,225.96 L179.50,225.72 L180.00,224.43" stroke="#0b84c3" stroke-width="1.90" fill="none" stroke-linejoin="round" clip-path="url(#clipd)"/>
<path d="M48.90,300.42 L49.40,297.44 L49.90,291.08 L50.40,287.43 L50.90,283.80 L51.40,278.61 L51.90,275.29 L52.40,271.57 L52.90,268.71 L53.40,264.53 L53.90,261.05 L54.40,257.74 L54.90,256.04 L55.40,255.97 L55.90,256.82 L56.40,257.89 L56.90,259.30 L57.40,261.75 L57.90,259.75 L58.40,259.05 L58.90,257.60 L59.40,255.98 L59.90,253.19 L60.40,250.77 L60.90,246.87 L61.40,245.28 L61.90,244.42 L62.40,243.01 L62.90,241.84 L63.40,241.99 L63.90,241.58 L64.40,239.59 L64.90,239.16 L65.40,237.96 L65.90,238.16 L66.40,235.64 L66.90,234.13 L67.40,233.31 L67.90,232.16 L68.40,231.39 L68.90,232.29 L69.40,231.58 L69.90,230.76 L70.40,229.51 L70.90,230.34 L71.40,229.38 L71.90,227.65 L72.40,226.80 L72.90,226.78 L73.40,228.06 L73.90,227.31 L74.40,225.47 L74.90,224.74 L75.40,223.71 L75.90,222.30 L76.40,223.14 L76.90,223.23 L77.40,222.75 L77.90,221.36 L78.40,221.49 L78.90,220.88 L79.40,220.01 L79.90,219.01 L80.40,219.20 L80.90,218.05 L81.40,218.45 L81.90,217.47 L82.40,216.26 L82.90,215.90 L83.40,216.18 L83.90,217.25 L84.40,216.37 L84.90,215.82 L85.40,215.37 L85.90,214.55 L86.40,215.36 L86.90,215.19 L87.40,215.48 L87.90,214.70 L88.40,214.79 L88.90,215.34 L89.40,213.81 L89.90,214.15 L90.40,214.66 L90.90,214.45 L91.40,215.32 L91.90,214.88 L92.40,215.47 L92.90,214.96 L93.40,214.39 L93.90,213.97 L94.40,213.24 L94.90,213.18 L95.40,213.17 L95.90,213.67 L96.40,214.26 L96.90,214.49 L97.40,214.05 L97.90,214.98 L98.40,213.87 L98.90,213.44 L99.40,214.22 L99.90,213.98 L100.40,214.33 L100.90,214.06 L101.40,213.59 L101.90,213.98 L102.40,215.19 L102.90,213.59 L103.40,213.99 L103.90,212.81 L104.40,212.32 L104.90,213.26 L105.40,212.10 L105.90,212.34 L106.40,213.03 L106.90,214.01 L107.40,212.98 L107.90,212.13 L108.40,212.38 L108.90,211.34 L109.40,212.42 L109.90,212.12 L110.40,212.09 L110.90,212.16 L111.40,212.06 L111.90,211.96 L112.40,211.38 L112.90,211.94 L113.40,212.21 L113.90,212.75 L114.40,210.63 L114.90,211.84 L115.40,210.44 L115.90,211.41 L116.40,209.80 L116.90,209.24 L117.40,210.43 L117.90,211.09 L118.40,211.11 L118.90,211.52 L119.40,210.86 L119.90,209.91 L120.40,210.42 L120.90,210.48 L121.40,210.77 L121.90,210.97 L122.40,210.48 L122.90,211.24 L123.40,210.47 L123.90,208.88 L124.40,209.68 L124.90,209.67 L125.40,211.07 L125.90,211.06 L126.40,211.86 L126.90,210.82 L127.40,211.86 L127.90,210.04 L128.40,210.85 L128.90,211.09 L129.40,210.69 L129.90,209.75 L130.40,211.69 L130.90,210.79 L131.40,210.74 L131.90,210.64 L132.40,211.21 L132.90,210.14 L133.40,210.83 L133.90,210.53 L134.40,210.24 L134.90,210.78 L135.40,210.76 L135.90,210.99 L136.40,210.57 L136.90,210.60 L137.40,209.57 L137.90,209.28 L138.40,211.00 L138.90,211.22 L139.40,209.76 L139.90,210.83 L140.40,210.45 L140.90,211.72 L141.40,211.25 L141.90,211.09 L142.40,210.73 L142.90,210.24 L143.40,210.85 L143.90,210.38 L144.40,210.32 L144.90,210.50 L145.40,211.31 L145.90,210.88 L146.40,211.09 L146.90,210.43 L147.40,209.70 L147.90,210.88 L148.40,209.45 L148.90,210.30 L149.40,210.38 L149.90,211.00 L150.40,210.64 L150.90,210.28 L151.40,210.34 L151.90,210.98 L152.40,210.26 L152.90,209.43 L153.40,209.56 L153.90,210.06 L154.40,210.15 L154.90,211.14 L155.40,209.97 L155.90,210.01 L156.40,209.06 L156.90,210.36 L157.40,210.26 L157.90,210.69 L158.40,210.00 L158.90,210.86 L159.40,210.01 L159.90,209.78 L160.40,209.34 L160.90,210.11 L161.40,210.76 L161.90,210.59 L162.40,210.84 L162.90,210.08 L163.40,211.26 L163.90,210.65 L164.40,210.93 L164.90,210.37 L165.40,209.56 L165.90,209.47 L166.40,211.34 L166.90,210.80 L167.40,209.84 L167.90,210.79 L168.40,210.94 L168.90,210.95 L169.40,211.38 L169.90,211.14 L170.40,210.35 L170.90,210.97 L171.40,211.12 L171.90,210.73 L172.40,210.37 L172.90,210.77 L173.40,209.29 L173.90,210.33 L174.40,210.20 L174.90,211.19 L175.40,210.72 L175.90,209.52 L176.40,210.65 L176.90,210.95 L177.40,211.48 L177.90,211.55 L178.40,210.56 L178.90,210.09 L179.40,210.07 L179.90,209.36" stroke="#ff6813" stroke-width="1.90" fill="none" stroke-linejoin="round" clip-path="url(#clipd)"/>
<path d="M118.90,206.97 L122.85,213.69 L114.95,213.69 Z" fill="url(#tg)" stroke="#ff7a10" stroke-width="0.8" stroke-linejoin="round"/>
<path d="M137.90,199.97 L141.85,206.69 L133.95,206.69 Z" fill="url(#tg)" stroke="#ff7a10" stroke-width="0.8" stroke-linejoin="round"/>
<path d="M169.80,201.97 L173.75,208.69 L165.85,208.69 Z" fill="url(#tg)" stroke="#ff7a10" stroke-width="0.8" stroke-linejoin="round"/>
<circle cx="138.10" cy="231.60" r="3.70" fill="#1aaeea"/>
<circle cx="172.00" cy="216.60" r="3.70" fill="#1aaeea"/>
<circle cx="173.00" cy="222.00" r="3.70" fill="#1aaeea"/>
<path d="M39.40,168.60 L39.40,297.50 L181.40,297.50" stroke="#8a8a8a" stroke-width="1.7" fill="none"/>
<path d="M39.40,297.50 h1.5 M39.40,265.27 h1.5 M39.40,233.05 h1.5 M39.40,200.82 h1.5 M39.40,168.60 h1.5 M39.40,297.50 v-1.5 M82.04,297.50 v-1.5 M124.69,297.50 v-1.5 M167.33,297.50 v-1.5" stroke="#555" stroke-width="1" fill="none"/>
<g font-family='"Liberation Sans", sans-serif' font-weight="bold" font-size="9.6" fill="#262626"><text x="34.80" y="300.50" text-anchor="end">60</text><text x="34.80" y="268.27" text-anchor="end">70</text><text x="34.80" y="236.05" text-anchor="end">80</text><text x="34.80" y="203.82" text-anchor="end">90</text><text x="34.80" y="171.60" text-anchor="end">100</text></g>
<g stroke="#e6e6e6" stroke-width="1" fill="none"><line x1="216.80" y1="268.83" x2="361.40" y2="268.83"/><line x1="216.80" y1="236.55" x2="361.40" y2="236.55"/><line x1="216.80" y1="204.28" x2="361.40" y2="204.28"/><line x1="216.80" y1="172.00" x2="361.40" y2="172.00"/><line x1="260.22" y1="172.00" x2="260.22" y2="301.10"/><line x1="303.65" y1="172.00" x2="303.65" y2="301.10"/><line x1="347.07" y1="172.00" x2="347.07" y2="301.10"/></g>
<path d="M226.00,300.77 L226.50,299.44 L227.00,296.98 L227.50,292.07 L228.00,286.83 L228.50,282.60 L229.00,277.92 L229.50,272.77 L230.00,268.34 L230.50,263.20 L231.00,258.08 L231.50,253.12 L232.00,247.30 L232.50,243.29 L233.00,240.15 L233.50,236.35 L234.00,232.91 L234.50,229.60 L235.00,226.14 L235.50,223.52 L236.00,220.76 L236.50,218.30 L237.00,215.48 L237.50,213.70 L238.00,211.87 L238.50,211.26 L239.00,209.55 L239.50,208.16 L240.00,208.11 L240.50,207.78 L241.00,207.72 L241.50,208.24 L242.00,207.53 L242.50,207.87 L243.00,207.73 L243.50,207.83 L244.00,207.76 L244.50,207.65 L245.00,207.45 L245.50,207.66 L246.00,207.83 L246.50,208.25 L247.00,208.23 L247.50,206.99 L248.00,207.64 L248.50,207.05 L249.00,206.52 L249.50,206.38 L250.00,205.96 L250.50,205.45 L251.00,205.06 L251.50,204.87 L252.00,205.52 L252.50,204.95 L253.00,204.45 L253.50,204.73 L254.00,204.24 L254.50,204.16 L255.00,204.10 L255.50,203.87 L256.00,203.74 L256.50,204.51 L257.00,204.16 L257.50,203.58 L258.00,204.09 L258.50,203.57 L259.00,203.92 L259.50,203.80 L260.00,203.79 L260.50,203.68 L261.00,203.72 L261.50,203.79 L262.00,203.08 L262.50,203.74 L263.00,203.16 L263.50,202.49 L264.00,202.92 L264.50,203.14 L265.00,203.38 L265.50,203.04 L266.00,202.94 L266.50,203.15 L267.00,202.83 L267.50,202.67 L268.00,202.81 L268.50,202.43 L269.00,202.00 L269.50,202.67 L270.00,202.49 L270.50,202.00 L271.00,202.10 L271.50,202.48 L272.00,202.62 L272.50,202.39 L273.00,202.61 L273.50,202.65 L274.00,202.87 L274.50,202.45 L275.00,202.63 L275.50,203.14 L276.00,203.34 L276.50,203.25 L277.00,203.07 L277.50,203.75 L278.00,203.34 L278.50,203.73 L279.00,204.02 L279.50,203.96 L280.00,204.22 L280.50,203.65 L281.00,204.13 L281.50,204.50 L282.00,203.75 L282.50,203.79 L283.00,204.53 L283.50,204.90 L284.00,204.52 L284.50,204.69 L285.00,203.96 L285.50,204.61 L286.00,203.18 L286.50,203.85 L287.00,203.92 L287.50,203.99 L288.00,203.82 L288.50,203.06 L289.00,202.91 L289.50,202.86 L290.00,202.97 L290.50,203.24 L291.00,203.27 L291.50,203.52 L292.00,203.16 L292.50,203.06 L293.00,202.89 L293.50,202.71 L294.00,203.38 L294.50,203.46 L295.00,203.56 L295.50,203.09 L296.00,203.40 L296.50,202.88 L297.00,202.87 L297.50,203.40 L298.00,203.47 L298.50,203.55 L299.00,203.39 L299.50,203.25 L300.00,203.59 L300.50,203.06 L301.00,202.61 L301.50,202.65 L302.00,202.90 L302.50,202.86 L303.00,203.45 L303.50,202.67 L304.00,203.03 L304.50,203.25 L305.00,203.10 L305.50,202.57 L306.00,203.31 L306.50,203.21 L307.00,203.16 L307.50,202.69 L308.00,202.80 L308.50,202.66 L309.00,203.31 L309.50,202.91 L310.00,202.51 L310.50,202.86 L311.00,202.81 L311.50,203.19 L312.00,202.91 L312.50,203.18 L313.00,203.09 L313.50,202.65 L314.00,203.06 L314.50,203.11 L315.00,203.21 L315.50,203.26 L316.00,202.92 L316.50,202.84 L317.00,203.08 L317.50,202.66 L318.00,203.20 L318.50,202.98 L319.00,202.26 L319.50,202.71 L320.00,203.01 L320.50,202.97 L321.00,202.32 L321.50,202.08 L322.00,202.41 L322.50,202.93 L323.00,202.34 L323.50,202.19 L324.00,202.73 L324.50,202.65 L325.00,202.12 L325.50,201.48 L326.00,201.94 L326.50,202.26 L327.00,202.38 L327.50,203.05 L328.00,202.75 L328.50,202.73 L329.00,202.25 L329.50,202.97 L330.00,202.95 L330.50,203.02 L331.00,202.99 L331.50,202.79 L332.00,202.77 L332.50,202.35 L333.00,202.75 L333.50,202.75 L334.00,202.98 L334.50,202.88 L335.00,202.60 L335.50,202.49 L336.00,202.37 L336.50,202.50 L337.00,202.74 L337.50,202.91 L338.00,202.64 L338.50,202.34 L339.00,202.70 L339.50,201.92 L340.00,202.55 L340.50,202.12 L341.00,202.53 L341.50,202.07 L342.00,202.25 L342.50,202.12 L343.00,201.75 L343.50,202.79 L344.00,202.29 L344.50,202.84 L345.00,202.38 L345.50,202.72 L346.00,202.40 L346.50,202.70 L347.00,202.88 L347.50,202.89 L348.00,202.82 L348.50,202.57 L349.00,202.25 L349.50,202.13 L350.00,202.74 L350.50,202.87 L351.00,202.14 L351.50,202.26 L352.00,203.18 L352.50,203.11 L353.00,203.21 L353.50,202.66 L354.00,202.86 L354.50,203.02 L355.00,203.12 L355.50,203.05 L356.00,203.05 L356.50,202.38 L357.00,203.07 L357.50,203.04 L358.00,202.74 L358.50,203.35 L359.00,202.53 L359.50,202.62 L360.00,202.45 L360.00,206.17 L359.50,206.45 L359.00,206.75 L358.50,206.50 L358.00,205.95 L357.50,206.34 L357.00,206.31 L356.50,206.33 L356.00,205.92 L355.50,206.09 L355.00,206.24 L354.50,206.24 L354.00,206.38 L353.50,205.83 L353.00,205.71 L352.50,205.85 L352.00,205.71 L351.50,205.81 L351.00,206.21 L350.50,205.68 L350.00,205.81 L349.50,205.80 L349.00,205.78 L348.50,205.78 L348.00,205.84 L347.50,206.21 L347.00,205.82 L346.50,205.98 L346.00,205.42 L345.50,205.58 L345.00,205.61 L344.50,205.75 L344.00,206.00 L343.50,205.50 L343.00,205.69 L342.50,205.53 L342.00,205.56 L341.50,205.91 L341.00,206.47 L340.50,205.78 L340.00,206.23 L339.50,205.98 L339.00,205.63 L338.50,206.00 L338.00,205.69 L337.50,205.70 L337.00,205.61 L336.50,206.07 L336.00,205.80 L335.50,205.77 L335.00,205.65 L334.50,205.76 L334.00,206.04 L333.50,205.73 L333.00,205.77 L332.50,206.25 L332.00,205.99 L331.50,206.34 L331.00,206.56 L330.50,205.76 L330.00,205.71 L329.50,205.71 L329.00,206.20 L328.50,205.74 L328.00,206.38 L327.50,206.33 L327.00,205.99 L326.50,206.61 L326.00,206.40 L325.50,206.29 L325.00,206.02 L324.50,206.05 L324.00,206.32 L323.50,205.99 L323.00,206.59 L322.50,206.42 L322.00,206.21 L321.50,206.51 L321.00,205.92 L320.50,206.14 L320.00,206.45 L319.50,206.29 L319.00,206.73 L318.50,206.69 L318.00,206.42 L317.50,206.13 L317.00,206.16 L316.50,206.29 L316.00,205.97 L315.50,206.40 L315.00,206.42 L314.50,206.29 L314.00,206.43 L313.50,206.07 L313.00,206.19 L312.50,206.22 L312.00,206.92 L311.50,206.99 L311.00,207.14 L310.50,206.79 L310.00,207.00 L309.50,207.15 L309.00,206.62 L308.50,206.39 L308.00,206.35 L307.50,206.25 L307.00,206.19 L306.50,206.32 L306.00,206.41 L305.50,206.37 L305.00,206.78 L304.50,207.02 L304.00,206.59 L303.50,206.62 L303.00,206.82 L302.50,206.70 L302.00,206.50 L301.50,206.44 L301.00,206.67 L300.50,206.38 L300.00,206.71 L299.50,206.68 L299.00,206.68 L298.50,206.71 L298.00,207.02 L297.50,207.06 L297.00,206.60 L296.50,206.62 L296.00,207.32 L295.50,206.80 L295.00,206.62 L294.50,206.45 L294.00,206.88 L293.50,206.51 L293.00,206.67 L292.50,207.85 L292.00,207.12 L291.50,207.39 L291.00,207.11 L290.50,207.26 L290.00,206.79 L289.50,207.05 L289.00,206.95 L288.50,207.01 L288.00,207.25 L287.50,207.28 L287.00,207.35 L286.50,207.46 L286.00,207.48 L285.50,207.85 L285.00,208.36 L284.50,208.33 L284.00,207.90 L283.50,208.03 L283.00,208.18 L282.50,208.14 L282.00,207.74 L281.50,207.85 L281.00,207.44 L280.50,207.40 L280.00,207.57 L279.50,207.34 L279.00,207.45 L278.50,207.36 L278.00,206.95 L277.50,207.01 L277.00,206.72 L276.50,206.77 L276.00,206.86 L275.50,206.84 L275.00,206.61 L274.50,206.54 L274.00,207.03 L273.50,206.83 L273.00,206.52 L272.50,206.56 L272.00,206.29 L271.50,206.30 L271.00,206.67 L270.50,206.92 L270.00,205.75 L269.50,205.83 L269.00,206.69 L268.50,206.58 L268.00,206.36 L267.50,206.25 L267.00,206.85 L266.50,206.57 L266.00,206.97 L265.50,207.53 L265.00,207.95 L264.50,207.49 L264.00,207.16 L263.50,207.28 L263.00,207.29 L262.50,207.05 L262.00,207.26 L261.50,207.27 L261.00,207.39 L260.50,207.70 L260.00,207.84 L259.50,208.42 L259.00,208.33 L258.50,208.28 L258.00,208.20 L257.50,207.83 L257.00,207.94 L256.50,208.43 L256.00,208.48 L255.50,208.60 L255.00,208.89 L254.50,208.53 L254.00,208.58 L253.50,209.95 L253.00,209.61 L252.50,209.03 L252.00,209.15 L251.50,209.43 L251.00,210.01 L250.50,209.80 L250.00,210.60 L249.50,211.21 L249.00,210.96 L248.50,211.51 L248.00,212.22 L247.50,212.80 L247.00,212.67 L246.50,212.48 L246.00,211.83 L245.50,211.63 L245.00,211.85 L244.50,212.08 L244.00,212.99 L243.50,212.24 L243.00,212.60 L242.50,212.05 L242.00,212.98 L241.50,212.55 L241.00,212.90 L240.50,213.77 L240.00,212.85 L239.50,213.00 L239.00,213.68 L238.50,215.43 L238.00,216.73 L237.50,219.08 L237.00,220.45 L236.50,222.18 L236.00,225.10 L235.50,227.33 L235.00,230.73 L234.50,233.45 L234.00,237.01 L233.50,241.55 L233.00,244.45 L232.50,247.29 L232.00,251.68 L231.50,256.63 L231.00,262.04 L230.50,266.34 L230.00,272.35 L229.50,276.50 L229.00,280.99 L228.50,285.46 L228.00,290.46 L227.50,294.59 L227.00,299.28 L226.50,302.38 L226.00,303.55 Z" fill="#cde9f6" fill-opacity="1.00" clip-path="url(#clipe)"/>
<path d="M227.00,300.40 L227.50,299.85 L228.00,297.45 L228.50,293.42 L229.00,289.99 L229.50,284.69 L230.00,280.70 L230.50,276.29 L231.00,272.33 L231.50,267.71 L232.00,262.30 L232.50,254.85 L233.00,248.39 L233.50,243.97 L234.00,242.72 L234.50,240.19 L235.00,238.80 L235.50,236.77 L236.00,235.88 L236.50,235.82 L237.00,237.25 L237.50,237.59 L238.00,236.37 L238.50,236.30 L239.00,234.04 L239.50,231.30 L240.00,228.85 L240.50,226.06 L241.00,225.49 L241.50,224.84 L242.00,224.21 L242.50,223.69 L243.00,222.53 L243.50,222.05 L244.00,221.26 L244.50,220.04 L245.00,219.17 L245.50,217.79 L246.00,217.60 L246.50,217.19 L247.00,216.80 L247.50,215.87 L248.00,214.99 L248.50,213.69 L249.00,213.14 L249.50,214.21 L250.00,213.61 L250.50,214.12 L251.00,213.41 L251.50,213.18 L252.00,215.79 L252.50,218.15 L253.00,221.40 L253.50,224.79 L254.00,224.96 L254.50,222.40 L255.00,219.07 L255.50,216.58 L256.00,214.56 L256.50,212.61 L257.00,210.40 L257.50,208.22 L258.00,206.86 L258.50,205.69 L259.00,205.71 L259.50,204.59 L260.00,203.55 L260.50,201.32 L261.00,200.93 L261.50,200.72 L262.00,200.68 L262.50,199.56 L263.00,199.12 L263.50,198.78 L264.00,198.12 L264.50,197.81 L265.00,197.75 L265.50,198.19 L266.00,197.40 L266.50,197.52 L267.00,197.59 L267.50,197.45 L268.00,196.90 L268.50,197.01 L269.00,197.27 L269.50,197.01 L270.00,197.37 L270.50,197.06 L271.00,196.55 L271.50,197.04 L272.00,196.84 L272.50,196.91 L273.00,196.54 L273.50,196.26 L274.00,195.67 L274.50,196.95 L275.00,196.29 L275.50,196.12 L276.00,196.80 L276.50,197.05 L277.00,197.19 L277.50,196.87 L278.00,197.48 L278.50,197.07 L279.00,197.27 L279.50,197.10 L280.00,197.70 L280.50,197.89 L281.00,197.96 L281.50,198.07 L282.00,197.47 L282.50,197.87 L283.00,198.19 L283.50,197.60 L284.00,197.59 L284.50,197.99 L285.00,197.06 L285.50,196.93 L286.00,196.98 L286.50,196.37 L287.00,196.96 L287.50,196.85 L288.00,197.35 L288.50,196.96 L289.00,196.86 L289.50,196.94 L290.00,196.74 L290.50,196.59 L291.00,196.67 L291.50,196.66 L292.00,196.52 L292.50,196.35 L293.00,196.25 L293.50,196.14 L294.00,196.35 L294.50,196.51 L295.00,196.38 L295.50,195.94 L296.00,196.23 L296.50,196.37 L297.00,196.16 L297.50,196.47 L298.00,195.83 L298.50,196.48 L299.00,196.18 L299.50,196.65 L300.00,195.77 L300.50,196.38 L301.00,196.02 L301.50,196.57 L302.00,196.38 L302.50,196.16 L303.00,196.60 L303.50,195.69 L304.00,196.14 L304.50,195.47 L305.00,196.56 L305.50,196.56 L306.00,196.54 L306.50,196.60 L307.00,196.88 L307.50,196.39 L308.00,196.29 L308.50,196.80 L309.00,196.59 L309.50,196.40 L310.00,196.51 L310.50,196.75 L311.00,196.63 L311.50,196.72 L312.00,196.49 L312.50,196.35 L313.00,196.07 L313.50,195.95 L314.00,196.06 L314.50,196.56 L315.00,196.49 L315.50,196.44 L316.00,196.60 L316.50,195.43 L317.00,196.09 L317.50,196.01 L318.00,196.09 L318.50,196.08 L319.00,195.86 L319.50,196.23 L320.00,196.31 L320.50,196.06 L321.00,195.99 L321.50,195.99 L322.00,195.63 L322.50,195.61 L323.00,195.67 L323.50,195.68 L324.00,195.68 L324.50,195.07 L325.00,196.14 L325.50,195.41 L326.00,194.74 L326.50,195.04 L327.00,195.01 L327.50,196.09 L328.00,195.69 L328.50,195.14 L329.00,194.80 L329.50,195.41 L330.00,195.37 L330.50,195.23 L331.00,195.12 L331.50,195.31 L332.00,196.29 L332.50,196.18 L333.00,196.13 L333.50,196.37 L334.00,196.43 L334.50,196.06 L335.00,196.55 L335.50,196.65 L336.00,196.86 L336.50,196.70 L337.00,197.14 L337.50,196.70 L338.00,196.70 L338.50,196.37 L339.00,196.98 L339.50,197.40 L340.00,197.62 L340.50,197.61 L341.00,197.56 L341.50,197.83 L342.00,197.73 L342.50,197.98 L343.00,197.24 L343.50,198.18 L344.00,198.09 L344.50,198.33 L345.00,198.33 L345.50,197.92 L346.00,197.37 L346.50,197.44 L347.00,197.96 L347.50,197.52 L348.00,197.38 L348.50,198.21 L349.00,198.05 L349.50,198.16 L350.00,197.15 L350.50,197.85 L351.00,196.61 L351.50,196.14 L352.00,197.15 L352.50,197.80 L353.00,196.76 L353.50,197.00 L354.00,197.94 L354.50,197.54 L355.00,196.71 L355.50,197.23 L356.00,197.83 L356.50,197.51 L357.00,197.40 L357.50,197.71 L358.00,197.14 L358.50,197.53 L359.00,197.23 L359.50,197.61 L360.00,197.48 L360.00,200.80 L359.50,200.55 L359.00,200.43 L358.50,201.11 L358.00,200.81 L357.50,200.83 L357.00,200.54 L356.50,200.93 L356.00,200.70 L355.50,200.59 L355.00,200.76 L354.50,201.00 L354.00,201.13 L353.50,201.39 L353.00,200.44 L352.50,201.19 L352.00,201.33 L351.50,200.84 L351.00,201.16 L350.50,200.99 L350.00,200.94 L349.50,201.18 L349.00,201.10 L348.50,201.30 L348.00,202.05 L347.50,201.34 L347.00,201.32 L346.50,200.92 L346.00,201.01 L345.50,201.37 L345.00,201.76 L344.50,201.73 L344.00,200.87 L343.50,201.13 L343.00,201.20 L342.50,200.82 L342.00,200.46 L341.50,200.62 L341.00,201.60 L340.50,200.95 L340.00,200.47 L339.50,200.11 L339.00,200.33 L338.50,200.33 L338.00,200.80 L337.50,200.24 L337.00,200.00 L336.50,200.15 L336.00,199.60 L335.50,200.71 L335.00,200.66 L334.50,200.44 L334.00,200.68 L333.50,200.38 L333.00,200.33 L332.50,199.69 L332.00,199.14 L331.50,200.08 L331.00,200.12 L330.50,198.88 L330.00,198.56 L329.50,198.87 L329.00,198.60 L328.50,199.02 L328.00,198.96 L327.50,199.30 L327.00,199.44 L326.50,198.79 L326.00,199.82 L325.50,198.95 L325.00,199.18 L324.50,199.24 L324.00,198.95 L323.50,200.43 L323.00,199.51 L322.50,199.07 L322.00,199.25 L321.50,200.74 L321.00,200.53 L320.50,200.71 L320.00,200.35 L319.50,199.63 L319.00,199.67 L318.50,199.49 L318.00,200.17 L317.50,199.69 L317.00,199.33 L316.50,200.28 L316.00,200.56 L315.50,199.43 L315.00,199.41 L314.50,199.26 L314.00,200.09 L313.50,200.59 L313.00,199.97 L312.50,199.87 L312.00,200.26 L311.50,200.60 L311.00,199.36 L310.50,199.41 L310.00,200.00 L309.50,199.82 L309.00,199.53 L308.50,199.68 L308.00,199.60 L307.50,200.25 L307.00,200.25 L306.50,199.57 L306.00,200.44 L305.50,200.39 L305.00,199.93 L304.50,199.58 L304.00,199.85 L303.50,199.78 L303.00,200.83 L302.50,201.13 L302.00,200.38 L301.50,199.43 L301.00,200.11 L300.50,199.73 L300.00,199.61 L299.50,199.42 L299.00,200.11 L298.50,199.56 L298.00,199.61 L297.50,199.66 L297.00,199.90 L296.50,200.03 L296.00,200.29 L295.50,200.90 L295.00,200.10 L294.50,200.04 L294.00,199.88 L293.50,199.90 L293.00,199.32 L292.50,200.49 L292.00,200.16 L291.50,200.06 L291.00,200.93 L290.50,200.79 L290.00,199.60 L289.50,200.77 L289.00,200.56 L288.50,200.24 L288.00,200.68 L287.50,200.21 L287.00,200.26 L286.50,200.45 L286.00,201.77 L285.50,201.77 L285.00,200.66 L284.50,201.22 L284.00,201.68 L283.50,201.12 L283.00,201.20 L282.50,201.14 L282.00,201.08 L281.50,201.10 L281.00,200.88 L280.50,201.16 L280.00,200.59 L279.50,201.70 L279.00,201.42 L278.50,201.48 L278.00,200.94 L277.50,200.89 L277.00,200.79 L276.50,200.66 L276.00,200.90 L275.50,201.51 L275.00,200.74 L274.50,200.87 L274.00,200.86 L273.50,201.14 L273.00,200.95 L272.50,201.50 L272.00,201.50 L271.50,201.71 L271.00,201.26 L270.50,201.49 L270.00,201.44 L269.50,202.11 L269.00,201.90 L268.50,202.09 L268.00,201.83 L267.50,202.36 L267.00,203.13 L266.50,203.34 L266.00,202.74 L265.50,203.16 L265.00,203.45 L264.50,203.45 L264.00,204.05 L263.50,203.90 L263.00,205.23 L262.50,205.63 L262.00,206.33 L261.50,206.46 L261.00,207.59 L260.50,207.97 L260.00,208.95 L259.50,210.04 L259.00,211.26 L258.50,212.25 L258.00,214.45 L257.50,215.15 L257.00,217.06 L256.50,218.69 L256.00,220.87 L255.50,222.24 L255.00,226.87 L254.50,237.51 L254.00,248.46 L253.50,256.07 L253.00,251.50 L252.50,240.31 L252.00,229.92 L251.50,219.28 L251.00,220.05 L250.50,220.28 L250.00,220.51 L249.50,220.44 L249.00,220.59 L248.50,221.65 L248.00,222.41 L247.50,223.27 L247.00,223.08 L246.50,223.18 L246.00,223.89 L245.50,224.67 L245.00,225.52 L244.50,226.66 L244.00,227.29 L243.50,228.51 L243.00,230.60 L242.50,231.29 L242.00,232.39 L241.50,232.02 L241.00,233.25 L240.50,234.39 L240.00,236.84 L239.50,239.10 L239.00,240.06 L238.50,242.41 L238.00,242.60 L237.50,243.62 L237.00,243.18 L236.50,241.67 L236.00,241.29 L235.50,242.13 L235.00,243.42 L234.50,245.64 L234.00,248.14 L233.50,249.21 L233.00,253.81 L232.50,260.22 L232.00,266.34 L231.50,272.26 L231.00,277.48 L230.50,280.85 L230.00,285.02 L229.50,289.04 L229.00,292.55 L228.50,297.18 L228.00,301.15 L227.50,302.14 L227.00,303.26 Z" fill="#fde2d0" fill-opacity="0.85" clip-path="url(#clipe)"/>
<path d="M226.00,301.66 L226.50,300.42 L227.00,299.29 L227.50,293.56 L228.00,287.87 L228.50,283.79 L229.00,279.24 L229.50,274.90 L230.00,269.70 L230.50,265.75 L231.00,260.71 L231.50,256.93 L232.00,251.29 L232.50,246.18 L233.00,243.09 L233.50,239.38 L234.00,234.75 L234.50,231.69 L235.00,228.07 L235.50,226.14 L236.00,222.61 L236.50,220.47 L237.00,218.07 L237.50,216.69 L238.00,215.67 L238.50,214.28 L239.00,211.68 L239.50,210.13 L240.00,210.88 L240.50,210.24 L241.00,209.84 L241.50,210.47 L242.00,209.52 L242.50,210.31 L243.00,210.73 L243.50,210.20 L244.00,209.37 L244.50,209.38 L245.00,210.37 L245.50,210.07 L246.00,210.86 L246.50,210.63 L247.00,210.76 L247.50,210.32 L248.00,209.85 L248.50,209.52 L249.00,209.47 L249.50,209.40 L250.00,208.32 L250.50,207.40 L251.00,207.11 L251.50,206.72 L252.00,205.81 L252.50,206.57 L253.00,206.31 L253.50,207.67 L254.00,206.68 L254.50,205.66 L255.00,206.35 L255.50,206.35 L256.00,206.83 L256.50,206.56 L257.00,207.45 L257.50,206.22 L258.00,206.25 L258.50,205.81 L259.00,205.57 L259.50,204.73 L260.00,205.72 L260.50,204.72 L261.00,205.49 L261.50,205.79 L262.00,205.83 L262.50,204.61 L263.00,205.51 L263.50,204.91 L264.00,205.28 L264.50,204.92 L265.00,206.12 L265.50,205.04 L266.00,204.77 L266.50,204.92 L267.00,203.87 L267.50,204.00 L268.00,204.15 L268.50,204.45 L269.00,204.16 L269.50,205.28 L270.00,205.80 L270.50,205.67 L271.00,204.90 L271.50,205.03 L272.00,206.00 L272.50,206.23 L273.00,205.71 L273.50,204.81 L274.00,205.51 L274.50,205.60 L275.00,205.26 L275.50,205.03 L276.00,204.25 L276.50,203.93 L277.00,203.98 L277.50,205.00 L278.00,205.42 L278.50,205.09 L279.00,205.30 L279.50,206.43 L280.00,205.38 L280.50,205.48 L281.00,205.11 L281.50,206.93 L282.00,206.30 L282.50,207.19 L283.00,207.21 L283.50,206.43 L284.00,206.81 L284.50,206.60 L285.00,206.62 L285.50,206.38 L286.00,206.47 L286.50,206.41 L287.00,205.50 L287.50,205.98 L288.00,205.18 L288.50,204.47 L289.00,204.67 L289.50,204.37 L290.00,204.31 L290.50,204.08 L291.00,205.15 L291.50,205.60 L292.00,204.87 L292.50,205.76 L293.00,205.26 L293.50,204.67 L294.00,204.27 L294.50,204.97 L295.00,204.94 L295.50,205.14 L296.00,206.83 L296.50,206.31 L297.00,205.48 L297.50,204.56 L298.00,204.59 L298.50,204.43 L299.00,204.41 L299.50,203.35 L300.00,204.44 L300.50,204.10 L301.00,205.94 L301.50,205.19 L302.00,205.59 L302.50,205.39 L303.00,204.62 L303.50,204.90 L304.00,204.61 L304.50,204.51 L305.00,204.65 L305.50,203.56 L306.00,205.13 L306.50,205.26 L307.00,204.87 L307.50,205.64 L308.00,204.51 L308.50,203.13 L309.00,204.25 L309.50,204.01 L310.00,204.39 L310.50,204.24 L311.00,204.37 L311.50,203.96 L312.00,204.34 L312.50,204.97 L313.00,205.00 L313.50,205.82 L314.00,205.47 L314.50,205.21 L315.00,204.98 L315.50,205.08 L316.00,204.70 L316.50,203.85 L317.00,203.64 L317.50,203.10 L318.00,203.83 L318.50,204.32 L319.00,204.72 L319.50,205.28 L320.00,204.54 L320.50,203.23 L321.00,203.58 L321.50,204.10 L322.00,203.18 L322.50,203.20 L323.00,203.28 L323.50,205.19 L324.00,205.39 L324.50,204.39 L325.00,204.11 L325.50,204.34 L326.00,204.53 L326.50,204.57 L327.00,203.76 L327.50,203.54 L328.00,204.86 L328.50,204.54 L329.00,205.04 L329.50,204.61 L330.00,204.60 L330.50,204.60 L331.00,204.27 L331.50,205.02 L332.00,205.10 L332.50,204.58 L333.00,204.50 L333.50,205.33 L334.00,204.12 L334.50,204.71 L335.00,205.12 L335.50,205.55 L336.00,205.64 L336.50,204.32 L337.00,204.76 L337.50,204.23 L338.00,204.72 L338.50,204.51 L339.00,204.86 L339.50,204.06 L340.00,204.24 L340.50,204.52 L341.00,204.64 L341.50,204.90 L342.00,205.55 L342.50,204.15 L343.00,204.18 L343.50,203.15 L344.00,204.10 L344.50,205.06 L345.00,204.60 L345.50,205.04 L346.00,205.74 L346.50,205.07 L347.00,205.10 L347.50,205.16 L348.00,204.17 L348.50,203.51 L349.00,203.75 L349.50,203.58 L350.00,204.41 L350.50,203.03 L351.00,202.62 L351.50,202.59 L352.00,203.82 L352.50,204.04 L353.00,204.19 L353.50,204.15 L354.00,204.08 L354.50,203.88 L355.00,204.41 L355.50,204.39 L356.00,204.70 L356.50,204.61 L357.00,204.69 L357.50,204.71 L358.00,205.94 L358.50,206.46 L359.00,206.12 L359.50,204.18 L360.00,204.92" stroke="#0b84c3" stroke-width="1.90" fill="none" stroke-linejoin="round" clip-path="url(#clipe)"/>
<path d="M227.00,302.49 L227.50,301.74 L228.00,300.00 L228.50,296.37 L229.00,291.26 L229.50,286.93 L230.00,282.61 L230.50,278.55 L231.00,275.76 L231.50,270.85 L232.00,263.86 L232.50,257.35 L233.00,252.20 L233.50,246.66 L234.00,244.50 L234.50,242.95 L235.00,241.93 L235.50,240.81 L236.00,238.42 L236.50,238.13 L237.00,238.94 L237.50,240.20 L238.00,239.94 L238.50,239.84 L239.00,237.83 L239.50,235.93 L240.00,232.68 L240.50,230.09 L241.00,229.19 L241.50,228.75 L242.00,227.35 L242.50,227.50 L243.00,225.27 L243.50,224.73 L244.00,223.49 L244.50,223.24 L245.00,222.64 L245.50,221.47 L246.00,221.12 L246.50,221.16 L247.00,219.62 L247.50,218.60 L248.00,217.69 L248.50,217.40 L249.00,216.86 L249.50,216.02 L250.00,216.99 L250.50,216.09 L251.00,214.91 L251.50,215.97 L252.00,218.23 L252.50,221.91 L253.00,225.47 L253.50,227.34 L254.00,227.34 L254.50,225.45 L255.00,221.17 L255.50,218.34 L256.00,216.51 L256.50,214.59 L257.00,213.85 L257.50,211.52 L258.00,209.19 L258.50,209.69 L259.00,208.80 L259.50,207.37 L260.00,207.38 L260.50,206.25 L261.00,205.33 L261.50,203.82 L262.00,203.20 L262.50,203.50 L263.00,202.72 L263.50,201.50 L264.00,200.23 L264.50,200.81 L265.00,200.78 L265.50,201.16 L266.00,201.03 L266.50,200.99 L267.00,200.38 L267.50,200.24 L268.00,199.59 L268.50,199.75 L269.00,199.85 L269.50,199.83 L270.00,199.12 L270.50,199.50 L271.00,199.29 L271.50,198.65 L272.00,198.98 L272.50,199.45 L273.00,198.94 L273.50,199.93 L274.00,199.55 L274.50,199.81 L275.00,199.63 L275.50,198.10 L276.00,197.39 L276.50,198.55 L277.00,198.52 L277.50,198.47 L278.00,199.12 L278.50,199.30 L279.00,199.36 L279.50,198.69 L280.00,199.84 L280.50,198.19 L281.00,199.47 L281.50,199.11 L282.00,199.80 L282.50,199.65 L283.00,199.76 L283.50,200.52 L284.00,199.51 L284.50,198.14 L285.00,198.39 L285.50,197.40 L286.00,197.95 L286.50,198.03 L287.00,198.76 L287.50,198.34 L288.00,198.68 L288.50,197.64 L289.00,198.25 L289.50,198.13 L290.00,198.72 L290.50,199.69 L291.00,199.08 L291.50,198.91 L292.00,197.82 L292.50,197.52 L293.00,198.88 L293.50,197.33 L294.00,197.56 L294.50,198.09 L295.00,198.60 L295.50,197.91 L296.00,197.96 L296.50,198.31 L297.00,198.91 L297.50,198.41 L298.00,198.02 L298.50,198.75 L299.00,198.91 L299.50,198.05 L300.00,198.23 L300.50,198.06 L301.00,198.12 L301.50,197.12 L302.00,197.88 L302.50,198.01 L303.00,197.37 L303.50,197.85 L304.00,197.55 L304.50,197.61 L305.00,197.85 L305.50,199.37 L306.00,199.36 L306.50,198.04 L307.00,198.87 L307.50,198.27 L308.00,199.01 L308.50,198.93 L309.00,199.23 L309.50,199.16 L310.00,198.28 L310.50,197.83 L311.00,198.09 L311.50,198.23 L312.00,198.82 L312.50,199.79 L313.00,198.87 L313.50,199.54 L314.00,198.93 L314.50,198.72 L315.00,197.67 L315.50,197.88 L316.00,198.29 L316.50,197.91 L317.00,197.45 L317.50,197.69 L318.00,198.44 L318.50,198.60 L319.00,197.71 L319.50,198.29 L320.00,197.84 L320.50,197.50 L321.00,198.44 L321.50,198.26 L322.00,197.98 L322.50,197.74 L323.00,195.80 L323.50,197.42 L324.00,198.38 L324.50,196.30 L325.00,195.45 L325.50,196.37 L326.00,197.65 L326.50,197.75 L327.00,197.88 L327.50,197.10 L328.00,196.66 L328.50,197.31 L329.00,196.53 L329.50,197.74 L330.00,197.89 L330.50,197.54 L331.00,197.05 L331.50,198.34 L332.00,197.90 L332.50,196.72 L333.00,196.84 L333.50,196.28 L334.00,197.78 L334.50,197.26 L335.00,197.74 L335.50,198.28 L336.00,199.05 L336.50,197.75 L337.00,198.55 L337.50,198.26 L338.00,198.38 L338.50,197.21 L339.00,198.20 L339.50,198.73 L340.00,199.05 L340.50,199.41 L341.00,198.76 L341.50,198.02 L342.00,199.15 L342.50,198.45 L343.00,200.62 L343.50,199.74 L344.00,198.41 L344.50,199.67 L345.00,199.63 L345.50,199.21 L346.00,199.14 L346.50,199.23 L347.00,198.55 L347.50,199.78 L348.00,200.35 L348.50,199.87 L349.00,199.16 L349.50,199.50 L350.00,200.09 L350.50,199.93 L351.00,199.43 L351.50,199.58 L352.00,198.66 L352.50,199.52 L353.00,200.24 L353.50,200.10 L354.00,200.10 L354.50,199.84 L355.00,198.60 L355.50,199.74 L356.00,200.07 L356.50,198.82 L357.00,198.76 L357.50,199.37 L358.00,199.41 L358.50,198.45 L359.00,198.06 L359.50,197.79 L360.00,198.59" stroke="#ff6813" stroke-width="1.90" fill="none" stroke-linejoin="round" clip-path="url(#clipe)"/>
<circle cx="260.70" cy="199.70" r="3.70" fill="#1aaeea"/>
<path d="M276.60,190.97 L280.55,197.69 L272.65,197.69 Z" fill="url(#tg)" stroke="#ff7a10" stroke-width="0.8" stroke-linejoin="round"/>
<path d="M289.50,188.37 L293.45,195.09 L285.55,195.09 Z" fill="url(#tg)" stroke="#ff7a10" stroke-width="0.8" stroke-linejoin="round"/>
<circle cx="304.60" cy="199.70" r="3.70" fill="#1aaeea"/>
<path d="M318.50,191.37 L322.45,198.09 L314.55,198.09 Z" fill="url(#tg)" stroke="#ff7a10" stroke-width="0.8" stroke-linejoin="round"/>
<path d="M216.80,172.00 L216.80,301.10 L361.40,301.10" stroke="#8a8a8a" stroke-width="1.7" fill="none"/>
<path d="M216.80,301.10 h1.5 M216.80,268.83 h1.5 M216.80,236.55 h1.5 M216.80,204.28 h1.5 M216.80,172.00 h1.5 M216.80,301.10 v-1.5 M260.22,301.10 v-1.5 M303.65,301.10 v-1.5 M347.07,301.10 v-1.5" stroke="#555" stroke-width="1" fill="none"/>
<g font-family='"Liberation Sans", sans-serif' font-weight="bold" font-size="9.6" fill="#262626"><text x="212.20" y="304.10" text-anchor="end">60</text><text x="212.20" y="271.83" text-anchor="end">70</text><text x="212.20" y="239.55" text-anchor="end">80</text><text x="212.20" y="207.28" text-anchor="end">90</text><text x="212.20" y="175.00" text-anchor="end">100</text></g>
<g stroke="#e6e6e6" stroke-width="1" fill="none"><line x1="399.50" y1="267.43" x2="543.80" y2="267.43"/><line x1="399.50" y1="235.15" x2="543.80" y2="235.15"/><line x1="399.50" y1="202.88" x2="543.80" y2="202.88"/><line x1="399.50" y1="170.60" x2="543.80" y2="170.60"/><line x1="442.83" y1="170.60" x2="442.83" y2="299.70"/><line x1="486.17" y1="170.60" x2="486.17" y2="299.70"/><line x1="529.50" y1="170.60" x2="529.50" y2="299.70"/></g>
<path d="M408.50,299.86 L409.00,298.92 L409.50,294.86 L410.00,289.34 L410.50,283.07 L411.00,277.59 L411.50,271.26 L412.00,264.86 L412.50,258.94 L413.00,252.52 L413.50,245.56 L414.00,238.29 L414.50,231.30 L415.00,227.47 L415.50,223.87 L416.00,219.58 L416.50,215.90 L417.00,213.24 L417.50,211.70 L418.00,210.26 L418.50,208.86 L419.00,207.08 L419.50,205.77 L420.00,205.45 L420.50,205.52 L421.00,204.91 L421.50,204.91 L422.00,204.62 L422.50,204.09 L423.00,203.92 L423.50,203.60 L424.00,202.17 L424.50,202.17 L425.00,202.13 L425.50,201.32 L426.00,201.22 L426.50,200.22 L427.00,200.65 L427.50,200.71 L428.00,199.69 L428.50,199.09 L429.00,199.14 L429.50,199.11 L430.00,198.64 L430.50,198.09 L431.00,197.27 L431.50,197.69 L432.00,196.90 L432.50,196.31 L433.00,195.50 L433.50,195.91 L434.00,196.62 L434.50,195.59 L435.00,195.21 L435.50,195.32 L436.00,195.74 L436.50,195.35 L437.00,194.53 L437.50,195.26 L438.00,194.98 L438.50,195.00 L439.00,194.81 L439.50,194.08 L440.00,194.52 L440.50,193.59 L441.00,193.49 L441.50,194.16 L442.00,194.25 L442.50,194.10 L443.00,194.49 L443.50,194.07 L444.00,193.69 L444.50,193.91 L445.00,193.85 L445.50,193.54 L446.00,193.57 L446.50,193.58 L447.00,193.81 L447.50,193.19 L448.00,192.93 L448.50,192.75 L449.00,193.61 L449.50,192.94 L450.00,192.72 L450.50,191.73 L451.00,192.48 L451.50,192.52 L452.00,192.93 L452.50,193.07 L453.00,192.78 L453.50,192.05 L454.00,191.64 L454.50,191.56 L455.00,191.44 L455.50,191.92 L456.00,192.75 L456.50,192.47 L457.00,192.48 L457.50,192.15 L458.00,192.54 L458.50,192.54 L459.00,192.53 L459.50,192.32 L460.00,192.30 L460.50,192.58 L461.00,192.31 L461.50,192.32 L462.00,191.94 L462.50,191.79 L463.00,191.90 L463.50,191.81 L464.00,192.22 L464.50,191.86 L465.00,191.90 L465.50,191.40 L466.00,190.64 L466.50,190.70 L467.00,191.41 L467.50,190.72 L468.00,190.21 L468.50,190.67 L469.00,190.32 L469.50,189.91 L470.00,189.68 L470.50,189.85 L471.00,189.86 L471.50,189.87 L472.00,189.46 L472.50,189.08 L473.00,189.78 L473.50,189.57 L474.00,190.00 L474.50,189.53 L475.00,189.57 L475.50,189.81 L476.00,190.08 L476.50,190.03 L477.00,190.03 L477.50,189.81 L478.00,189.95 L478.50,189.66 L479.00,190.03 L479.50,190.11 L480.00,189.58 L480.50,188.93 L481.00,189.57 L481.50,189.66 L482.00,190.20 L482.50,190.20 L483.00,190.18 L483.50,189.89 L484.00,190.03 L484.50,190.32 L485.00,190.12 L485.50,189.87 L486.00,190.13 L486.50,190.25 L487.00,189.99 L487.50,189.48 L488.00,190.09 L488.50,190.06 L489.00,189.31 L489.50,190.27 L490.00,190.41 L490.50,190.18 L491.00,189.43 L491.50,189.82 L492.00,189.27 L492.50,190.38 L493.00,190.31 L493.50,190.22 L494.00,189.67 L494.50,190.29 L495.00,190.03 L495.50,189.70 L496.00,189.08 L496.50,189.72 L497.00,189.50 L497.50,190.18 L498.00,189.55 L498.50,189.39 L499.00,189.91 L499.50,189.09 L500.00,189.95 L500.50,190.20 L501.00,189.18 L501.50,189.37 L502.00,189.44 L502.50,189.79 L503.00,189.75 L503.50,189.79 L504.00,190.05 L504.50,189.54 L505.00,189.48 L505.50,189.36 L506.00,189.99 L506.50,189.28 L507.00,189.95 L507.50,189.67 L508.00,189.98 L508.50,190.00 L509.00,189.63 L509.50,189.76 L510.00,189.89 L510.50,189.96 L511.00,189.75 L511.50,190.02 L512.00,190.13 L512.50,190.16 L513.00,190.46 L513.50,190.58 L514.00,190.64 L514.50,190.09 L515.00,190.42 L515.50,190.19 L516.00,191.00 L516.50,191.08 L517.00,191.09 L517.50,191.25 L518.00,191.40 L518.50,190.93 L519.00,190.96 L519.50,191.01 L520.00,190.94 L520.50,190.94 L521.00,191.63 L521.50,191.28 L522.00,191.47 L522.50,191.24 L523.00,191.47 L523.50,191.45 L524.00,191.11 L524.50,191.12 L525.00,191.12 L525.50,191.21 L526.00,191.13 L526.50,191.24 L527.00,190.93 L527.50,190.95 L528.00,190.64 L528.50,190.87 L529.00,190.47 L529.50,190.67 L530.00,190.48 L530.50,190.83 L531.00,190.66 L531.50,190.74 L532.00,190.67 L532.50,190.81 L533.00,189.95 L533.50,190.67 L534.00,189.95 L534.50,189.75 L535.00,189.84 L535.50,190.55 L536.00,190.50 L536.50,190.51 L537.00,190.12 L537.50,190.09 L538.00,190.39 L538.50,189.51 L539.00,189.83 L539.50,190.20 L540.00,189.84 L540.50,190.12 L541.00,189.98 L541.50,189.48 L542.00,189.43 L542.00,193.13 L541.50,193.35 L541.00,193.09 L540.50,193.28 L540.00,193.65 L539.50,193.26 L539.00,193.23 L538.50,193.65 L538.00,193.12 L537.50,193.79 L537.00,193.12 L536.50,193.79 L536.00,193.55 L535.50,193.73 L535.00,193.66 L534.50,193.37 L534.00,193.42 L533.50,193.39 L533.00,193.45 L532.50,193.55 L532.00,193.75 L531.50,193.95 L531.00,193.68 L530.50,194.14 L530.00,193.90 L529.50,194.21 L529.00,194.02 L528.50,193.89 L528.00,193.99 L527.50,194.56 L527.00,194.30 L526.50,195.04 L526.00,194.57 L525.50,194.23 L525.00,194.71 L524.50,194.38 L524.00,194.44 L523.50,194.47 L523.00,194.57 L522.50,194.66 L522.00,195.20 L521.50,195.31 L521.00,194.79 L520.50,194.98 L520.00,195.09 L519.50,194.43 L519.00,194.42 L518.50,195.12 L518.00,194.55 L517.50,194.75 L517.00,194.47 L516.50,193.99 L516.00,194.71 L515.50,195.13 L515.00,194.43 L514.50,194.12 L514.00,193.84 L513.50,193.59 L513.00,193.47 L512.50,193.60 L512.00,193.16 L511.50,193.78 L511.00,194.37 L510.50,193.29 L510.00,192.94 L509.50,192.89 L509.00,193.18 L508.50,192.97 L508.00,192.95 L507.50,193.57 L507.00,193.92 L506.50,193.01 L506.00,192.98 L505.50,193.08 L505.00,193.89 L504.50,193.95 L504.00,193.41 L503.50,192.99 L503.00,193.63 L502.50,193.14 L502.00,193.26 L501.50,193.14 L501.00,193.29 L500.50,193.27 L500.00,193.19 L499.50,193.52 L499.00,193.90 L498.50,193.35 L498.00,193.55 L497.50,193.70 L497.00,193.23 L496.50,193.21 L496.00,193.25 L495.50,194.02 L495.00,193.85 L494.50,193.54 L494.00,193.41 L493.50,193.35 L493.00,193.87 L492.50,193.37 L492.00,193.33 L491.50,193.59 L491.00,193.31 L490.50,193.97 L490.00,193.51 L489.50,193.34 L489.00,193.81 L488.50,193.81 L488.00,193.37 L487.50,194.08 L487.00,193.81 L486.50,193.60 L486.00,193.54 L485.50,193.33 L485.00,193.20 L484.50,193.36 L484.00,193.61 L483.50,193.77 L483.00,194.06 L482.50,193.99 L482.00,193.28 L481.50,193.61 L481.00,193.31 L480.50,193.19 L480.00,193.15 L479.50,193.10 L479.00,193.07 L478.50,193.40 L478.00,193.59 L477.50,193.30 L477.00,193.20 L476.50,193.11 L476.00,193.13 L475.50,193.44 L475.00,193.91 L474.50,193.94 L474.00,193.63 L473.50,193.63 L473.00,193.10 L472.50,193.07 L472.00,193.07 L471.50,193.10 L471.00,193.05 L470.50,192.98 L470.00,193.06 L469.50,193.79 L469.00,194.44 L468.50,194.32 L468.00,194.41 L467.50,194.65 L467.00,195.21 L466.50,196.10 L466.00,195.16 L465.50,195.69 L465.00,195.90 L464.50,195.78 L464.00,195.44 L463.50,195.56 L463.00,195.94 L462.50,195.61 L462.00,196.39 L461.50,196.43 L461.00,196.04 L460.50,196.26 L460.00,196.02 L459.50,195.68 L459.00,195.88 L458.50,195.69 L458.00,195.87 L457.50,196.18 L457.00,197.19 L456.50,196.24 L456.00,196.41 L455.50,196.30 L455.00,196.06 L454.50,196.52 L454.00,196.34 L453.50,196.18 L453.00,196.07 L452.50,196.56 L452.00,196.33 L451.50,197.16 L451.00,196.73 L450.50,196.99 L450.00,197.31 L449.50,196.72 L449.00,196.93 L448.50,197.03 L448.00,196.96 L447.50,196.99 L447.00,197.97 L446.50,197.60 L446.00,197.67 L445.50,197.37 L445.00,198.27 L444.50,198.23 L444.00,197.90 L443.50,197.70 L443.00,197.80 L442.50,198.08 L442.00,198.10 L441.50,198.77 L441.00,198.42 L440.50,198.53 L440.00,198.66 L439.50,198.93 L439.00,199.46 L438.50,199.39 L438.00,199.11 L437.50,199.22 L437.00,199.29 L436.50,199.78 L436.00,200.10 L435.50,199.90 L435.00,200.38 L434.50,200.25 L434.00,200.79 L433.50,200.70 L433.00,200.96 L432.50,201.30 L432.00,201.07 L431.50,201.97 L431.00,201.81 L430.50,202.39 L430.00,202.64 L429.50,203.87 L429.00,203.70 L428.50,204.39 L428.00,204.41 L427.50,204.55 L427.00,204.93 L426.50,205.26 L426.00,206.01 L425.50,206.07 L425.00,207.09 L424.50,207.60 L424.00,207.25 L423.50,207.85 L423.00,208.13 L422.50,208.34 L422.00,208.69 L421.50,209.07 L421.00,209.92 L420.50,210.30 L420.00,211.14 L419.50,211.35 L419.00,211.29 L418.50,213.06 L418.00,214.34 L417.50,215.86 L417.00,217.06 L416.50,220.59 L416.00,224.03 L415.50,227.48 L415.00,231.11 L414.50,235.15 L414.00,242.19 L413.50,249.01 L413.00,255.73 L412.50,261.72 L412.00,267.92 L411.50,274.56 L411.00,280.22 L410.50,285.99 L410.00,292.29 L409.50,297.89 L409.00,301.28 L408.50,302.02 Z" fill="#cde9f6" fill-opacity="1.00" clip-path="url(#clipf)"/>
<path d="M409.20,299.22 L409.70,298.69 L410.20,294.47 L410.70,288.58 L411.20,283.89 L411.70,277.86 L412.20,272.58 L412.70,267.90 L413.20,263.34 L413.70,259.13 L414.20,253.91 L414.70,250.35 L415.20,247.92 L415.70,245.74 L416.20,243.39 L416.70,240.30 L417.20,238.56 L417.70,237.67 L418.20,236.35 L418.70,235.29 L419.20,233.66 L419.70,231.53 L420.20,229.39 L420.70,230.48 L421.20,234.42 L421.70,235.95 L422.20,233.01 L422.70,231.14 L423.20,227.75 L423.70,225.96 L424.20,223.52 L424.70,222.26 L425.20,221.32 L425.70,219.57 L426.20,218.22 L426.70,217.53 L427.20,217.04 L427.70,215.79 L428.20,214.85 L428.70,214.23 L429.20,213.29 L429.70,212.58 L430.20,211.68 L430.70,210.65 L431.20,211.07 L431.70,211.52 L432.20,210.30 L432.70,209.90 L433.20,210.29 L433.70,210.18 L434.20,209.95 L434.70,209.49 L435.20,208.81 L435.70,208.37 L436.20,208.76 L436.70,207.98 L437.20,207.47 L437.70,207.03 L438.20,205.99 L438.70,205.82 L439.20,205.09 L439.70,204.70 L440.20,204.14 L440.70,203.43 L441.20,203.29 L441.70,202.01 L442.20,202.11 L442.70,201.38 L443.20,200.81 L443.70,200.98 L444.20,199.94 L444.70,199.95 L445.20,200.02 L445.70,199.62 L446.20,198.64 L446.70,198.33 L447.20,198.44 L447.70,197.84 L448.20,198.35 L448.70,198.07 L449.20,197.19 L449.70,196.63 L450.20,196.77 L450.70,196.72 L451.20,196.57 L451.70,196.12 L452.20,195.35 L452.70,195.33 L453.20,194.10 L453.70,194.73 L454.20,194.68 L454.70,194.25 L455.20,194.00 L455.70,194.59 L456.20,194.10 L456.70,194.05 L457.20,194.17 L457.70,193.78 L458.20,193.82 L458.70,193.66 L459.20,194.38 L459.70,193.88 L460.20,193.82 L460.70,194.28 L461.20,193.88 L461.70,192.98 L462.20,192.81 L462.70,193.63 L463.20,193.84 L463.70,193.39 L464.20,193.96 L464.70,193.29 L465.20,194.05 L465.70,193.88 L466.20,193.33 L466.70,193.25 L467.20,193.47 L467.70,192.92 L468.20,192.90 L468.70,192.28 L469.20,192.63 L469.70,192.51 L470.20,191.91 L470.70,191.79 L471.20,192.10 L471.70,192.08 L472.20,192.12 L472.70,191.81 L473.20,192.11 L473.70,192.12 L474.20,190.96 L474.70,191.00 L475.20,191.32 L475.70,190.36 L476.20,191.20 L476.70,191.77 L477.20,191.68 L477.70,191.21 L478.20,190.56 L478.70,191.52 L479.20,190.84 L479.70,190.56 L480.20,190.73 L480.70,190.43 L481.20,191.27 L481.70,191.25 L482.20,191.23 L482.70,190.89 L483.20,191.21 L483.70,190.86 L484.20,190.88 L484.70,191.13 L485.20,189.95 L485.70,189.50 L486.20,189.93 L486.70,190.35 L487.20,191.14 L487.70,191.14 L488.20,190.99 L488.70,190.45 L489.20,190.75 L489.70,190.60 L490.20,190.81 L490.70,190.75 L491.20,190.16 L491.70,189.47 L492.20,189.74 L492.70,190.43 L493.20,190.76 L493.70,190.60 L494.20,189.35 L494.70,190.01 L495.20,189.96 L495.70,190.37 L496.20,188.96 L496.70,188.83 L497.20,189.69 L497.70,189.96 L498.20,189.98 L498.70,190.11 L499.20,189.56 L499.70,189.79 L500.20,189.35 L500.70,189.10 L501.20,189.73 L501.70,190.10 L502.20,189.50 L502.70,189.13 L503.20,189.91 L503.70,189.42 L504.20,188.80 L504.70,188.96 L505.20,189.25 L505.70,189.67 L506.20,189.96 L506.70,189.86 L507.20,189.01 L507.70,189.19 L508.20,189.63 L508.70,188.38 L509.20,189.00 L509.70,188.93 L510.20,189.45 L510.70,189.41 L511.20,189.67 L511.70,189.42 L512.20,189.39 L512.70,188.96 L513.20,188.61 L513.70,189.33 L514.20,188.87 L514.70,188.74 L515.20,188.48 L515.70,188.43 L516.20,189.30 L516.70,189.33 L517.20,189.35 L517.70,189.25 L518.20,189.11 L518.70,188.87 L519.20,189.18 L519.70,189.28 L520.20,188.63 L520.70,189.30 L521.20,189.08 L521.70,189.21 L522.20,189.15 L522.70,188.73 L523.20,189.04 L523.70,189.27 L524.20,188.58 L524.70,188.39 L525.20,188.69 L525.70,188.62 L526.20,188.84 L526.70,188.91 L527.20,188.36 L527.70,188.92 L528.20,188.51 L528.70,188.98 L529.20,189.05 L529.70,189.03 L530.20,189.01 L530.70,188.36 L531.20,189.01 L531.70,188.67 L532.20,188.23 L532.70,188.33 L533.20,188.68 L533.70,188.07 L534.20,188.58 L534.70,188.46 L535.20,188.34 L535.70,188.14 L536.20,188.56 L536.70,188.15 L537.20,188.46 L537.70,188.67 L538.20,188.45 L538.70,188.57 L539.20,188.71 L539.70,187.64 L540.20,187.68 L540.70,188.61 L541.20,188.50 L541.70,187.98 L541.70,192.14 L541.20,192.42 L540.70,192.47 L540.20,192.31 L539.70,192.02 L539.20,191.83 L538.70,192.52 L538.20,192.50 L537.70,192.20 L537.20,192.41 L536.70,192.35 L536.20,192.42 L535.70,192.21 L535.20,192.07 L534.70,192.78 L534.20,192.23 L533.70,192.38 L533.20,192.36 L532.70,192.30 L532.20,192.54 L531.70,193.36 L531.20,193.45 L530.70,192.69 L530.20,193.33 L529.70,193.09 L529.20,193.43 L528.70,192.81 L528.20,193.26 L527.70,193.27 L527.20,192.75 L526.70,192.47 L526.20,192.62 L525.70,193.34 L525.20,193.35 L524.70,192.88 L524.20,192.63 L523.70,193.33 L523.20,193.55 L522.70,192.74 L522.20,192.81 L521.70,193.27 L521.20,192.84 L520.70,194.22 L520.20,193.26 L519.70,192.76 L519.20,192.73 L518.70,192.78 L518.20,193.04 L517.70,193.00 L517.20,193.16 L516.70,192.88 L516.20,192.92 L515.70,193.50 L515.20,193.40 L514.70,193.89 L514.20,193.85 L513.70,193.71 L513.20,193.58 L512.70,193.04 L512.20,193.77 L511.70,193.34 L511.20,193.21 L510.70,193.62 L510.20,193.87 L509.70,193.33 L509.20,193.79 L508.70,193.18 L508.20,193.24 L507.70,194.47 L507.20,193.48 L506.70,193.74 L506.20,193.61 L505.70,193.78 L505.20,194.79 L504.70,194.67 L504.20,194.64 L503.70,194.74 L503.20,194.49 L502.70,194.11 L502.20,194.20 L501.70,194.28 L501.20,193.81 L500.70,193.92 L500.20,194.69 L499.70,194.84 L499.20,194.48 L498.70,194.37 L498.20,194.15 L497.70,194.07 L497.20,194.15 L496.70,194.22 L496.20,194.76 L495.70,194.84 L495.20,194.46 L494.70,194.46 L494.20,194.97 L493.70,195.03 L493.20,194.54 L492.70,194.54 L492.20,194.58 L491.70,194.83 L491.20,194.61 L490.70,194.64 L490.20,194.91 L489.70,194.95 L489.20,195.00 L488.70,195.29 L488.20,195.28 L487.70,195.20 L487.20,195.15 L486.70,195.35 L486.20,195.27 L485.70,195.33 L485.20,195.49 L484.70,195.21 L484.20,195.30 L483.70,195.71 L483.20,195.75 L482.70,195.24 L482.20,195.56 L481.70,196.51 L481.20,195.47 L480.70,195.48 L480.20,195.85 L479.70,195.90 L479.20,196.05 L478.70,195.56 L478.20,195.90 L477.70,195.88 L477.20,195.95 L476.70,196.05 L476.20,197.41 L475.70,197.16 L475.20,196.45 L474.70,196.34 L474.20,196.09 L473.70,196.62 L473.20,196.08 L472.70,196.87 L472.20,196.81 L471.70,197.22 L471.20,196.23 L470.70,196.35 L470.20,196.41 L469.70,196.50 L469.20,197.84 L468.70,197.10 L468.20,197.14 L467.70,197.69 L467.20,197.34 L466.70,197.57 L466.20,198.30 L465.70,198.99 L465.20,198.30 L464.70,198.33 L464.20,198.59 L463.70,198.42 L463.20,198.33 L462.70,198.92 L462.20,198.93 L461.70,199.79 L461.20,199.06 L460.70,198.39 L460.20,198.83 L459.70,198.42 L459.20,198.52 L458.70,198.88 L458.20,198.68 L457.70,198.54 L457.20,199.97 L456.70,198.98 L456.20,198.62 L455.70,198.71 L455.20,198.65 L454.70,198.84 L454.20,199.26 L453.70,199.46 L453.20,199.43 L452.70,200.44 L452.20,200.54 L451.70,200.51 L451.20,200.95 L450.70,201.12 L450.20,201.81 L449.70,201.64 L449.20,202.05 L448.70,202.57 L448.20,203.11 L447.70,203.21 L447.20,203.95 L446.70,203.58 L446.20,204.47 L445.70,204.28 L445.20,205.10 L444.70,205.18 L444.20,205.52 L443.70,205.55 L443.20,206.80 L442.70,206.11 L442.20,206.84 L441.70,207.55 L441.20,208.09 L440.70,209.58 L440.20,209.30 L439.70,210.05 L439.20,210.55 L438.70,211.35 L438.20,212.17 L437.70,212.30 L437.20,213.13 L436.70,213.65 L436.20,213.88 L435.70,214.18 L435.20,214.45 L434.70,214.90 L434.20,215.29 L433.70,215.79 L433.20,216.37 L432.70,216.28 L432.20,217.45 L431.70,217.00 L431.20,218.09 L430.70,217.63 L430.20,218.61 L429.70,219.30 L429.20,219.89 L428.70,220.70 L428.20,221.81 L427.70,222.01 L427.20,223.32 L426.70,223.59 L426.20,224.78 L425.70,225.82 L425.20,227.85 L424.70,228.79 L424.20,230.01 L423.70,232.17 L423.20,234.55 L422.70,237.45 L422.20,240.88 L421.70,242.83 L421.20,241.84 L420.70,237.96 L420.20,236.67 L419.70,238.99 L419.20,240.48 L418.70,241.33 L418.20,242.16 L417.70,243.49 L417.20,244.33 L416.70,245.90 L416.20,248.25 L415.70,250.74 L415.20,252.45 L414.70,254.82 L414.20,259.06 L413.70,263.34 L413.20,268.37 L412.70,272.37 L412.20,276.07 L411.70,282.20 L411.20,287.22 L410.70,292.82 L410.20,298.43 L409.70,302.67 L409.20,303.23 Z" fill="#fde2d0" fill-opacity="0.85" clip-path="url(#clipf)"/>
<path d="M408.50,301.67 L409.00,300.82 L409.50,295.53 L410.00,290.99 L410.50,284.35 L411.00,278.28 L411.50,272.92 L412.00,266.43 L412.50,260.67 L413.00,253.65 L413.50,246.29 L414.00,238.52 L414.50,232.96 L415.00,228.21 L415.50,225.22 L416.00,221.70 L416.50,217.21 L417.00,215.25 L417.50,213.78 L418.00,211.65 L418.50,210.65 L419.00,209.85 L419.50,208.28 L420.00,208.11 L420.50,208.51 L421.00,207.33 L421.50,206.62 L422.00,206.43 L422.50,205.95 L423.00,206.36 L423.50,206.07 L424.00,205.83 L424.50,204.44 L425.00,205.03 L425.50,204.38 L426.00,203.79 L426.50,204.14 L427.00,204.17 L427.50,203.54 L428.00,202.63 L428.50,201.34 L429.00,200.99 L429.50,201.12 L430.00,201.71 L430.50,200.74 L431.00,200.08 L431.50,199.52 L432.00,198.65 L432.50,197.98 L433.00,198.45 L433.50,197.88 L434.00,197.30 L434.50,198.00 L435.00,198.37 L435.50,198.16 L436.00,198.24 L436.50,198.09 L437.00,196.50 L437.50,196.31 L438.00,197.41 L438.50,197.37 L439.00,195.80 L439.50,196.36 L440.00,195.68 L440.50,196.30 L441.00,195.84 L441.50,195.72 L442.00,195.75 L442.50,195.50 L443.00,196.16 L443.50,196.02 L444.00,195.95 L444.50,195.23 L445.00,195.81 L445.50,196.51 L446.00,195.46 L446.50,195.84 L447.00,196.08 L447.50,195.66 L448.00,195.19 L448.50,195.32 L449.00,195.06 L449.50,194.70 L450.00,194.18 L450.50,195.16 L451.00,194.80 L451.50,194.63 L452.00,195.00 L452.50,194.66 L453.00,195.08 L453.50,194.26 L454.00,194.09 L454.50,194.76 L455.00,195.58 L455.50,196.16 L456.00,195.65 L456.50,194.76 L457.00,195.45 L457.50,194.56 L458.00,192.86 L458.50,193.64 L459.00,193.85 L459.50,194.10 L460.00,192.52 L460.50,193.61 L461.00,193.16 L461.50,193.78 L462.00,193.93 L462.50,193.96 L463.00,194.88 L463.50,194.72 L464.00,194.84 L464.50,194.25 L465.00,193.22 L465.50,193.42 L466.00,192.37 L466.50,192.81 L467.00,192.77 L467.50,192.25 L468.00,191.62 L468.50,192.07 L469.00,191.47 L469.50,191.60 L470.00,191.52 L470.50,191.12 L471.00,191.42 L471.50,191.54 L472.00,190.71 L472.50,190.78 L473.00,191.58 L473.50,191.80 L474.00,191.79 L474.50,191.91 L475.00,191.45 L475.50,190.75 L476.00,191.06 L476.50,191.37 L477.00,191.14 L477.50,191.16 L478.00,191.63 L478.50,192.05 L479.00,192.18 L479.50,191.35 L480.00,191.43 L480.50,190.99 L481.00,191.89 L481.50,192.92 L482.00,192.41 L482.50,192.59 L483.00,192.15 L483.50,191.89 L484.00,191.74 L484.50,191.83 L485.00,191.90 L485.50,192.35 L486.00,192.62 L486.50,192.08 L487.00,190.39 L487.50,190.06 L488.00,190.90 L488.50,190.85 L489.00,191.84 L489.50,192.00 L490.00,191.91 L490.50,192.32 L491.00,191.78 L491.50,190.53 L492.00,191.83 L492.50,190.60 L493.00,191.84 L493.50,191.66 L494.00,191.44 L494.50,191.79 L495.00,191.75 L495.50,191.56 L496.00,191.18 L496.50,191.94 L497.00,191.71 L497.50,191.89 L498.00,192.19 L498.50,191.74 L499.00,191.11 L499.50,190.42 L500.00,190.33 L500.50,190.86 L501.00,190.23 L501.50,191.02 L502.00,191.61 L502.50,191.22 L503.00,191.40 L503.50,191.54 L504.00,190.79 L504.50,190.90 L505.00,191.03 L505.50,190.42 L506.00,191.73 L506.50,191.24 L507.00,190.97 L507.50,190.58 L508.00,190.87 L508.50,191.70 L509.00,190.84 L509.50,191.38 L510.00,191.54 L510.50,191.75 L511.00,192.76 L511.50,192.10 L512.00,191.95 L512.50,191.51 L513.00,191.28 L513.50,191.77 L514.00,192.22 L514.50,192.02 L515.00,191.49 L515.50,192.40 L516.00,192.27 L516.50,191.71 L517.00,193.12 L517.50,192.82 L518.00,192.40 L518.50,192.70 L519.00,193.82 L519.50,193.37 L520.00,193.24 L520.50,191.80 L521.00,192.84 L521.50,192.31 L522.00,192.68 L522.50,192.63 L523.00,192.93 L523.50,193.08 L524.00,192.65 L524.50,192.11 L525.00,192.77 L525.50,192.67 L526.00,192.82 L526.50,193.84 L527.00,193.42 L527.50,193.55 L528.00,192.62 L528.50,193.69 L529.00,192.77 L529.50,192.36 L530.00,191.96 L530.50,192.17 L531.00,192.35 L531.50,192.24 L532.00,192.07 L532.50,192.87 L533.00,191.98 L533.50,192.41 L534.00,191.64 L534.50,192.22 L535.00,191.52 L535.50,191.25 L536.00,192.74 L536.50,193.20 L537.00,192.54 L537.50,190.89 L538.00,190.98 L538.50,191.55 L539.00,191.40 L539.50,190.99 L540.00,191.76 L540.50,191.39 L541.00,191.27 L541.50,191.50 L542.00,191.27" stroke="#0b84c3" stroke-width="1.90" fill="none" stroke-linejoin="round" clip-path="url(#clipf)"/>
<path d="M409.20,300.20 L409.70,299.77 L410.20,295.87 L410.70,291.96 L411.20,285.63 L411.70,278.89 L412.20,272.76 L412.70,269.52 L413.20,265.21 L413.70,260.14 L414.20,256.78 L414.70,253.11 L415.20,251.27 L415.70,248.26 L416.20,245.22 L416.70,243.80 L417.20,242.24 L417.70,241.14 L418.20,239.67 L418.70,237.56 L419.20,235.43 L419.70,235.40 L420.20,232.38 L420.70,233.78 L421.20,238.05 L421.70,240.29 L422.20,236.74 L422.70,234.21 L423.20,232.33 L423.70,228.86 L424.20,225.62 L424.70,224.75 L425.20,222.62 L425.70,223.29 L426.20,221.57 L426.70,220.15 L427.20,218.15 L427.70,218.78 L428.20,218.02 L428.70,217.22 L429.20,216.83 L429.70,215.30 L430.20,214.88 L430.70,215.42 L431.20,215.03 L431.70,215.28 L432.20,213.85 L432.70,213.12 L433.20,212.54 L433.70,212.71 L434.20,212.11 L434.70,211.02 L435.20,212.23 L435.70,211.98 L436.20,212.05 L436.70,209.53 L437.20,210.12 L437.70,208.26 L438.20,207.86 L438.70,207.20 L439.20,207.42 L439.70,206.73 L440.20,206.36 L440.70,205.23 L441.20,204.79 L441.70,204.59 L442.20,205.25 L442.70,203.76 L443.20,203.59 L443.70,202.81 L444.20,202.93 L444.70,202.95 L445.20,202.06 L445.70,202.29 L446.20,201.81 L446.70,200.86 L447.20,201.10 L447.70,200.82 L448.20,199.56 L448.70,200.58 L449.20,199.15 L449.70,199.26 L450.20,199.60 L450.70,198.36 L451.20,198.44 L451.70,198.35 L452.20,198.56 L452.70,197.75 L453.20,197.02 L453.70,196.78 L454.20,196.09 L454.70,196.40 L455.20,196.98 L455.70,197.51 L456.20,196.58 L456.70,195.81 L457.20,196.98 L457.70,195.31 L458.20,196.11 L458.70,196.10 L459.20,195.39 L459.70,195.82 L460.20,196.68 L460.70,195.97 L461.20,195.67 L461.70,196.15 L462.20,196.34 L462.70,197.34 L463.20,197.58 L463.70,196.79 L464.20,196.55 L464.70,196.21 L465.20,196.28 L465.70,196.51 L466.20,196.42 L466.70,194.83 L467.20,195.79 L467.70,194.95 L468.20,194.22 L468.70,194.40 L469.20,193.55 L469.70,193.65 L470.20,193.64 L470.70,195.23 L471.20,195.24 L471.70,196.10 L472.20,194.74 L472.70,194.37 L473.20,194.88 L473.70,194.87 L474.20,194.54 L474.70,194.03 L475.20,194.47 L475.70,194.18 L476.20,194.05 L476.70,193.50 L477.20,193.26 L477.70,193.80 L478.20,194.00 L478.70,193.78 L479.20,193.17 L479.70,194.07 L480.20,193.49 L480.70,192.64 L481.20,193.77 L481.70,193.10 L482.20,192.65 L482.70,192.34 L483.20,192.17 L483.70,194.53 L484.20,194.61 L484.70,194.68 L485.20,193.33 L485.70,193.27 L486.20,192.68 L486.70,193.49 L487.20,193.31 L487.70,193.30 L488.20,192.94 L488.70,194.41 L489.20,193.50 L489.70,192.53 L490.20,192.55 L490.70,192.26 L491.20,192.97 L491.70,193.25 L492.20,191.95 L492.70,193.64 L493.20,193.83 L493.70,193.62 L494.20,194.10 L494.70,193.93 L495.20,193.01 L495.70,191.14 L496.20,191.69 L496.70,191.81 L497.20,193.41 L497.70,192.21 L498.20,191.90 L498.70,191.15 L499.20,191.49 L499.70,191.28 L500.20,191.67 L500.70,192.33 L501.20,191.68 L501.70,191.63 L502.20,191.47 L502.70,191.37 L503.20,192.70 L503.70,192.67 L504.20,191.59 L504.70,191.17 L505.20,191.18 L505.70,190.09 L506.20,190.52 L506.70,191.02 L507.20,191.61 L507.70,191.54 L508.20,190.70 L508.70,191.23 L509.20,191.46 L509.70,191.91 L510.20,192.89 L510.70,191.80 L511.20,191.95 L511.70,192.51 L512.20,192.54 L512.70,191.49 L513.20,191.58 L513.70,191.10 L514.20,191.08 L514.70,191.41 L515.20,190.39 L515.70,190.89 L516.20,190.84 L516.70,191.48 L517.20,190.83 L517.70,189.90 L518.20,190.99 L518.70,190.45 L519.20,191.43 L519.70,191.43 L520.20,191.94 L520.70,192.12 L521.20,192.38 L521.70,192.27 L522.20,191.96 L522.70,191.62 L523.20,190.55 L523.70,190.29 L524.20,190.56 L524.70,190.81 L525.20,190.16 L525.70,191.13 L526.20,189.62 L526.70,190.90 L527.20,190.36 L527.70,190.12 L528.20,190.76 L528.70,190.77 L529.20,190.52 L529.70,191.83 L530.20,191.68 L530.70,190.72 L531.20,190.64 L531.70,191.01 L532.20,189.97 L532.70,190.09 L533.20,190.18 L533.70,191.35 L534.20,190.46 L534.70,190.65 L535.20,191.13 L535.70,191.38 L536.20,190.65 L536.70,189.07 L537.20,189.53 L537.70,190.39 L538.20,190.68 L538.70,190.09 L539.20,189.54 L539.70,190.60 L540.20,190.76 L540.70,190.85 L541.20,191.71 L541.70,191.61" stroke="#ff6813" stroke-width="1.90" fill="none" stroke-linejoin="round" clip-path="url(#clipf)"/>
<circle cx="463.30" cy="190.20" r="3.70" fill="#1aaeea"/>
<circle cx="472.60" cy="186.70" r="3.70" fill="#1aaeea"/>
<path d="M501.30,185.17 L505.25,191.89 L497.35,191.89 Z" fill="url(#tg)" stroke="#ff7a10" stroke-width="0.8" stroke-linejoin="round"/>
<path d="M514.20,183.97 L518.15,190.69 L510.25,190.69 Z" fill="url(#tg)" stroke="#ff7a10" stroke-width="0.8" stroke-linejoin="round"/>
<circle cx="529.60" cy="188.00" r="3.70" fill="#1aaeea"/>
<path d="M533.10,179.57 L537.05,186.29 L529.15,186.29 Z" fill="url(#tg)" stroke="#ff7a10" stroke-width="0.8" stroke-linejoin="round"/>
<path d="M399.50,170.60 L399.50,299.70 L543.80,299.70" stroke="#8a8a8a" stroke-width="1.7" fill="none"/>
<path d="M399.50,299.70 h1.5 M399.50,267.43 h1.5 M399.50,235.15 h1.5 M399.50,202.88 h1.5 M399.50,170.60 h1.5 M399.50,299.70 v-1.5 M442.83,299.70 v-1.5 M486.17,299.70 v-1.5 M529.50,299.70 v-1.5" stroke="#555" stroke-width="1" fill="none"/>
<g font-family='"Liberation Sans", sans-serif' font-weight="bold" font-size="9.6" fill="#262626"><text x="394.90" y="302.70" text-anchor="end">60</text><text x="394.90" y="270.43" text-anchor="end">70</text><text x="394.90" y="238.15" text-anchor="end">80</text><text x="394.90" y="205.88" text-anchor="end">90</text><text x="394.90" y="173.60" text-anchor="end">100</text></g>
<g stroke="#e6e6e6" stroke-width="1" fill="none"><line x1="42.30" y1="401.77" x2="180.70" y2="401.77"/><line x1="42.30" y1="362.83" x2="180.70" y2="362.83"/><line x1="42.30" y1="323.90" x2="180.70" y2="323.90"/><line x1="83.86" y1="323.90" x2="83.86" y2="440.70"/><line x1="125.42" y1="323.90" x2="125.42" y2="440.70"/><line x1="166.98" y1="323.90" x2="166.98" y2="440.70"/></g>
<path d="M42.30,440.70 L42.70,437.20 L43.10,433.63 L43.50,430.01 L43.90,426.78 L44.30,422.89 L44.70,419.28 L45.10,416.12 L45.50,412.66 L45.90,409.33 L46.30,405.81 L46.70,402.70 L47.10,398.29 L47.50,394.85 L47.90,390.47 L48.30,387.60 L48.70,384.28 L49.10,381.42 L49.50,380.30 L49.90,372.80 L50.30,371.70 L50.70,365.09 L51.10,370.30 L51.50,358.95 L51.90,359.71 L52.30,357.81 L52.70,356.76 L53.10,355.38 L53.50,343.09 L53.90,339.40 L54.30,347.82 L54.70,339.81 L55.10,348.76 L55.50,336.79 L55.90,328.55 L56.30,331.57 L56.70,332.29 L57.10,328.94 L57.50,339.00 L57.90,341.36 L58.30,336.27 L58.70,319.18 L59.10,338.60 L59.50,318.23 L59.90,327.84 L60.30,326.84 L60.70,331.68 L61.10,336.23 L61.50,324.57 L61.90,323.87 L62.30,332.84 L62.70,331.86 L63.10,327.94 L63.50,329.37 L63.90,328.26 L64.30,337.80 L64.70,332.54 L65.10,334.38 L65.50,335.48 L65.90,338.54 L66.30,334.11 L66.70,321.14 L67.10,330.56 L67.50,325.64 L67.90,329.16 L68.30,326.28 L68.70,339.53 L69.10,340.25 L69.50,341.87 L69.90,339.46 L70.30,343.28 L70.70,340.05 L71.10,339.94 L71.50,340.60 L71.90,343.32 L72.30,338.42 L72.70,340.36 L73.10,338.05 L73.50,340.73 L73.90,346.77 L74.30,340.75 L74.70,343.09 L75.10,351.99 L75.50,348.98 L75.90,350.06 L76.30,351.15 L76.70,340.73 L77.10,347.74 L77.50,353.71 L77.90,334.99 L78.30,345.19 L78.70,341.59 L79.10,339.65 L79.50,353.31 L79.90,344.92 L80.30,342.86 L80.70,347.24 L81.10,347.05 L81.50,353.33 L81.90,349.80 L82.30,356.23 L82.70,352.91 L83.10,357.22 L83.50,355.84 L83.90,357.23 L84.30,357.22 L84.70,352.04 L85.10,353.93 L85.50,351.19 L85.90,353.08 L86.30,360.94 L86.70,359.59 L87.10,355.56 L87.50,357.58 L87.90,358.53 L88.30,356.44 L88.70,359.57 L89.10,363.15 L89.50,352.23 L89.90,356.76 L90.30,358.24 L90.70,363.23 L91.10,360.67 L91.50,369.60 L91.90,361.77 L92.30,366.38 L92.70,375.80 L93.10,365.95 L93.50,358.60 L93.90,362.11 L94.30,369.63 L94.70,364.32 L95.10,371.63 L95.50,369.55 L95.90,368.07 L96.30,369.20 L96.70,366.22 L97.10,361.08 L97.50,365.99 L97.90,361.70 L98.30,340.46 L98.70,343.56 L99.10,365.33 L99.50,362.88 L99.90,365.92 L100.30,364.90 L100.70,359.17 L101.10,356.86 L101.50,348.68 L101.90,362.05 L102.30,356.03 L102.70,362.08 L103.10,365.56 L103.50,373.10 L103.90,366.76 L104.30,367.61 L104.70,370.92 L105.10,378.01 L105.50,372.65 L105.90,370.60 L106.30,368.41 L106.70,376.93 L107.10,373.59 L107.50,368.81 L107.90,364.25 L108.30,379.09 L108.70,369.15 L109.10,373.45 L109.50,378.87 L109.90,370.46 L110.30,383.22 L110.70,373.58 L111.10,380.72 L111.50,378.86 L111.90,379.77 L112.30,380.41 L112.70,377.89 L113.10,375.55 L113.50,377.75 L113.90,380.69 L114.30,380.48 L114.70,378.73 L115.10,379.89 L115.50,381.37 L115.90,377.47 L116.30,369.23 L116.70,377.66 L117.10,385.28 L117.50,382.02 L117.90,383.76 L118.30,380.43 L118.70,385.79 L119.10,381.76 L119.50,379.60 L119.90,382.51 L120.30,386.17 L120.70,383.91 L121.10,383.73 L121.50,382.64 L121.90,373.07 L122.30,369.71 L122.70,384.47 L123.10,385.64 L123.50,380.16 L123.90,386.90 L124.30,385.58 L124.70,383.54 L125.10,385.38 L125.50,382.21 L125.90,385.90 L126.30,389.88 L126.70,386.18 L127.10,387.46 L127.50,383.65 L127.90,386.91 L128.30,388.10 L128.70,389.71 L129.10,387.02 L129.50,385.80 L129.90,389.09 L130.30,383.21 L130.70,388.43 L131.10,387.86 L131.50,388.64 L131.90,391.43 L132.30,386.78 L132.70,387.35 L133.10,391.01 L133.50,386.98 L133.90,386.10 L134.30,388.00 L134.70,386.60 L135.10,387.35 L135.50,392.31 L135.90,389.78 L136.30,389.12 L136.70,385.69 L137.10,388.02 L137.50,389.86 L137.90,390.59 L138.30,386.85 L138.70,394.67 L139.10,389.99 L139.50,391.20 L139.90,385.29 L140.30,392.83 L140.70,389.72 L141.10,392.48 L141.50,390.82 L141.90,396.46 L142.30,389.23 L142.70,391.38 L143.10,390.30 L143.50,395.29 L143.90,394.86 L144.30,393.00 L144.70,390.00 L145.10,392.32 L145.50,394.63 L145.90,387.03 L146.30,384.94 L146.70,391.95 L147.10,389.67 L147.50,392.41 L147.90,392.35 L148.30,388.61 L148.70,389.04 L149.10,396.78 L149.50,392.18 L149.90,396.93 L150.30,394.88 L150.70,393.38 L151.10,392.74 L151.50,396.40 L151.90,393.56 L152.30,393.34 L152.70,394.60 L153.10,394.17 L153.50,396.90 L153.90,398.14 L154.30,398.57 L154.70,395.83 L155.10,396.24 L155.50,396.99 L155.90,399.99 L156.30,396.16 L156.70,399.09 L157.10,394.31 L157.50,394.25 L157.90,395.76 L158.30,400.53 L158.70,395.20 L159.10,396.10 L159.50,397.01 L159.90,396.19 L160.30,400.16 L160.70,382.68 L161.10,380.81 L161.50,380.97 L161.90,396.02 L162.30,395.02 L162.70,395.95 L163.10,396.70 L163.50,400.90 L163.90,398.94 L164.30,393.83 L164.70,401.78 L165.10,397.47 L165.50,399.17 L165.90,398.66 L166.30,399.33 L166.70,396.94 L167.10,398.84 L167.50,397.75 L167.90,399.00 L168.30,394.86 L168.70,395.10 L169.10,399.68 L169.50,399.25 L169.90,396.50 L170.30,395.15 L170.70,408.57 L171.10,400.42 L171.50,397.83 L171.90,398.31 L172.30,399.93 L172.70,397.47 L173.10,399.33 L173.50,398.85 L173.90,400.41 L174.30,399.39 L174.70,400.42 L175.10,403.68 L175.50,402.47 L175.90,399.86 L176.30,401.29 L176.70,403.78 L177.10,404.91 L177.50,400.90 L177.90,404.58 L178.30,405.84" stroke="#a6e9f0" stroke-width="0.9" fill="none" clip-path="url(#clipg)"/>
<path d="M42.30,440.70 L42.80,436.35 L43.30,432.00 L43.80,427.57 L44.30,423.11 L44.80,418.88 L45.30,414.39 L45.80,409.80 L46.30,405.26 L46.80,400.51 L47.30,396.46 L47.80,392.08 L48.30,388.45 L48.80,385.15 L49.30,379.14 L49.80,377.19 L50.30,371.94 L50.80,368.69 L51.30,364.80 L51.80,363.16 L52.30,358.67 L52.80,353.43 L53.30,347.21 L53.80,345.39 L54.30,344.45 L54.80,345.76 L55.30,339.16 L55.80,334.83 L56.30,333.27 L56.80,330.67 L57.30,332.86 L57.80,331.03 L58.30,333.06 L58.80,332.98 L59.30,331.91 L59.80,327.92 L60.30,326.73 L60.80,325.38 L61.30,324.17 L61.80,326.95 L62.30,331.29 L62.80,332.12 L63.30,333.39 L63.80,330.79 L64.30,330.73 L64.80,332.29 L65.30,337.69 L65.80,339.68 L66.30,333.37 L66.80,332.14 L67.30,330.55 L67.80,330.85 L68.30,334.99 L68.80,336.23 L69.30,338.15 L69.80,338.06 L70.30,339.01 L70.80,338.94 L71.30,338.81 L71.80,340.38 L72.30,343.15 L72.80,345.73 L73.30,343.07 L73.80,343.58 L74.30,343.49 L74.80,346.41 L75.30,346.67 L75.80,344.24 L76.30,344.84 L76.80,346.40 L77.30,349.51 L77.80,348.63 L78.30,346.02 L78.80,346.86 L79.30,345.74 L79.80,345.41 L80.30,344.32 L80.80,349.34 L81.30,352.11 L81.80,352.87 L82.30,357.95 L82.80,357.58 L83.30,356.96 L83.80,357.23 L84.30,356.34 L84.80,354.56 L85.30,358.22 L85.80,354.83 L86.30,355.36 L86.80,357.79 L87.30,358.75 L87.80,358.26 L88.30,359.07 L88.80,360.25 L89.30,358.75 L89.80,358.22 L90.30,360.37 L90.80,361.73 L91.30,361.76 L91.80,362.95 L92.30,363.39 L92.80,363.16 L93.30,365.14 L93.80,366.61 L94.30,365.55 L94.80,368.14 L95.30,369.54 L95.80,367.94 L96.30,367.86 L96.80,364.53 L97.30,365.52 L97.80,363.05 L98.30,359.74 L98.80,357.82 L99.30,359.49 L99.80,362.83 L100.30,362.99 L100.80,361.57 L101.30,360.38 L101.80,360.11 L102.30,361.45 L102.80,362.92 L103.30,366.37 L103.80,367.68 L104.30,372.51 L104.80,373.11 L105.30,371.15 L105.80,371.48 L106.30,372.64 L106.80,371.57 L107.30,373.05 L107.80,373.29 L108.30,373.88 L108.80,375.44 L109.30,374.37 L109.80,376.00 L110.30,375.60 L110.80,377.49 L111.30,380.91 L111.80,379.25 L112.30,379.53 L112.80,381.28 L113.30,377.87 L113.80,380.27 L114.30,378.55 L114.80,380.03 L115.30,381.30 L115.80,380.54 L116.30,374.32 L116.80,375.20 L117.30,384.53 L117.80,383.06 L118.30,382.08 L118.80,384.21 L119.30,383.30 L119.80,384.67 L120.30,384.83 L120.80,383.60 L121.30,384.06 L121.80,378.18 L122.30,377.14 L122.80,383.95 L123.30,385.98 L123.80,384.24 L124.30,384.14 L124.80,385.84 L125.30,385.21 L125.80,384.99 L126.30,386.45 L126.80,387.29 L127.30,385.58 L127.80,387.99 L128.30,387.05 L128.80,388.56 L129.30,388.53 L129.80,389.97 L130.30,388.17 L130.80,386.77 L131.30,387.50 L131.80,386.27 L132.30,387.09 L132.80,387.96 L133.30,389.88 L133.80,389.37 L134.30,389.47 L134.80,388.51 L135.30,389.39 L135.80,391.18 L136.30,388.87 L136.80,389.90 L137.30,391.08 L137.80,391.14 L138.30,390.82 L138.80,390.40 L139.30,389.82 L139.80,390.96 L140.30,391.91 L140.80,390.21 L141.30,389.45 L141.80,392.83 L142.30,391.90 L142.80,391.46 L143.30,389.90 L143.80,391.48 L144.30,391.08 L144.80,393.74 L145.30,394.52 L145.80,393.60 L146.30,391.60 L146.80,392.17 L147.30,392.84 L147.80,394.72 L148.30,394.38 L148.80,392.27 L149.30,394.93 L149.80,395.51 L150.30,394.78 L150.80,393.28 L151.30,393.53 L151.80,394.75 L152.30,394.59 L152.80,394.36 L153.30,393.70 L153.80,395.98 L154.30,395.43 L154.80,394.69 L155.30,398.00 L155.80,396.35 L156.30,398.46 L156.80,398.25 L157.30,395.72 L157.80,396.50 L158.30,394.41 L158.80,395.83 L159.30,396.88 L159.80,396.49 L160.30,395.41 L160.80,389.66 L161.30,388.92 L161.80,395.50 L162.30,396.46 L162.80,397.58 L163.30,398.00 L163.80,398.38 L164.30,397.12 L164.80,399.27 L165.30,399.05 L165.80,398.69 L166.30,399.70 L166.80,398.50 L167.30,399.23 L167.80,398.34 L168.30,398.02 L168.80,397.75 L169.30,399.09 L169.80,399.27 L170.30,398.23 L170.80,399.37 L171.30,399.24 L171.80,399.71 L172.30,400.16 L172.80,398.40 L173.30,399.25 L173.80,401.13 L174.30,399.27 L174.80,400.55 L175.30,398.53 L175.80,400.99 L176.30,401.25 L176.80,401.32 L177.30,401.15 L177.80,401.06 L178.30,404.84" stroke="#4cab19" stroke-width="2.1" fill="none" stroke-linejoin="round" clip-path="url(#clipg)"/>
<path d="M42.30,323.90 L42.30,440.70 L180.70,440.70" stroke="#8a8a8a" stroke-width="1.7" fill="none"/>
<path d="M42.30,440.70 h1.5 M42.30,401.77 h1.5 M42.30,362.83 h1.5 M42.30,323.90 h1.5 M42.30,440.70 v-1.5 M83.86,440.70 v-1.5 M125.42,440.70 v-1.5 M166.98,440.70 v-1.5" stroke="#555" stroke-width="1" fill="none"/>
<g font-family='"Liberation Sans", sans-serif' font-weight="bold" font-size="9.6" fill="#262626"><text x="37.70" y="443.70" text-anchor="end">0</text><text x="37.70" y="404.77" text-anchor="end">0.05</text><text x="37.70" y="365.83" text-anchor="end">0.1</text><text x="37.70" y="326.90" text-anchor="end">0.15</text><text x="42.30" y="453.30" text-anchor="middle">0k</text><text x="83.86" y="453.30" text-anchor="middle">20k</text><text x="125.42" y="453.30" text-anchor="middle">40k</text><text x="166.98" y="453.30" text-anchor="middle">60k</text></g>
<g stroke="#e6e6e6" stroke-width="1" fill="none"><line x1="218.50" y1="401.83" x2="360.70" y2="401.83"/><line x1="218.50" y1="362.97" x2="360.70" y2="362.97"/><line x1="218.50" y1="324.10" x2="360.70" y2="324.10"/><line x1="261.20" y1="324.10" x2="261.20" y2="440.70"/><line x1="303.91" y1="324.10" x2="303.91" y2="440.70"/><line x1="346.61" y1="324.10" x2="346.61" y2="440.70"/></g>
<path d="M218.50,440.70 L218.90,438.78 L219.30,436.79 L219.70,435.01 L220.10,432.87 L220.50,431.45 L220.90,428.32 L221.30,426.72 L221.70,424.55 L222.10,422.47 L222.50,421.51 L222.90,417.98 L223.30,415.90 L223.70,414.75 L224.10,413.49 L224.50,410.53 L224.90,411.01 L225.30,406.52 L225.70,405.07 L226.10,404.43 L226.50,399.73 L226.90,400.85 L227.30,398.59 L227.70,396.82 L228.10,401.38 L228.50,390.74 L228.90,388.03 L229.30,397.80 L229.70,375.30 L230.10,376.64 L230.50,378.09 L230.90,381.39 L231.30,374.15 L231.70,376.80 L232.10,366.20 L232.50,365.18 L232.90,361.07 L233.30,364.44 L233.70,369.87 L234.10,371.49 L234.50,373.62 L234.90,375.39 L235.30,357.99 L235.70,355.05 L236.10,367.44 L236.50,363.69 L236.90,347.07 L237.30,357.13 L237.70,355.13 L238.10,363.99 L238.50,352.19 L238.90,373.45 L239.30,355.15 L239.70,364.53 L240.10,358.81 L240.50,376.00 L240.90,369.23 L241.30,374.64 L241.70,361.58 L242.10,370.93 L242.50,368.58 L242.90,370.36 L243.30,362.42 L243.70,367.01 L244.10,368.12 L244.50,363.82 L244.90,365.25 L245.30,362.42 L245.70,356.66 L246.10,368.01 L246.50,363.28 L246.90,369.24 L247.30,375.37 L247.70,362.43 L248.10,368.36 L248.50,367.18 L248.90,358.06 L249.30,365.25 L249.70,357.54 L250.10,370.50 L250.50,368.29 L250.90,377.14 L251.30,375.00 L251.70,379.12 L252.10,380.68 L252.50,363.39 L252.90,367.44 L253.30,368.44 L253.70,371.84 L254.10,369.93 L254.50,367.30 L254.90,373.40 L255.30,375.31 L255.70,367.23 L256.10,374.18 L256.50,375.88 L256.90,378.77 L257.30,372.80 L257.70,377.79 L258.10,357.22 L258.50,378.74 L258.90,386.03 L259.30,379.07 L259.70,381.28 L260.10,378.81 L260.50,373.76 L260.90,382.93 L261.30,382.76 L261.70,370.65 L262.10,379.75 L262.50,375.89 L262.90,373.21 L263.30,380.33 L263.70,377.70 L264.10,383.10 L264.50,374.31 L264.90,372.79 L265.30,372.97 L265.70,377.42 L266.10,380.62 L266.50,379.10 L266.90,379.96 L267.30,380.99 L267.70,379.62 L268.10,377.95 L268.50,379.67 L268.90,380.75 L269.30,378.29 L269.70,385.25 L270.10,380.04 L270.50,380.43 L270.90,379.47 L271.30,378.67 L271.70,378.23 L272.10,380.11 L272.50,380.51 L272.90,380.61 L273.30,377.25 L273.70,378.23 L274.10,379.09 L274.50,381.40 L274.90,374.68 L275.30,386.35 L275.70,382.08 L276.10,378.77 L276.50,377.67 L276.90,382.51 L277.30,377.93 L277.70,383.53 L278.10,386.26 L278.50,374.13 L278.90,375.03 L279.30,383.77 L279.70,378.07 L280.10,377.65 L280.50,375.44 L280.90,385.10 L281.30,377.73 L281.70,381.85 L282.10,380.86 L282.50,383.01 L282.90,380.32 L283.30,379.29 L283.70,379.76 L284.10,385.42 L284.50,382.95 L284.90,388.14 L285.30,379.21 L285.70,376.80 L286.10,383.75 L286.50,378.44 L286.90,382.03 L287.30,383.17 L287.70,378.08 L288.10,379.54 L288.50,384.06 L288.90,385.02 L289.30,379.67 L289.70,382.99 L290.10,387.32 L290.50,384.01 L290.90,378.74 L291.30,382.74 L291.70,391.07 L292.10,376.88 L292.50,387.32 L292.90,390.38 L293.30,381.39 L293.70,384.58 L294.10,377.45 L294.50,380.24 L294.90,387.58 L295.30,388.88 L295.70,383.63 L296.10,380.91 L296.50,383.65 L296.90,382.96 L297.30,381.12 L297.70,384.29 L298.10,382.74 L298.50,388.26 L298.90,387.64 L299.30,384.27 L299.70,384.77 L300.10,379.03 L300.50,383.22 L300.90,385.52 L301.30,383.87 L301.70,387.08 L302.10,384.68 L302.50,386.79 L302.90,379.20 L303.30,384.11 L303.70,381.18 L304.10,385.54 L304.50,378.24 L304.90,380.10 L305.30,388.50 L305.70,389.82 L306.10,385.19 L306.50,382.71 L306.90,383.04 L307.30,384.59 L307.70,384.31 L308.10,385.20 L308.50,384.86 L308.90,387.97 L309.30,379.21 L309.70,386.45 L310.10,381.97 L310.50,382.26 L310.90,387.95 L311.30,384.92 L311.70,388.68 L312.10,384.66 L312.50,385.98 L312.90,381.66 L313.30,383.82 L313.70,387.97 L314.10,386.33 L314.50,383.68 L314.90,386.43 L315.30,385.12 L315.70,383.59 L316.10,388.41 L316.50,382.41 L316.90,391.56 L317.30,385.61 L317.70,383.65 L318.10,386.11 L318.50,385.87 L318.90,385.72 L319.30,392.00 L319.70,383.82 L320.10,390.28 L320.50,380.99 L320.90,389.56 L321.30,389.08 L321.70,389.47 L322.10,385.77 L322.50,387.63 L322.90,395.11 L323.30,383.95 L323.70,386.43 L324.10,389.87 L324.50,389.00 L324.90,386.74 L325.30,385.51 L325.70,387.33 L326.10,387.44 L326.50,390.55 L326.90,389.64 L327.30,390.14 L327.70,389.51 L328.10,395.85 L328.50,384.65 L328.90,388.77 L329.30,389.21 L329.70,390.69 L330.10,391.24 L330.50,388.55 L330.90,391.59 L331.30,389.90 L331.70,391.78 L332.10,386.00 L332.50,392.92 L332.90,387.33 L333.30,388.30 L333.70,390.21 L334.10,395.24 L334.50,391.14 L334.90,389.09 L335.30,397.08 L335.70,389.91 L336.10,391.50 L336.50,393.32 L336.90,391.25 L337.30,389.66 L337.70,392.70 L338.10,392.81 L338.50,393.30 L338.90,392.93 L339.30,394.39 L339.70,393.15 L340.10,394.22 L340.50,392.01 L340.90,395.89 L341.30,393.44 L341.70,389.62 L342.10,390.17 L342.50,393.95 L342.90,390.75 L343.30,393.35 L343.70,396.41 L344.10,392.94 L344.50,389.82 L344.90,389.27 L345.30,392.95 L345.70,392.90 L346.10,393.36 L346.50,390.80 L346.90,394.98 L347.30,390.41 L347.70,398.52 L348.10,393.40 L348.50,392.30 L348.90,393.37 L349.30,395.70 L349.70,396.01 L350.10,392.89 L350.50,395.02 L350.90,395.45 L351.30,397.00 L351.70,388.94 L352.10,392.03 L352.50,399.19 L352.90,392.81 L353.30,392.56 L353.70,393.65 L354.10,396.20 L354.50,396.99 L354.90,392.73 L355.30,394.77 L355.70,394.82 L356.10,394.80 L356.50,390.49 L356.90,395.52 L357.30,396.97 L357.70,395.25 L358.10,396.01" stroke="#a6e9f0" stroke-width="0.9" fill="none" clip-path="url(#cliph)"/>
<path d="M218.50,440.70 L219.00,438.31 L219.50,435.75 L220.00,433.45 L220.50,430.90 L221.00,428.59 L221.50,426.24 L222.00,423.25 L222.50,421.22 L223.00,418.48 L223.50,416.32 L224.00,414.09 L224.50,411.45 L225.00,408.94 L225.50,406.39 L226.00,405.04 L226.50,401.63 L227.00,398.67 L227.50,396.52 L228.00,394.40 L228.50,393.69 L229.00,388.61 L229.50,384.77 L230.00,381.93 L230.50,375.52 L231.00,375.58 L231.50,371.23 L232.00,370.19 L232.50,370.52 L233.00,371.78 L233.50,365.58 L234.00,365.90 L234.50,362.01 L235.00,365.96 L235.50,366.42 L236.00,367.01 L236.50,365.05 L237.00,364.39 L237.50,359.76 L238.00,358.47 L238.50,361.40 L239.00,361.30 L239.50,366.28 L240.00,370.17 L240.50,369.77 L241.00,367.34 L241.50,366.87 L242.00,367.12 L242.50,365.85 L243.00,363.20 L243.50,367.70 L244.00,366.34 L244.50,361.05 L245.00,358.99 L245.50,362.67 L246.00,369.92 L246.50,367.48 L247.00,367.66 L247.50,366.76 L248.00,367.81 L248.50,370.82 L249.00,369.12 L249.50,364.91 L250.00,371.51 L250.50,372.79 L251.00,367.88 L251.50,369.37 L252.00,368.14 L252.50,370.01 L253.00,368.43 L253.50,368.70 L254.00,367.88 L254.50,371.11 L255.00,369.81 L255.50,373.64 L256.00,373.79 L256.50,372.65 L257.00,376.98 L257.50,374.23 L258.00,375.68 L258.50,376.25 L259.00,375.75 L259.50,376.25 L260.00,374.50 L260.50,375.50 L261.00,374.66 L261.50,373.43 L262.00,375.54 L262.50,376.57 L263.00,375.55 L263.50,374.61 L264.00,376.61 L264.50,375.29 L265.00,376.96 L265.50,378.99 L266.00,374.58 L266.50,377.42 L267.00,377.64 L267.50,379.28 L268.00,375.73 L268.50,376.70 L269.00,376.74 L269.50,375.87 L270.00,376.69 L270.50,378.88 L271.00,378.38 L271.50,377.50 L272.00,376.79 L272.50,379.66 L273.00,380.14 L273.50,378.76 L274.00,380.80 L274.50,378.78 L275.00,379.12 L275.50,380.33 L276.00,380.64 L276.50,378.25 L277.00,379.35 L277.50,382.19 L278.00,383.31 L278.50,379.54 L279.00,382.06 L279.50,379.82 L280.00,379.85 L280.50,381.40 L281.00,380.50 L281.50,382.37 L282.00,382.30 L282.50,381.88 L283.00,381.76 L283.50,381.52 L284.00,383.09 L284.50,381.49 L285.00,379.29 L285.50,382.21 L286.00,382.82 L286.50,381.75 L287.00,382.34 L287.50,382.78 L288.00,382.67 L288.50,382.82 L289.00,383.87 L289.50,381.92 L290.00,382.43 L290.50,385.25 L291.00,383.94 L291.50,382.33 L292.00,382.62 L292.50,384.93 L293.00,382.88 L293.50,383.48 L294.00,382.65 L294.50,383.59 L295.00,382.45 L295.50,382.25 L296.00,384.17 L296.50,383.15 L297.00,381.46 L297.50,382.44 L298.00,385.88 L298.50,383.53 L299.00,385.28 L299.50,385.26 L300.00,383.14 L300.50,383.99 L301.00,383.99 L301.50,383.59 L302.00,383.10 L302.50,382.95 L303.00,382.58 L303.50,386.01 L304.00,384.63 L304.50,383.13 L305.00,384.87 L305.50,382.29 L306.00,384.70 L306.50,385.26 L307.00,387.03 L307.50,384.85 L308.00,386.82 L308.50,387.29 L309.00,384.20 L309.50,385.86 L310.00,383.89 L310.50,384.78 L311.00,386.28 L311.50,387.23 L312.00,385.90 L312.50,387.46 L313.00,387.19 L313.50,386.50 L314.00,387.15 L314.50,387.61 L315.00,385.90 L315.50,386.43 L316.00,387.83 L316.50,386.02 L317.00,388.38 L317.50,386.88 L318.00,388.63 L318.50,390.46 L319.00,389.96 L319.50,388.18 L320.00,387.84 L320.50,388.41 L321.00,386.08 L321.50,387.70 L322.00,387.17 L322.50,386.69 L323.00,390.17 L323.50,390.57 L324.00,389.73 L324.50,390.86 L325.00,388.22 L325.50,388.50 L326.00,389.08 L326.50,388.62 L327.00,389.56 L327.50,387.92 L328.00,390.43 L328.50,390.29 L329.00,390.71 L329.50,390.58 L330.00,390.53 L330.50,391.58 L331.00,390.94 L331.50,389.44 L332.00,390.37 L332.50,390.69 L333.00,390.56 L333.50,388.58 L334.00,392.86 L334.50,390.26 L335.00,392.35 L335.50,391.19 L336.00,391.07 L336.50,392.49 L337.00,390.98 L337.50,391.06 L338.00,392.14 L338.50,394.52 L339.00,392.66 L339.50,393.36 L340.00,393.90 L340.50,394.98 L341.00,394.92 L341.50,393.52 L342.00,392.82 L342.50,392.03 L343.00,393.70 L343.50,395.64 L344.00,395.91 L344.50,394.38 L345.00,394.06 L345.50,395.81 L346.00,395.52 L346.50,394.17 L347.00,394.11 L347.50,395.72 L348.00,394.11 L348.50,395.44 L349.00,393.72 L349.50,397.22 L350.00,397.14 L350.50,394.86 L351.00,393.35 L351.50,393.25 L352.00,397.34 L352.50,394.67 L353.00,396.25 L353.50,393.09 L354.00,395.17 L354.50,394.53 L355.00,392.80 L355.50,397.38 L356.00,393.22 L356.50,393.88 L357.00,394.75 L357.50,394.69 L358.00,394.05" stroke="#4cab19" stroke-width="2.1" fill="none" stroke-linejoin="round" clip-path="url(#cliph)"/>
<path d="M218.50,324.10 L218.50,440.70 L360.70,440.70" stroke="#8a8a8a" stroke-width="1.7" fill="none"/>
<path d="M218.50,440.70 h1.5 M218.50,401.83 h1.5 M218.50,362.97 h1.5 M218.50,324.10 h1.5 M218.50,440.70 v-1.5 M261.20,440.70 v-1.5 M303.91,440.70 v-1.5 M346.61,440.70 v-1.5" stroke="#555" stroke-width="1" fill="none"/>
<g font-family='"Liberation Sans", sans-serif' font-weight="bold" font-size="9.6" fill="#262626"><text x="213.90" y="443.70" text-anchor="end">0</text><text x="213.90" y="404.83" text-anchor="end">0.05</text><text x="213.90" y="365.97" text-anchor="end">0.1</text><text x="213.90" y="327.10" text-anchor="end">0.15</text><text x="218.50" y="453.30" text-anchor="middle">0k</text><text x="261.20" y="453.30" text-anchor="middle">20k</text><text x="303.91" y="453.30" text-anchor="middle">40k</text><text x="346.61" y="453.30" text-anchor="middle">60k</text></g>
<g stroke="#e6e6e6" stroke-width="1" fill="none"><line x1="402.70" y1="401.83" x2="544.40" y2="401.83"/><line x1="402.70" y1="362.97" x2="544.40" y2="362.97"/><line x1="402.70" y1="324.10" x2="544.40" y2="324.10"/><line x1="445.25" y1="324.10" x2="445.25" y2="440.70"/><line x1="487.81" y1="324.10" x2="487.81" y2="440.70"/><line x1="530.36" y1="324.10" x2="530.36" y2="440.70"/></g>
<path d="M402.70,440.70 L403.10,438.61 L403.50,436.55 L403.90,434.31 L404.30,432.42 L404.70,429.93 L405.10,428.12 L405.50,425.97 L405.90,423.94 L406.30,421.90 L406.70,420.15 L407.10,417.52 L407.50,415.25 L407.90,413.49 L408.30,410.80 L408.70,409.51 L409.10,408.26 L409.50,404.31 L409.90,402.73 L410.30,399.51 L410.70,396.57 L411.10,396.22 L411.50,394.30 L411.90,395.41 L412.30,392.28 L412.70,392.24 L413.10,391.59 L413.50,391.85 L413.90,389.75 L414.30,385.36 L414.70,383.74 L415.10,378.54 L415.50,379.57 L415.90,378.74 L416.30,379.27 L416.70,368.83 L417.10,374.76 L417.50,374.04 L417.90,371.99 L418.30,365.36 L418.70,364.36 L419.10,370.27 L419.50,369.18 L419.90,367.03 L420.30,372.49 L420.70,369.78 L421.10,369.98 L421.50,378.06 L421.90,378.86 L422.30,367.49 L422.70,358.06 L423.10,365.11 L423.50,361.68 L423.90,364.59 L424.30,364.84 L424.70,364.99 L425.10,356.08 L425.50,367.58 L425.90,368.37 L426.30,371.37 L426.70,363.13 L427.10,378.14 L427.50,370.74 L427.90,375.41 L428.30,376.39 L428.70,372.54 L429.10,377.48 L429.50,377.01 L429.90,380.93 L430.30,378.71 L430.70,384.07 L431.10,379.46 L431.50,384.36 L431.90,381.12 L432.30,376.00 L432.70,389.22 L433.10,381.60 L433.50,374.82 L433.90,377.31 L434.30,381.65 L434.70,387.05 L435.10,382.04 L435.50,387.58 L435.90,380.68 L436.30,381.92 L436.70,384.27 L437.10,390.52 L437.50,384.24 L437.90,380.62 L438.30,384.95 L438.70,377.78 L439.10,390.04 L439.50,380.99 L439.90,381.59 L440.30,381.76 L440.70,385.76 L441.10,389.41 L441.50,392.90 L441.90,388.60 L442.30,385.83 L442.70,385.94 L443.10,387.83 L443.50,385.57 L443.90,384.92 L444.30,384.96 L444.70,385.99 L445.10,394.78 L445.50,388.81 L445.90,387.85 L446.30,386.85 L446.70,392.26 L447.10,389.84 L447.50,388.84 L447.90,390.62 L448.30,394.94 L448.70,397.65 L449.10,389.34 L449.50,393.90 L449.90,394.23 L450.30,394.63 L450.70,394.81 L451.10,395.66 L451.50,395.94 L451.90,393.74 L452.30,386.91 L452.70,399.64 L453.10,390.32 L453.50,392.25 L453.90,398.18 L454.30,398.45 L454.70,390.89 L455.10,401.27 L455.50,395.45 L455.90,394.11 L456.30,397.70 L456.70,393.26 L457.10,391.18 L457.50,395.68 L457.90,396.66 L458.30,393.56 L458.70,396.89 L459.10,396.66 L459.50,395.64 L459.90,392.59 L460.30,402.11 L460.70,401.45 L461.10,395.70 L461.50,398.63 L461.90,394.15 L462.30,399.10 L462.70,396.94 L463.10,395.81 L463.50,396.31 L463.90,396.91 L464.30,398.52 L464.70,399.27 L465.10,397.80 L465.50,396.03 L465.90,400.90 L466.30,396.77 L466.70,396.75 L467.10,402.17 L467.50,397.04 L467.90,399.18 L468.30,393.93 L468.70,401.38 L469.10,401.35 L469.50,396.11 L469.90,400.98 L470.30,397.39 L470.70,396.54 L471.10,398.45 L471.50,402.00 L471.90,399.38 L472.30,400.43 L472.70,400.92 L473.10,400.73 L473.50,395.31 L473.90,402.03 L474.30,404.42 L474.70,400.93 L475.10,399.93 L475.50,398.27 L475.90,397.57 L476.30,398.48 L476.70,400.50 L477.10,400.34 L477.50,403.71 L477.90,399.06 L478.30,397.21 L478.70,399.27 L479.10,396.88 L479.50,395.70 L479.90,401.72 L480.30,403.38 L480.70,399.41 L481.10,402.04 L481.50,402.40 L481.90,405.21 L482.30,402.44 L482.70,400.58 L483.10,408.30 L483.50,398.36 L483.90,397.47 L484.30,398.62 L484.70,404.61 L485.10,403.12 L485.50,403.73 L485.90,406.23 L486.30,397.74 L486.70,401.44 L487.10,407.05 L487.50,396.09 L487.90,404.66 L488.30,406.49 L488.70,400.01 L489.10,406.96 L489.50,402.87 L489.90,399.65 L490.30,408.47 L490.70,407.07 L491.10,404.46 L491.50,400.89 L491.90,404.79 L492.30,403.12 L492.70,402.57 L493.10,400.28 L493.50,403.70 L493.90,406.69 L494.30,401.77 L494.70,403.39 L495.10,402.78 L495.50,410.80 L495.90,404.16 L496.30,397.23 L496.70,405.64 L497.10,406.35 L497.50,402.94 L497.90,403.99 L498.30,408.33 L498.70,399.87 L499.10,405.33 L499.50,407.12 L499.90,403.46 L500.30,404.10 L500.70,405.64 L501.10,404.46 L501.50,405.80 L501.90,404.32 L502.30,408.18 L502.70,407.21 L503.10,403.85 L503.50,405.76 L503.90,403.92 L504.30,406.05 L504.70,410.56 L505.10,408.45 L505.50,398.58 L505.90,403.88 L506.30,401.28 L506.70,405.22 L507.10,409.67 L507.50,401.57 L507.90,397.22 L508.30,408.86 L508.70,403.41 L509.10,409.52 L509.50,409.48 L509.90,409.21 L510.30,403.50 L510.70,411.35 L511.10,412.43 L511.50,403.11 L511.90,408.75 L512.30,403.64 L512.70,403.45 L513.10,408.38 L513.50,410.28 L513.90,402.50 L514.30,405.14 L514.70,411.13 L515.10,406.35 L515.50,402.13 L515.90,403.27 L516.30,408.90 L516.70,412.06 L517.10,404.33 L517.50,409.27 L517.90,406.63 L518.30,405.78 L518.70,408.30 L519.10,403.38 L519.50,402.62 L519.90,404.18 L520.30,402.84 L520.70,408.47 L521.10,409.40 L521.50,406.72 L521.90,411.01 L522.30,406.22 L522.70,406.90 L523.10,404.04 L523.50,404.03 L523.90,404.46 L524.30,407.75 L524.70,402.29 L525.10,400.85 L525.50,405.43 L525.90,405.33 L526.30,398.34 L526.70,408.97 L527.10,409.80 L527.50,405.99 L527.90,399.73 L528.30,403.30 L528.70,401.29 L529.10,410.56 L529.50,407.07 L529.90,406.85 L530.30,401.87 L530.70,404.02 L531.10,406.79 L531.50,410.29 L531.90,415.71 L532.30,405.48 L532.70,403.10 L533.10,409.08 L533.50,403.26 L533.90,408.27 L534.30,409.60 L534.70,405.96 L535.10,405.86 L535.50,410.62 L535.90,413.43 L536.30,405.23 L536.70,408.17 L537.10,402.87 L537.50,409.78 L537.90,413.59 L538.30,409.78 L538.70,406.19 L539.10,408.15 L539.50,411.86 L539.90,410.38 L540.30,411.14 L540.70,408.30 L541.10,408.87 L541.50,408.26 L541.90,413.91 L542.30,408.58" stroke="#a6e9f0" stroke-width="0.9" fill="none" clip-path="url(#clipi)"/>
<path d="M402.70,440.70 L403.20,438.06 L403.70,435.51 L404.20,432.85 L404.70,430.15 L405.20,427.57 L405.70,425.03 L406.20,422.51 L406.70,419.85 L407.20,416.90 L407.70,414.12 L408.20,411.60 L408.70,409.30 L409.20,406.19 L409.70,403.36 L410.20,399.58 L410.70,398.26 L411.20,395.87 L411.70,394.70 L412.20,393.49 L412.70,392.31 L413.20,390.44 L413.70,387.22 L414.20,384.24 L414.70,380.53 L415.20,380.23 L415.70,378.57 L416.20,376.48 L416.70,377.57 L417.20,375.44 L417.70,374.46 L418.20,373.68 L418.70,372.94 L419.20,366.89 L419.70,365.52 L420.20,368.04 L420.70,367.49 L421.20,370.62 L421.70,367.97 L422.20,363.64 L422.70,360.26 L423.20,358.54 L423.70,362.49 L424.20,366.92 L424.70,369.10 L425.20,362.95 L425.70,364.51 L426.20,366.30 L426.70,369.09 L427.20,370.32 L427.70,371.12 L428.20,373.88 L428.70,375.89 L429.20,376.95 L429.70,381.01 L430.20,381.68 L430.70,381.52 L431.20,380.33 L431.70,380.89 L432.20,381.58 L432.70,385.95 L433.20,382.62 L433.70,382.25 L434.20,382.98 L434.70,383.29 L435.20,383.46 L435.70,385.07 L436.20,385.39 L436.70,386.25 L437.20,385.11 L437.70,387.42 L438.20,384.38 L438.70,384.11 L439.20,382.12 L439.70,383.45 L440.20,386.99 L440.70,386.95 L441.20,387.51 L441.70,388.60 L442.20,386.46 L442.70,388.51 L443.20,390.31 L443.70,388.43 L444.20,390.87 L444.70,391.41 L445.20,391.02 L445.70,390.76 L446.20,391.06 L446.70,390.31 L447.20,389.66 L447.70,390.30 L448.20,392.22 L448.70,394.16 L449.20,393.34 L449.70,394.56 L450.20,393.27 L450.70,391.95 L451.20,392.37 L451.70,390.91 L452.20,393.06 L452.70,392.38 L453.20,391.89 L453.70,394.20 L454.20,392.70 L454.70,393.79 L455.20,397.26 L455.70,394.23 L456.20,395.67 L456.70,397.09 L457.20,396.02 L457.70,397.41 L458.20,395.52 L458.70,397.50 L459.20,396.34 L459.70,397.44 L460.20,398.07 L460.70,398.51 L461.20,398.12 L461.70,398.30 L462.20,397.01 L462.70,398.02 L463.20,396.60 L463.70,396.86 L464.20,396.05 L464.70,398.34 L465.20,396.51 L465.70,397.90 L466.20,398.46 L466.70,396.29 L467.20,397.99 L467.70,398.25 L468.20,400.02 L468.70,398.42 L469.20,401.05 L469.70,398.11 L470.20,398.31 L470.70,398.19 L471.20,400.17 L471.70,401.02 L472.20,400.45 L472.70,401.55 L473.20,403.65 L473.70,399.36 L474.20,399.72 L474.70,400.84 L475.20,400.56 L475.70,401.91 L476.20,402.02 L476.70,398.60 L477.20,399.44 L477.70,402.12 L478.20,402.24 L478.70,401.37 L479.20,402.19 L479.70,402.67 L480.20,401.38 L480.70,400.67 L481.20,403.38 L481.70,403.57 L482.20,401.16 L482.70,402.24 L483.20,401.97 L483.70,403.70 L484.20,405.46 L484.70,402.58 L485.20,401.22 L485.70,404.26 L486.20,405.13 L486.70,403.15 L487.20,403.22 L487.70,402.96 L488.20,404.63 L488.70,404.22 L489.20,405.53 L489.70,404.26 L490.20,405.95 L490.70,403.72 L491.20,403.67 L491.70,404.72 L492.20,402.74 L492.70,404.72 L493.20,403.34 L493.70,405.80 L494.20,404.21 L494.70,404.88 L495.20,405.53 L495.70,405.09 L496.20,405.08 L496.70,405.47 L497.20,406.26 L497.70,404.42 L498.20,403.91 L498.70,401.83 L499.20,404.00 L499.70,404.49 L500.20,403.93 L500.70,404.91 L501.20,404.37 L501.70,404.57 L502.20,405.35 L502.70,404.12 L503.20,405.30 L503.70,404.95 L504.20,404.06 L504.70,406.81 L505.20,406.41 L505.70,407.82 L506.20,405.55 L506.70,405.41 L507.20,406.28 L507.70,404.15 L508.20,402.72 L508.70,405.39 L509.20,405.49 L509.70,405.47 L510.20,405.26 L510.70,405.10 L511.20,407.70 L511.70,406.42 L512.20,404.74 L512.70,405.46 L513.20,406.96 L513.70,405.29 L514.20,406.52 L514.70,403.84 L515.20,404.61 L515.70,406.41 L516.20,407.58 L516.70,406.25 L517.20,406.94 L517.70,405.09 L518.20,405.51 L518.70,406.55 L519.20,407.34 L519.70,407.55 L520.20,407.80 L520.70,407.86 L521.20,408.08 L521.70,404.75 L522.20,406.29 L522.70,405.34 L523.20,406.19 L523.70,408.05 L524.20,404.86 L524.70,404.73 L525.20,406.06 L525.70,404.79 L526.20,406.56 L526.70,406.75 L527.20,406.01 L527.70,404.76 L528.20,403.41 L528.70,405.41 L529.20,406.24 L529.70,406.59 L530.20,408.11 L530.70,407.33 L531.20,406.35 L531.70,408.07 L532.20,407.44 L532.70,405.78 L533.20,406.18 L533.70,405.97 L534.20,408.05 L534.70,405.63 L535.20,406.99 L535.70,407.14 L536.20,407.75 L536.70,406.35 L537.20,407.63 L537.70,408.49 L538.20,409.02 L538.70,407.79 L539.20,406.99 L539.70,409.56 L540.20,406.79 L540.70,406.27 L541.20,406.12 L541.70,406.15 L542.20,408.10" stroke="#4cab19" stroke-width="2.1" fill="none" stroke-linejoin="round" clip-path="url(#clipi)"/>
<path d="M402.70,324.10 L402.70,440.70 L544.40,440.70" stroke="#8a8a8a" stroke-width="1.7" fill="none"/>
<path d="M402.70,440.70 h1.5 M402.70,401.83 h1.5 M402.70,362.97 h1.5 M402.70,324.10 h1.5 M402.70,440.70 v-1.5 M445.25,440.70 v-1.5 M487.81,440.70 v-1.5 M530.36,440.70 v-1.5" stroke="#555" stroke-width="1" fill="none"/>
<g font-family='"Liberation Sans", sans-serif' font-weight="bold" font-size="9.6" fill="#262626"><text x="398.10" y="443.70" text-anchor="end">0</text><text x="398.10" y="404.83" text-anchor="end">0.05</text><text x="398.10" y="365.97" text-anchor="end">0.1</text><text x="398.10" y="327.10" text-anchor="end">0.15</text><text x="402.70" y="453.30" text-anchor="middle">0k</text><text x="445.25" y="453.30" text-anchor="middle">20k</text><text x="487.81" y="453.30" text-anchor="middle">40k</text><text x="530.36" y="453.30" text-anchor="middle">60k</text></g>
<rect x="452" y="28" width="79" height="45" fill="#fff"/>
<line x1="454.4" y1="34.40" x2="479" y2="34.40" stroke="#0b84c3" stroke-width="1.9"/>
<text x="481" y="38.40" font-family='"Liberation Sans", sans-serif' font-weight="bold" font-size="8.8" fill="#000">train PCB_FS</text>
<line x1="454.4" y1="45.50" x2="479" y2="45.50" stroke="#ff6813" stroke-width="1.9"/>
<text x="481" y="49.50" font-family='"Liberation Sans", sans-serif' font-weight="bold" font-size="8.8" fill="#000">train PCB_SS</text>
<line x1="454.4" y1="56.50" x2="479" y2="56.50" stroke="#0b84c3" stroke-width="1.9" stroke-dasharray="5.6 3.6"/>
<text x="481" y="60.50" font-family='"Liberation Sans", sans-serif' font-weight="bold" font-size="8.8" fill="#000">valid PCB_FS</text>
<line x1="454.4" y1="67.50" x2="479" y2="67.50" stroke="#ff6813" stroke-width="1.9" stroke-dasharray="5.6 3.6"/>
<text x="481" y="71.50" font-family='"Liberation Sans", sans-serif' font-weight="bold" font-size="8.8" fill="#000">valid PCB_SS</text>
<rect x="447" y="250" width="65" height="43" fill="#fff"/>
<line x1="449.8" y1="255.5" x2="473.6" y2="255.5" stroke="#0b84c3" stroke-width="1.9"/>
<line x1="449.8" y1="266.0" x2="473.6" y2="266.0" stroke="#ff6813" stroke-width="1.9"/>
<circle cx="461.80" cy="276.50" r="3.70" fill="#1aaeea"/>
<path d="M461.80,282.77 L465.75,289.49 L457.85,289.49 Z" fill="url(#tg)" stroke="#ff7a10" stroke-width="0.8" stroke-linejoin="round"/>
<text x="475.5" y="259.50" font-family='"Liberation Sans", sans-serif' font-weight="bold" font-size="8.75" fill="#000">PCB_FS</text>
<text x="475.5" y="270.00" font-family='"Liberation Sans", sans-serif' font-weight="bold" font-size="8.75" fill="#000">PCB_SS</text>
<text x="475.5" y="280.50" font-family='"Liberation Sans", sans-serif' font-weight="bold" font-size="8.75" fill="#000">top-3 PCB_FS</text>
<text x="475.5" y="290.80" font-family='"Liberation Sans", sans-serif' font-weight="bold" font-size="8.75" fill="#000">top-3 PCB_SS</text>
<g font-family='"Liberation Sans", sans-serif' fill="#1a1a1a"><text x="83.6" y="14.7" font-size="13.1" font-weight="bold">Label_250</text><text x="250.2" y="15.4" font-size="13.1" font-weight="bold">Label_1000</text><text x="434.6" y="16.5" font-size="13.1" font-weight="bold">Label_4000</text><text x="113.70" y="166.00" font-size="13" text-anchor="middle">(a)</text><text x="293.70" y="166.00" font-size="13" text-anchor="middle">(b)</text><text x="475.50" y="166.20" font-size="13" text-anchor="middle">(c)</text><text x="113.70" y="316.60" font-size="13" text-anchor="middle">(d)</text><text x="293.70" y="316.80" font-size="13" text-anchor="middle">(e)</text><text x="474.40" y="316.80" font-size="13" text-anchor="middle">(f)</text><text x="113.50" y="483.00" font-size="13" text-anchor="middle">(g)</text><text x="293.10" y="483.00" font-size="13" text-anchor="middle">(h)</text><text x="473.80" y="483.00" font-size="13" text-anchor="middle">(i)</text><text x="111.50" y="468.4" font-size="10.7" font-weight="bold" text-anchor="middle">Training Steps</text><text x="289.60" y="468.4" font-size="10.7" font-weight="bold" text-anchor="middle">Training Steps</text><text x="473.55" y="468.4" font-size="10.7" font-weight="bold" text-anchor="middle">Training Steps</text><text transform="translate(13.7,87.4) rotate(-90)" font-size="11.35" font-weight="bold" text-anchor="middle">Total loss</text><text transform="translate(14.0,232.5) rotate(-90)" font-size="10.7" font-weight="bold" text-anchor="middle">Accuracy [%]</text><text transform="translate(13.8,381.8) rotate(-90)" font-size="11" font-weight="bold" text-anchor="middle">Unsupervised loss</text></g>
</svg></body></html>
